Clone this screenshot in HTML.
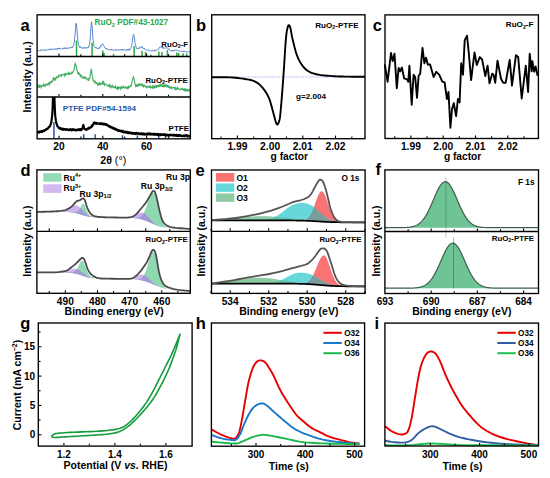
<!DOCTYPE html><html><head><meta charset="utf-8"><style>html,body{margin:0;padding:0;background:#fff;width:550px;height:478px;overflow:hidden}svg{display:block}text{font-family:"Liberation Sans", sans-serif}</style></head><body>
<svg width="550" height="478" viewBox="0 0 550 478">
<rect width="550" height="478" fill="#fff"/>
<clipPath id="ca1"><rect x="37.1" y="14.8" width="153.3" height="41.7"/></clipPath>
<clipPath id="ca2"><rect x="37.1" y="56.5" width="153.3" height="40.5"/></clipPath>
<clipPath id="ca3"><rect x="37.1" y="97.0" width="153.3" height="41.80000000000001"/></clipPath>
<line x1="76.52" y1="56.5" x2="76.52" y2="40.5" stroke="#2aa845" stroke-width="1.5" />
<line x1="92.07" y1="56.5" x2="92.07" y2="42.8" stroke="#2aa845" stroke-width="1.5" />
<line x1="102.8" y1="56.5" x2="102.8" y2="50.4" stroke="#2aa845" stroke-width="1.5" />
<line x1="104.11" y1="56.5" x2="104.11" y2="53" stroke="#2aa845" stroke-width="1.5" />
<line x1="113.53" y1="56.5" x2="113.53" y2="54" stroke="#2aa845" stroke-width="1.5" />
<line x1="134.12" y1="56.5" x2="134.12" y2="46" stroke="#2aa845" stroke-width="1.5" />
<line x1="142" y1="56.5" x2="142" y2="51.1" stroke="#2aa845" stroke-width="1.5" />
<line x1="145.51" y1="56.5" x2="145.51" y2="52" stroke="#2aa845" stroke-width="1.5" />
<line x1="150.98" y1="56.5" x2="150.98" y2="54.5" stroke="#2aa845" stroke-width="1.5" />
<line x1="158.86" y1="56.5" x2="158.86" y2="51.5" stroke="#2aa845" stroke-width="1.5" />
<line x1="161.93" y1="56.5" x2="161.93" y2="52" stroke="#2aa845" stroke-width="1.5" />
<line x1="167.41" y1="56.5" x2="167.41" y2="50" stroke="#2aa845" stroke-width="1.5" />
<line x1="176.82" y1="56.5" x2="176.82" y2="52.5" stroke="#2aa845" stroke-width="1.5" />
<line x1="178.57" y1="56.5" x2="178.57" y2="53" stroke="#2aa845" stroke-width="1.5" />
<line x1="183.17" y1="56.5" x2="183.17" y2="53.5" stroke="#2aa845" stroke-width="1.5" />
<line x1="186.68" y1="56.5" x2="186.68" y2="53.5" stroke="#2aa845" stroke-width="1.5" />
<path d="M37.1,50.58 L37.4,50.82 L37.7,50.54 L38,50.48 L38.3,50.24 L38.6,50.47 L38.9,50.91 L39.2,50.64 L39.5,50.83 L39.8,50.53 L40.1,50.55 L40.4,50.45 L40.7,49.78 L41,50.64 L41.3,50.49 L41.6,50.46 L41.9,49.67 L42.2,49.62 L42.5,49.9 L42.8,50.02 L43.1,50.26 L43.4,50.11 L43.7,50.29 L44,49.85 L44.3,50.16 L44.6,50.17 L44.9,49.77 L45.2,50.58 L45.5,50.14 L45.8,50.34 L46.1,49.68 L46.4,49.61 L46.7,49.73 L47,49.78 L47.3,50.02 L47.6,49.85 L47.9,49.59 L48.2,49.38 L48.5,49.51 L48.8,50.09 L49.1,49.35 L49.4,49.7 L49.7,49.73 L50,49.04 L50.3,49.55 L50.6,49.97 L50.9,48.78 L51.2,49.35 L51.5,49.4 L51.8,49.12 L52.1,49.56 L52.4,49.34 L52.7,48.82 L53,49.6 L53.3,49.52 L53.6,49.59 L53.9,49.74 L54.2,49.34 L54.5,49.23 L54.8,48.7 L55.1,49.35 L55.4,48.89 L55.7,48.92 L56,48.61 L56.3,48.69 L56.6,48.82 L56.9,49.43 L57.2,48.24 L57.5,48.42 L57.8,48.99 L58.1,49.38 L58.4,49.05 L58.7,48.16 L59,47.92 L59.3,48.9 L59.6,48.49 L59.9,48.33 L60.2,49.04 L60.5,49.06 L60.8,48.71 L61.1,48.71 L61.4,48.76 L61.7,49.14 L62,48.78 L62.3,48.72 L62.6,48.71 L62.9,47.94 L63.2,48.92 L63.5,48.78 L63.8,48.6 L64.1,47.7 L64.4,48.15 L64.7,48.64 L65,47.68 L65.3,48.22 L65.6,48.62 L65.9,47.77 L66.2,48.77 L66.5,48.37 L66.8,48.09 L67.1,48.22 L67.4,48.3 L67.7,48.08 L68,48.4 L68.3,47.75 L68.6,47.8 L68.9,48.28 L69.2,47.89 L69.5,47.54 L69.8,48.14 L70.1,48.27 L70.4,47.55 L70.7,47.16 L71,47.53 L71.3,47.45 L71.6,47.3 L71.9,47.78 L72.2,46.79 L72.5,47.41 L72.8,46.28 L73.1,46.09 L73.4,46.05 L73.7,45.39 L74,44.03 L74.3,42.02 L74.6,39.42 L74.9,36.17 L75.2,32.5 L75.5,28.25 L75.8,24.99 L76.1,23.22 L76.4,23.42 L76.7,26.2 L77,29.85 L77.3,34.37 L77.6,37.45 L77.9,40.22 L78.2,42.55 L78.5,44.31 L78.8,45.74 L79.1,46.01 L79.4,46.73 L79.7,47.55 L80,46.23 L80.3,46.9 L80.6,47.51 L80.9,47.67 L81.2,47.71 L81.5,47.55 L81.8,47.99 L82.1,47.92 L82.4,47.68 L82.7,48.76 L83,48.06 L83.3,47.77 L83.6,47.96 L83.9,47.93 L84.2,48 L84.5,47.08 L84.8,47.87 L85.1,48.39 L85.4,47.62 L85.7,47.99 L86,48.33 L86.3,48.26 L86.6,48.43 L86.9,47.26 L87.2,47.65 L87.5,47.56 L87.8,47.78 L88.1,47.77 L88.4,46.21 L88.7,47.17 L89,45.71 L89.3,45.53 L89.6,43.29 L89.9,41.65 L90.2,38.89 L90.5,34.42 L90.8,29.96 L91.1,25.75 L91.4,22.44 L91.7,21.87 L92,24.78 L92.3,28.76 L92.6,32.94 L92.9,38.27 L93.2,40.35 L93.5,43.6 L93.8,44.91 L94.1,46.15 L94.4,47.04 L94.7,47.31 L95,47.74 L95.3,47.18 L95.6,47.34 L95.9,48.2 L96.2,47.74 L96.5,47.79 L96.8,47.7 L97.1,48.7 L97.4,48.55 L97.7,48.82 L98,47.98 L98.3,48.29 L98.6,47.84 L98.9,48.43 L99.2,48.6 L99.5,47.55 L99.8,48.17 L100.1,47.66 L100.4,46.88 L100.7,45.81 L101,46.48 L101.3,45.42 L101.6,44.71 L101.9,44.59 L102.2,44.24 L102.5,44.47 L102.8,43.66 L103.1,44.7 L103.4,45.29 L103.7,45.84 L104,45.88 L104.3,46.28 L104.6,47.45 L104.9,47.62 L105.2,48.04 L105.5,48.84 L105.8,48.52 L106.1,48.02 L106.4,48.85 L106.7,48.46 L107,49.5 L107.3,49.4 L107.6,49.13 L107.9,49.4 L108.2,49.74 L108.5,49.52 L108.8,49.99 L109.1,49.54 L109.4,49.96 L109.7,50.15 L110,50.22 L110.3,49.45 L110.6,50.02 L110.9,49.09 L111.2,49.39 L111.5,49.11 L111.8,50.2 L112.1,49.42 L112.4,49.87 L112.7,49.83 L113,49.91 L113.3,49.74 L113.6,50.05 L113.9,50.62 L114.2,50.03 L114.5,50.22 L114.8,50.41 L115.1,50 L115.4,49.63 L115.7,49.88 L116,50.45 L116.3,49.5 L116.6,49.87 L116.9,50.43 L117.2,50.35 L117.5,50.08 L117.8,50.36 L118.1,50.13 L118.4,49.66 L118.7,49.53 L119,49.85 L119.3,50.39 L119.6,49.87 L119.9,49.75 L120.2,49.8 L120.5,49.53 L120.8,50.02 L121.1,49.65 L121.4,50.18 L121.7,49.23 L122,50.16 L122.3,49.82 L122.6,49.36 L122.9,50.29 L123.2,49.93 L123.5,49.24 L123.8,49.71 L124.1,50.11 L124.4,49.84 L124.7,50.26 L125,50.24 L125.3,50.19 L125.6,50.04 L125.9,50.37 L126.2,50.1 L126.5,50 L126.8,49.08 L127.1,50.09 L127.4,50.19 L127.7,49.59 L128,49.48 L128.3,50.26 L128.6,48.91 L128.9,49.62 L129.2,50.21 L129.5,48.94 L129.8,49.37 L130.1,49.61 L130.4,48.64 L130.7,48.5 L131,48.05 L131.3,46.6 L131.6,45.74 L131.9,44.35 L132.2,42.64 L132.5,40.14 L132.8,37.78 L133.1,35.42 L133.4,34.28 L133.7,34.49 L134,35.2 L134.3,36.71 L134.6,38.95 L134.9,42.4 L135.2,43.84 L135.5,45.26 L135.8,45.35 L136.1,47.35 L136.4,47.88 L136.7,48.67 L137,48.46 L137.3,48.41 L137.6,48.67 L137.9,47.8 L138.2,48.79 L138.5,48.45 L138.8,47.95 L139.1,48.49 L139.4,48.46 L139.7,47.12 L140,47.15 L140.3,47.27 L140.6,47.05 L140.9,46.71 L141.2,46.44 L141.5,47.54 L141.8,47.26 L142.1,46.66 L142.4,46.88 L142.7,48.24 L143,48.29 L143.3,48.87 L143.6,48.79 L143.9,48.45 L144.2,49.06 L144.5,48.4 L144.8,49.06 L145.1,49.44 L145.4,49.76 L145.7,49.42 L146,49.72 L146.3,50 L146.6,50.04 L146.9,50.19 L147.2,50.1 L147.5,49.98 L147.8,50.42 L148.1,50.22 L148.4,49.97 L148.7,50.09 L149,50.36 L149.3,50.38 L149.6,50.52 L149.9,50.52 L150.2,50.63 L150.5,50.58 L150.8,50.23 L151.1,50.87 L151.4,51.14 L151.7,50.97 L152,50.8 L152.3,51.07 L152.6,50.62 L152.9,50.34 L153.2,51.01 L153.5,50.62 L153.8,51.15 L154.1,50.46 L154.4,49.87 L154.7,50.37 L155,51.22 L155.3,50.45 L155.6,50.02 L155.9,50.13 L156.2,50.46 L156.5,50.32 L156.8,50.04 L157.1,50.31 L157.4,49.82 L157.7,49.33 L158,49.27 L158.3,49.36 L158.6,48.82 L158.9,48.52 L159.2,47.46 L159.5,47.48 L159.8,47.5 L160.1,46.89 L160.4,47.18 L160.7,46.89 L161,46.95 L161.3,46.58 L161.6,47.65 L161.9,47.34 L162.2,47.02 L162.5,47.33 L162.8,48.4 L163.1,47.57 L163.4,48.2 L163.7,48.39 L164,48.14 L164.3,47.77 L164.6,48.22 L164.9,48.21 L165.2,48.36 L165.5,48.11 L165.8,47.71 L166.1,47.9 L166.4,47.74 L166.7,47.65 L167,47.72 L167.3,47.81 L167.6,48.4 L167.9,48.1 L168.2,48.57 L168.5,49.1 L168.8,48.88 L169.1,49.51 L169.4,49.2 L169.7,49.86 L170,50.47 L170.3,50.6 L170.6,50.5 L170.9,50.52 L171.2,50.17 L171.5,51.35 L171.8,50.93 L172.1,51.16 L172.4,50.48 L172.7,50.73 L173,50.15 L173.3,51.04 L173.6,51.07 L173.9,50.03 L174.2,50.62 L174.5,50.79 L174.8,49.88 L175.1,49.77 L175.4,49.97 L175.7,50.06 L176,49.74 L176.3,50.23 L176.6,50.32 L176.9,50.5 L177.2,50.61 L177.5,50.99 L177.8,50.99 L178.1,50.25 L178.4,50.65 L178.7,50.57 L179,50.67 L179.3,51.12 L179.6,51.23 L179.9,51.47 L180.2,50.8 L180.5,50.97 L180.8,51.44 L181.1,51.42 L181.4,51.41 L181.7,51.53 L182,51.31 L182.3,51.85 L182.6,51.75 L182.9,51.62 L183.2,51.44 L183.5,51.63 L183.8,50.76 L184.1,51.39 L184.4,51.77 L184.7,51.25 L185,51.87 L185.3,51.87 L185.6,51.36 L185.9,51.78 L186.2,51.78 L186.5,52.07 L186.8,52.14 L187.1,51.93 L187.4,51.67 L187.7,51.94 L188,51.99 L188.3,52.29 L188.6,52.15 L188.9,51.82 L189.2,51.62 L189.5,51.98 L189.8,51.87 L190.1,51.76 L190.4,52.13" fill="none" stroke="#5585c8" stroke-width="1" clip-path="url(#ca1)"/>
<path d="M37.1,86.28 L37.4,86.58 L37.7,86.78 L38,86.17 L38.3,87.76 L38.6,86.12 L38.9,86.92 L39.2,86.28 L39.5,86.82 L39.8,84.67 L40.1,85.6 L40.4,86.14 L40.7,86.3 L41,87.29 L41.3,86.03 L41.6,86.55 L41.9,86.19 L42.2,86.25 L42.5,85.93 L42.8,85.48 L43.1,85.83 L43.4,84.82 L43.7,86.12 L44,84.75 L44.3,85.46 L44.6,86.53 L44.9,85.07 L45.2,85.11 L45.5,85.66 L45.8,84.85 L46.1,84.22 L46.4,84.72 L46.7,84.79 L47,84.73 L47.3,83.71 L47.6,85.09 L47.9,84.91 L48.2,83.78 L48.5,83.8 L48.8,83.25 L49.1,84.22 L49.4,82.82 L49.7,83.51 L50,82.69 L50.3,82.31 L50.6,82.91 L50.9,83.02 L51.2,81.96 L51.5,81.31 L51.8,81.94 L52.1,81.16 L52.4,81.08 L52.7,81.34 L53,79.87 L53.3,76.95 L53.6,78.89 L53.9,78.95 L54.2,79.84 L54.5,78.87 L54.8,79.04 L55.1,77.81 L55.4,79.72 L55.7,79.25 L56,77.48 L56.3,77.08 L56.6,76.79 L56.9,78.24 L57.2,77.08 L57.5,77.15 L57.8,76.84 L58.1,76.79 L58.4,76.04 L58.7,76.54 L59,75.5 L59.3,76.15 L59.6,76.22 L59.9,76.14 L60.2,75.56 L60.5,74.99 L60.8,75.46 L61.1,74.94 L61.4,76.09 L61.7,75.54 L62,74.93 L62.3,74.64 L62.6,74.42 L62.9,74.21 L63.2,74.48 L63.5,74.79 L63.8,74.84 L64.1,74.8 L64.4,75.64 L64.7,73.88 L65,74.23 L65.3,75.82 L65.6,72.98 L65.9,73.75 L66.2,74.13 L66.5,74.09 L66.8,74.21 L67.1,73.79 L67.4,74.12 L67.7,73.9 L68,74.29 L68.3,72.66 L68.6,73.22 L68.9,73.71 L69.2,73.05 L69.5,73 L69.8,73.96 L70.1,73.14 L70.4,73.86 L70.7,73.87 L71,73.55 L71.3,73.6 L71.6,73.15 L71.9,72.26 L72.2,72.95 L72.5,73.05 L72.8,72.18 L73.1,72.03 L73.4,71.94 L73.7,70.09 L74,69.82 L74.3,69.08 L74.6,65.97 L74.9,64.8 L75.2,63.52 L75.5,64.36 L75.8,64.45 L76.1,66.3 L76.4,67.1 L76.7,69.13 L77,70.49 L77.3,70.48 L77.6,73.17 L77.9,73.38 L78.2,72.16 L78.5,73.96 L78.8,73.77 L79.1,74.42 L79.4,74.64 L79.7,73.78 L80,74.79 L80.3,76.06 L80.6,75.05 L80.9,75.01 L81.2,75.03 L81.5,75.33 L81.8,76.49 L82.1,77.52 L82.4,76.97 L82.7,77.07 L83,78.44 L83.3,76.94 L83.6,76.99 L83.9,77.86 L84.2,78.02 L84.5,77.23 L84.8,77.28 L85.1,78.3 L85.4,78.41 L85.7,77.61 L86,78.41 L86.3,78.33 L86.6,79.06 L86.9,78.84 L87.2,78.97 L87.5,78.92 L87.8,79.86 L88.1,80.14 L88.4,79.12 L88.7,79.81 L89,78.72 L89.3,78.93 L89.6,78.74 L89.9,78.13 L90.2,75.32 L90.5,73.3 L90.8,71.16 L91.1,68.7 L91.4,70.03 L91.7,71.67 L92,74.85 L92.3,76.19 L92.6,77.33 L92.9,79.62 L93.2,80.42 L93.5,80.35 L93.8,81.52 L94.1,81.12 L94.4,81.19 L94.7,82.09 L95,81.09 L95.3,81.84 L95.6,82.45 L95.9,83.18 L96.2,82.77 L96.5,83.25 L96.8,82.87 L97.1,83.6 L97.4,84.52 L97.7,83.21 L98,85.14 L98.3,83.42 L98.6,83.89 L98.9,84.05 L99.2,84.61 L99.5,83.27 L99.8,82.75 L100.1,84.32 L100.4,84.28 L100.7,84 L101,85 L101.3,83.33 L101.6,83.16 L101.9,83.38 L102.2,82.91 L102.5,83.63 L102.8,81.92 L103.1,82.55 L103.4,80.88 L103.7,83.65 L104,83.17 L104.3,84.18 L104.6,85.14 L104.9,84.04 L105.2,84.06 L105.5,84.05 L105.8,83.95 L106.1,84.24 L106.4,85.14 L106.7,84.9 L107,85.03 L107.3,84.99 L107.6,85.75 L107.9,85.59 L108.2,85.3 L108.5,85.88 L108.8,85.48 L109.1,84.97 L109.4,86.62 L109.7,86.12 L110,85.35 L110.3,86.66 L110.6,86.31 L110.9,85.25 L111.2,87.24 L111.5,86.56 L111.8,86.98 L112.1,86.65 L112.4,86.53 L112.7,85.78 L113,87.38 L113.3,86.9 L113.6,86.79 L113.9,87.26 L114.2,87.18 L114.5,87.63 L114.8,87.08 L115.1,87.37 L115.4,86.19 L115.7,87.31 L116,88.05 L116.3,88.44 L116.6,87.42 L116.9,87.55 L117.2,88.57 L117.5,87.42 L117.8,88.05 L118.1,88.61 L118.4,87.61 L118.7,88.32 L119,87.15 L119.3,87.69 L119.6,87.51 L119.9,87.62 L120.2,88.22 L120.5,88.97 L120.8,87.13 L121.1,87.17 L121.4,87.81 L121.7,86.87 L122,87.79 L122.3,87.82 L122.6,87.3 L122.9,87.78 L123.2,86.52 L123.5,87.89 L123.8,86.5 L124.1,87 L124.4,87.07 L124.7,87.15 L125,87.89 L125.3,87.4 L125.6,87.09 L125.9,87.62 L126.2,88.21 L126.5,87.24 L126.8,87.42 L127.1,87.91 L127.4,87.29 L127.7,86.32 L128,88.54 L128.3,88.33 L128.6,85.76 L128.9,86.87 L129.2,87.07 L129.5,87.32 L129.8,87.04 L130.1,86.35 L130.4,85.7 L130.7,86.12 L131,86.28 L131.3,84.41 L131.6,83.59 L131.9,83.03 L132.2,80.45 L132.5,79.84 L132.8,78.19 L133.1,77.64 L133.4,76.74 L133.7,77.38 L134,79.05 L134.3,80.82 L134.6,81.9 L134.9,83.49 L135.2,84.82 L135.5,85.69 L135.8,86.38 L136.1,85.12 L136.4,85.45 L136.7,84.26 L137,86.88 L137.3,85.27 L137.6,85.61 L137.9,85.84 L138.2,84.58 L138.5,85.53 L138.8,85.07 L139.1,83.82 L139.4,84.93 L139.7,85.31 L140,83.35 L140.3,84.87 L140.6,84.47 L140.9,84.64 L141.2,84.68 L141.5,85.28 L141.8,84.48 L142.1,85.28 L142.4,84.72 L142.7,85.6 L143,84.86 L143.3,85.45 L143.6,86.7 L143.9,86.06 L144.2,85.81 L144.5,85.32 L144.8,85.62 L145.1,86.29 L145.4,86.8 L145.7,86.56 L146,86.69 L146.3,86.41 L146.6,87.3 L146.9,86.31 L147.2,86.28 L147.5,87.19 L147.8,86.76 L148.1,86.6 L148.4,86.48 L148.7,86.73 L149,87.31 L149.3,87.2 L149.6,86.32 L149.9,87.35 L150.2,87.21 L150.5,86.5 L150.8,87.56 L151.1,86.92 L151.4,86.88 L151.7,87.55 L152,87.86 L152.3,86.64 L152.6,87.31 L152.9,86.51 L153.2,88.41 L153.5,86.7 L153.8,87.7 L154.1,86.57 L154.4,87.42 L154.7,88.23 L155,85.34 L155.3,86.56 L155.6,87.07 L155.9,86.66 L156.2,86.24 L156.5,87.86 L156.8,86.54 L157.1,85.41 L157.4,86.82 L157.7,85.17 L158,86.78 L158.3,85.64 L158.6,85.96 L158.9,86.53 L159.2,85.75 L159.5,84.76 L159.8,84.51 L160.1,86.18 L160.4,85.88 L160.7,84.94 L161,85.96 L161.3,85.79 L161.6,85.95 L161.9,84.27 L162.2,85.52 L162.5,86.31 L162.8,86.26 L163.1,86.38 L163.4,84.4 L163.7,85.97 L164,86.13 L164.3,87.32 L164.6,85.16 L164.9,85.47 L165.2,85.64 L165.5,86.12 L165.8,85.32 L166.1,86.33 L166.4,85.26 L166.7,86.02 L167,85.71 L167.3,86.3 L167.6,85.98 L167.9,85.61 L168.2,87.4 L168.5,87.08 L168.8,86.7 L169.1,87.27 L169.4,87.84 L169.7,86.74 L170,87.33 L170.3,87.8 L170.6,87.87 L170.9,87.42 L171.2,86.42 L171.5,88.49 L171.8,88 L172.1,87.86 L172.4,87.74 L172.7,88.12 L173,87.76 L173.3,87.45 L173.6,87.67 L173.9,87.81 L174.2,87.85 L174.5,87.57 L174.8,88.7 L175.1,87.58 L175.4,88.82 L175.7,87.86 L176,88.73 L176.3,89.39 L176.6,88.74 L176.9,88.23 L177.2,88.75 L177.5,88.86 L177.8,87.78 L178.1,88.5 L178.4,89.01 L178.7,88.68 L179,89.06 L179.3,89.5 L179.6,89.57 L179.9,89.7 L180.2,89.56 L180.5,89.07 L180.8,89.27 L181.1,89.16 L181.4,89.18 L181.7,89.3 L182,88.41 L182.3,89.29 L182.6,89.52 L182.9,88.99 L183.2,89.6 L183.5,89.96 L183.8,89.59 L184.1,90.98 L184.4,88.21 L184.7,89.69 L185,88.76 L185.3,90.49 L185.6,91.53 L185.9,88.48 L186.2,90.1 L186.5,90.37 L186.8,89.92 L187.1,90.47 L187.4,88.84 L187.7,90.73 L188,90.49 L188.3,90.32 L188.6,89.99 L188.9,90.77 L189.2,90.13 L189.5,90.6 L189.8,90.2 L190.1,89.2 L190.4,90.57" fill="none" stroke="#45ad62" stroke-width="1.1" clip-path="url(#ca2)"/>
<line x1="53.96" y1="138.8" x2="53.96" y2="122" stroke="#1f5aa6" stroke-width="1.5" />
<line x1="83.75" y1="138.8" x2="83.75" y2="134.3" stroke="#1f5aa6" stroke-width="1.5" />
<line x1="95.14" y1="138.8" x2="95.14" y2="134.3" stroke="#1f5aa6" stroke-width="1.5" />
<line x1="122.51" y1="138.8" x2="122.51" y2="135.3" stroke="#1f5aa6" stroke-width="1.5" />
<line x1="137.4" y1="138.8" x2="137.4" y2="135.3" stroke="#1f5aa6" stroke-width="1.5" />
<line x1="158.86" y1="138.8" x2="158.86" y2="135.6" stroke="#1f5aa6" stroke-width="1.5" />
<line x1="165.43" y1="138.8" x2="165.43" y2="135.6" stroke="#1f5aa6" stroke-width="1.5" />
<path d="M37.1,132.55 L37.35,132.66 L37.6,132.11 L37.85,132.31 L38.1,132.45 L38.35,132.25 L38.6,132.53 L38.85,132.69 L39.1,131.76 L39.35,131.4 L39.6,132.18 L39.85,132.32 L40.1,132.08 L40.35,131.98 L40.6,131.49 L40.85,131.4 L41.1,131.81 L41.35,131.21 L41.6,130.87 L41.85,131.05 L42.1,132.03 L42.35,131.79 L42.6,130.93 L42.85,130.84 L43.1,131.06 L43.35,130.68 L43.6,131.22 L43.85,130.72 L44.1,130.33 L44.35,130.96 L44.6,130.3 L44.85,130.43 L45.1,130.24 L45.35,130.02 L45.6,130.08 L45.85,129.63 L46.1,129.14 L46.35,128.88 L46.6,129.01 L46.85,128.99 L47.1,129.03 L47.35,128.87 L47.6,128.81 L47.85,128.47 L48.1,127.96 L48.35,127.73 L48.6,127.03 L48.85,127.31 L49.1,127.21 L49.35,126.92 L49.6,126.38 L49.85,125.97 L50.1,125.84 L50.35,125.03 L50.6,124.62 L50.85,123.83 L51.1,122.82 L51.35,122.04 L51.6,120.09 L51.85,118.37 L52.1,115.88 L52.35,112.67 L52.6,108.83 L52.85,102.36 L53.1,92.68 L53.35,81.7 L53.6,73.41 L53.85,74.4 L54.1,84.12 L54.35,94.33 L54.6,103.12 L54.85,109.52 L55.1,114.03 L55.35,116.64 L55.6,118.57 L55.85,120.41 L56.1,121.63 L56.35,122.63 L56.6,124.2 L56.85,124.27 L57.1,125.07 L57.35,126.22 L57.6,126.37 L57.85,126.49 L58.1,126.54 L58.35,127.14 L58.6,127.76 L58.85,127.68 L59.1,128.08 L59.35,127.91 L59.6,128.19 L59.85,128.12 L60.1,128.44 L60.35,128.82 L60.6,128.11 L60.85,128.61 L61.1,128.79 L61.35,128.63 L61.6,128.78 L61.85,129.18 L62.1,129.61 L62.35,129.25 L62.6,129.21 L62.85,128.7 L63.1,129.79 L63.35,129.28 L63.6,129.28 L63.85,129 L64.1,129.35 L64.35,129.07 L64.6,129.45 L64.85,129.6 L65.1,129.49 L65.35,129.59 L65.6,129.27 L65.85,129.98 L66.1,129.38 L66.35,129.05 L66.6,129.55 L66.85,129.4 L67.1,129.34 L67.35,129.55 L67.6,129.76 L67.85,129.33 L68.1,129.66 L68.35,130.14 L68.6,129.93 L68.85,129.69 L69.1,129.79 L69.35,129.72 L69.6,129.75 L69.85,130 L70.1,129.76 L70.35,129.07 L70.6,129.79 L70.85,129.54 L71.1,130 L71.35,129.63 L71.6,129.86 L71.85,130.48 L72.1,129.51 L72.35,129.49 L72.6,129.41 L72.85,129.12 L73.1,129.28 L73.35,129.95 L73.6,129.65 L73.85,129.29 L74.1,129.4 L74.35,130.03 L74.6,129.62 L74.85,129.74 L75.1,129.95 L75.35,130.26 L75.6,130.44 L75.85,130.16 L76.1,129.9 L76.35,129.91 L76.6,130.39 L76.85,130.28 L77.1,129.75 L77.35,129.98 L77.6,129.93 L77.85,129.85 L78.1,129.68 L78.35,129.43 L78.6,129.66 L78.85,129.35 L79.1,130.17 L79.35,129.95 L79.6,129.42 L79.85,130.18 L80.1,130.01 L80.35,129.14 L80.6,130.23 L80.85,129.88 L81.1,130.2 L81.35,129.14 L81.6,129.55 L81.85,129.36 L82.1,129.05 L82.35,128.64 L82.6,128.26 L82.85,126.51 L83.1,125.4 L83.35,124.92 L83.6,126.02 L83.85,127.14 L84.1,128.24 L84.35,128.71 L84.6,128.94 L84.85,128.91 L85.1,129.1 L85.35,129.6 L85.6,129.6 L85.85,129.43 L86.1,129.32 L86.35,129.84 L86.6,129.09 L86.85,129.36 L87.1,129.41 L87.35,128.87 L87.6,129.09 L87.85,128.39 L88.1,128.92 L88.35,128.56 L88.6,127.9 L88.85,128.46 L89.1,127.87 L89.35,128.41 L89.6,127.7 L89.85,127.73 L90.1,127.74 L90.35,127.43 L90.6,127.49 L90.85,127.12 L91.1,127.36 L91.35,126.99 L91.6,126.72 L91.85,125.5 L92.1,126.33 L92.35,125.65 L92.6,124.75 L92.85,124.95 L93.1,124.67 L93.35,124.42 L93.6,123.31 L93.85,123.59 L94.1,122.57 L94.35,123.16 L94.6,122.53 L94.85,122.99 L95.1,122.86 L95.35,122.78 L95.6,123.55 L95.85,123.56 L96.1,123.81 L96.35,123.65 L96.6,123.25 L96.85,122.95 L97.1,123.28 L97.35,123.3 L97.6,123.28 L97.85,123.72 L98.1,123.66 L98.35,123.5 L98.6,123.65 L98.85,123.57 L99.1,123.7 L99.35,123.87 L99.6,123.95 L99.85,123.47 L100.1,123.24 L100.35,124.13 L100.6,123.76 L100.85,124.07 L101.1,123.26 L101.35,123.68 L101.6,123.81 L101.85,123.39 L102.1,123.69 L102.35,124.09 L102.6,124.22 L102.85,124.39 L103.1,123.68 L103.35,123.54 L103.6,124.14 L103.85,124.29 L104.1,124.09 L104.35,123.66 L104.6,124.37 L104.85,124.46 L105.1,124.48 L105.35,124.26 L105.6,124.59 L105.85,124.82 L106.1,124.51 L106.35,124.21 L106.6,124.96 L106.85,125.09 L107.1,125.04 L107.35,125.4 L107.6,125.04 L107.85,125.29 L108.1,125.33 L108.35,125.74 L108.6,126.2 L108.85,125.79 L109.1,126.63 L109.35,126.61 L109.6,126.54 L109.85,126.62 L110.1,127.13 L110.35,126.69 L110.6,126.85 L110.85,126.71 L111.1,127.32 L111.35,127.73 L111.6,127.63 L111.85,127.72 L112.1,127.65 L112.35,127.88 L112.6,127.52 L112.85,128.38 L113.1,128.06 L113.35,127.97 L113.6,128.2 L113.85,128.29 L114.1,128.91 L114.35,129.09 L114.6,128.49 L114.85,129.29 L115.1,129.4 L115.35,129.08 L115.6,128.92 L115.85,129.27 L116.1,129.42 L116.35,129.83 L116.6,129.74 L116.85,129.35 L117.1,130.15 L117.35,129.73 L117.6,130.53 L117.85,129.96 L118.1,130.18 L118.35,130.2 L118.6,130.36 L118.85,130.98 L119.1,130.92 L119.35,130.91 L119.6,130.89 L119.85,130.4 L120.1,130.78 L120.35,130.83 L120.6,130.77 L120.85,131.29 L121.1,130.98 L121.35,131.05 L121.6,131.02 L121.85,130.79 L122.1,131.65 L122.35,131.94 L122.6,131.66 L122.85,131.38 L123.1,130.93 L123.35,131.86 L123.6,132.24 L123.85,132.03 L124.1,132.27 L124.35,132.47 L124.6,132.4 L124.85,131.97 L125.1,132.45 L125.35,132.41 L125.6,131.75 L125.85,132.12 L126.1,131.85 L126.35,132.28 L126.6,132.52 L126.85,132.06 L127.1,131.8 L127.35,132.85 L127.6,132.6 L127.85,132.97 L128.1,132.16 L128.35,132.92 L128.6,133.25 L128.85,133.27 L129.1,132.64 L129.35,132.82 L129.6,132.73 L129.85,133.11 L130.1,133.16 L130.35,132.91 L130.6,132.51 L130.85,133.17 L131.1,132.85 L131.35,133.21 L131.6,133.14 L131.85,133.58 L132.1,133.45 L132.35,132.99 L132.6,133.25 L132.85,133.69 L133.1,133.01 L133.35,133.32 L133.6,133.57 L133.85,133.6 L134.1,133.4 L134.35,132.87 L134.6,132.9 L134.85,133.37 L135.1,133.43 L135.35,134.09 L135.6,133.09 L135.85,133.71 L136.1,133.61 L136.35,132.9 L136.6,133.17 L136.85,133.48 L137.1,133.3 L137.35,133.42 L137.6,133.63 L137.85,133.26 L138.1,133.66 L138.35,133.35 L138.6,133.39 L138.85,133.73 L139.1,133.42 L139.35,133.69 L139.6,134.1 L139.85,133.65 L140.1,133.61 L140.35,133.9 L140.6,133.58 L140.85,134.03 L141.1,133.34 L141.35,133.93 L141.6,133.61 L141.85,133.54 L142.1,134.32 L142.35,133.55 L142.6,134.34 L142.85,134.02 L143.1,134.27 L143.35,133.55 L143.6,134.22 L143.85,134.31 L144.1,133.84 L144.35,133.85 L144.6,134.64 L144.85,133.97 L145.1,133.8 L145.35,133.74 L145.6,134.08 L145.85,134.05 L146.1,134.02 L146.35,134.49 L146.6,133.89 L146.85,134.14 L147.1,134.45 L147.35,133.72 L147.6,134.34 L147.85,134.59 L148.1,133.65 L148.35,133.73 L148.6,133.76 L148.85,133.53 L149.1,134.23 L149.35,133.55 L149.6,134.27 L149.85,134.56 L150.1,133.66 L150.35,134.06 L150.6,133.59 L150.85,134.41 L151.1,133.96 L151.35,134.11 L151.6,134.22 L151.85,134.38 L152.1,134.12 L152.35,134.24 L152.6,134.08 L152.85,134.29 L153.1,133.92 L153.35,134.3 L153.6,133.71 L153.85,134.16 L154.1,134.89 L154.35,134.36 L154.6,133.97 L154.85,134.44 L155.1,134.08 L155.35,133.89 L155.6,134.18 L155.85,134.64 L156.1,134.54 L156.35,134.41 L156.6,134.18 L156.85,134.15 L157.1,134.89 L157.35,134.57 L157.6,134.23 L157.85,133.89 L158.1,134.13 L158.35,135.3 L158.6,134.22 L158.85,134.56 L159.1,134.66 L159.35,134.56 L159.6,134.54 L159.85,134.22 L160.1,134.33 L160.35,135.17 L160.6,134.45 L160.85,134.94 L161.1,134.2 L161.35,134.64 L161.6,134.81 L161.85,135.06 L162.1,134.42 L162.35,134.95 L162.6,134.9 L162.85,134.58 L163.1,134.96 L163.35,134.56 L163.6,134.6 L163.85,134.85 L164.1,134.05 L164.35,134.85 L164.6,134.6 L164.85,134.47 L165.1,134.8 L165.35,135.17 L165.6,134.83 L165.85,135.35 L166.1,134.63 L166.35,134.6 L166.6,135.47 L166.85,135.14 L167.1,135.32 L167.35,134.8 L167.6,135.3 L167.85,135.15 L168.1,135.28 L168.35,135.11 L168.6,135.48 L168.85,134.94 L169.1,134.85 L169.35,134.71 L169.6,135.52 L169.85,134.96 L170.1,134.88 L170.35,134.93 L170.6,135.08 L170.85,134.85 L171.1,135.15 L171.35,135.06 L171.6,135.09 L171.85,134.98 L172.1,135.29 L172.35,135.15 L172.6,135.33 L172.85,135.38 L173.1,135.42 L173.35,134.67 L173.6,135.17 L173.85,135.11 L174.1,135.59 L174.35,134.89 L174.6,135.16 L174.85,135.3 L175.1,135.29 L175.35,135.7 L175.6,135.28 L175.85,135.71 L176.1,134.99 L176.35,134.9 L176.6,135.82 L176.85,135.59 L177.1,135.62 L177.35,135.52 L177.6,135.64 L177.85,135.14 L178.1,135.8 L178.35,135.36 L178.6,135.83 L178.85,135.57 L179.1,134.96 L179.35,135.17 L179.6,135.91 L179.85,135.54 L180.1,135.47 L180.35,135.67 L180.6,135.48 L180.85,135.46 L181.1,135.66 L181.35,135.68 L181.6,136.1 L181.85,135.67 L182.1,136.23 L182.35,136.22 L182.6,136.2 L182.85,136.02 L183.1,135.75 L183.35,135.76 L183.6,135.69 L183.85,135.52 L184.1,135.73 L184.35,135.57 L184.6,136.26 L184.85,135.94 L185.1,135.65 L185.35,135.22 L185.6,135.79 L185.85,135.69 L186.1,135.5 L186.35,135.5 L186.6,135.17 L186.85,136.03 L187.1,135.85 L187.35,136.65 L187.6,135.88 L187.85,135.85 L188.1,136.34 L188.35,135.96 L188.6,135.97 L188.85,135.82 L189.1,135.76 L189.35,136.4 L189.6,136.26 L189.85,136.49 L190.1,135.88 L190.35,136" fill="none" stroke="#000" stroke-width="2.2" stroke-linejoin="round" clip-path="url(#ca3)"/>
<rect x="37.1" y="14.8" width="153.3" height="124" fill="none" stroke="#000" stroke-width="1.35"/>
<line x1="37.1" y1="56.5" x2="190.4" y2="56.5" stroke="#000" stroke-width="1.35" />
<line x1="37.1" y1="97" x2="190.4" y2="97" stroke="#000" stroke-width="1.35" />
<line x1="59" y1="56" x2="59" y2="53.4" stroke="#000" stroke-width="1.1" />
<line x1="102.8" y1="56" x2="102.8" y2="53.4" stroke="#000" stroke-width="1.1" />
<line x1="146.6" y1="56" x2="146.6" y2="53.4" stroke="#000" stroke-width="1.1" />
<line x1="80.9" y1="56" x2="80.9" y2="54.2" stroke="#000" stroke-width="1.1" />
<line x1="124.7" y1="56" x2="124.7" y2="54.2" stroke="#000" stroke-width="1.1" />
<line x1="168.5" y1="56" x2="168.5" y2="54.2" stroke="#000" stroke-width="1.1" />
<line x1="59" y1="96.5" x2="59" y2="93.9" stroke="#000" stroke-width="1.1" />
<line x1="102.8" y1="96.5" x2="102.8" y2="93.9" stroke="#000" stroke-width="1.1" />
<line x1="146.6" y1="96.5" x2="146.6" y2="93.9" stroke="#000" stroke-width="1.1" />
<line x1="80.9" y1="96.5" x2="80.9" y2="94.7" stroke="#000" stroke-width="1.1" />
<line x1="124.7" y1="96.5" x2="124.7" y2="94.7" stroke="#000" stroke-width="1.1" />
<line x1="168.5" y1="96.5" x2="168.5" y2="94.7" stroke="#000" stroke-width="1.1" />
<line x1="59" y1="138.3" x2="59" y2="135.7" stroke="#000" stroke-width="1.1" />
<line x1="102.8" y1="138.3" x2="102.8" y2="135.7" stroke="#000" stroke-width="1.1" />
<line x1="146.6" y1="138.3" x2="146.6" y2="135.7" stroke="#000" stroke-width="1.1" />
<line x1="80.9" y1="138.3" x2="80.9" y2="136.5" stroke="#000" stroke-width="1.1" />
<line x1="124.7" y1="138.3" x2="124.7" y2="136.5" stroke="#000" stroke-width="1.1" />
<line x1="168.5" y1="138.3" x2="168.5" y2="136.5" stroke="#000" stroke-width="1.1" />
<text x="20.5" y="30.5" font-size="16.5" font-weight="bold" fill="#000" text-anchor="start" >a</text>
<text x="94.5" y="24.9" font-size="8.2" font-weight="bold" fill="#2aa845" text-anchor="start" >RuO<tspan font-size="5.6" dy="1.6">2</tspan><tspan dy="-1.6"> PDF#43-1027</tspan></text>
<text x="161.3" y="46.6" font-size="7.8" font-weight="bold" fill="#000" text-anchor="start" >RuO<tspan font-size="5.4" dy="1.6">2</tspan><tspan dy="-1.6">-F</tspan></text>
<text x="145.4" y="82.6" font-size="7.9" font-weight="bold" fill="#000" text-anchor="start" >RuO<tspan font-size="5.4" dy="1.6">2</tspan><tspan dy="-1.6">-PTFE</tspan></text>
<text x="62.8" y="111.2" font-size="8.1" font-weight="bold" fill="#1f5aa6" text-anchor="start" >PTFE PDF#54-1594</text>
<text x="168.6" y="131.4" font-size="8" font-weight="bold" fill="#000" text-anchor="start" >PTFE</text>
<text x="59" y="149.8" font-size="10.2" font-weight="bold" fill="#000" text-anchor="middle" >20</text>
<text x="102.8" y="149.8" font-size="10.2" font-weight="bold" fill="#000" text-anchor="middle" >40</text>
<text x="146.6" y="149.8" font-size="10.2" font-weight="bold" fill="#000" text-anchor="middle" >60</text>
<text x="100.3" y="163.8" font-size="10.6" font-weight="bold" fill="#000" text-anchor="start" >2θ<tspan font-weight="normal"> (°)</tspan></text>
<text x="0" y="0" font-size="10.5" font-weight="bold" text-anchor="middle" transform="translate(30.8,76.8) rotate(-90)">Intensity (a.u.)</text>
<line x1="211.7" y1="77" x2="365.0" y2="77" stroke="#8c8cf0" stroke-width="0.8" stroke-dasharray="1.2,1.2"/>
<path d="M211.7,77.3 L213.73,77.29 L216.56,77.27 L219.91,77.25 L223.46,77.25 L226.92,77.3 L230,77.4 L232.76,77.57 L235.46,77.79 L238.07,78.04 L240.56,78.34 L242.92,78.66 L245.1,79 L247.09,79.33 L248.9,79.66 L250.57,80.01 L252.13,80.42 L253.63,80.94 L255.1,81.6 L256.52,82.39 L257.86,83.29 L259.14,84.29 L260.36,85.39 L261.54,86.59 L262.7,87.9 L263.84,89.32 L264.96,90.86 L266.04,92.51 L267.06,94.24 L268.02,96.04 L268.9,97.9 L269.68,99.87 L270.38,101.99 L271.01,104.17 L271.6,106.36 L272.15,108.49 L272.7,110.5 L273.24,112.45 L273.75,114.41 L274.23,116.32 L274.69,118.1 L275.11,119.68 L275.5,121 L275.85,122.06 L276.14,122.93 L276.41,123.59 L276.67,124.07 L276.92,124.37 L277.2,124.5 L277.5,124.45 L277.8,124.2 L278.11,123.78 L278.42,123.19 L278.72,122.42 L279,121.5 L279.25,120.64 L279.47,119.9 L279.69,118.98 L279.91,117.63 L280.18,115.56 L280.5,112.5 L280.89,108.24 L281.35,102.95 L281.84,96.94 L282.34,90.54 L282.84,84.05 L283.3,77.8 L283.74,71.39 L284.19,64.51 L284.62,57.54 L285.04,50.88 L285.43,44.94 L285.8,40.1 L286.13,36.49 L286.43,33.83 L286.71,31.87 L286.98,30.4 L287.24,29.18 L287.5,28 L287.76,26.92 L288.01,26.15 L288.26,25.64 L288.51,25.34 L288.75,25.21 L289,25.2 L289.24,25.3 L289.47,25.54 L289.7,25.95 L289.94,26.56 L290.2,27.4 L290.5,28.5 L290.81,29.89 L291.11,31.54 L291.43,33.42 L291.8,35.5 L292.25,37.73 L292.8,40.1 L293.45,42.73 L294.17,45.69 L294.97,48.81 L295.84,51.92 L296.78,54.87 L297.8,57.5 L298.89,59.83 L300.05,62.01 L301.29,64.03 L302.59,65.87 L303.96,67.53 L305.4,69 L306.87,70.25 L308.39,71.26 L309.96,72.1 L311.64,72.8 L313.44,73.42 L315.4,74 L317.56,74.51 L319.91,74.91 L322.39,75.22 L324.93,75.47 L327.49,75.69 L330,75.9 L332.42,76.09 L334.79,76.24 L337.16,76.36 L339.61,76.45 L342.21,76.53 L345,76.6 L348.28,76.66 L352.04,76.71 L355.94,76.74 L359.63,76.77 L362.77,76.78 L365,76.8" fill="none" stroke="#000" stroke-width="1.9" stroke-linejoin="round"/>
<rect x="211.7" y="14.8" width="153.3" height="123.9" fill="none" stroke="#000" stroke-width="1.35"/>
<line x1="237.4" y1="138.2" x2="237.4" y2="135.6" stroke="#000" stroke-width="1.1" />
<line x1="270.1" y1="138.2" x2="270.1" y2="135.6" stroke="#000" stroke-width="1.1" />
<line x1="302.8" y1="138.2" x2="302.8" y2="135.6" stroke="#000" stroke-width="1.1" />
<line x1="335.5" y1="138.2" x2="335.5" y2="135.6" stroke="#000" stroke-width="1.1" />
<line x1="221.05" y1="138.2" x2="221.05" y2="136.4" stroke="#000" stroke-width="1.1" />
<line x1="253.75" y1="138.2" x2="253.75" y2="136.4" stroke="#000" stroke-width="1.1" />
<line x1="286.45" y1="138.2" x2="286.45" y2="136.4" stroke="#000" stroke-width="1.1" />
<line x1="319.15" y1="138.2" x2="319.15" y2="136.4" stroke="#000" stroke-width="1.1" />
<line x1="351.85" y1="138.2" x2="351.85" y2="136.4" stroke="#000" stroke-width="1.1" />
<text x="237.4" y="149.8" font-size="10.3" font-weight="bold" fill="#000" text-anchor="middle" >1.99</text>
<text x="270.1" y="149.8" font-size="10.3" font-weight="bold" fill="#000" text-anchor="middle" >2.00</text>
<text x="302.8" y="149.8" font-size="10.3" font-weight="bold" fill="#000" text-anchor="middle" >2.01</text>
<text x="335.5" y="149.8" font-size="10.3" font-weight="bold" fill="#000" text-anchor="middle" >2.02</text>
<text x="289.3" y="159.6" font-size="10.2" font-weight="bold" fill="#000" text-anchor="middle" >g factor</text>
<text x="196" y="30.5" font-size="16.5" font-weight="bold" fill="#000" text-anchor="start" >b</text>
<text x="315.2" y="27.5" font-size="8.1" font-weight="bold" fill="#000" text-anchor="start" >RuO<tspan font-size="5.3" dy="1.6">2</tspan><tspan dy="-1.6">-PTFE</tspan></text>
<text x="296" y="99.4" font-size="8.1" font-weight="bold" fill="#000" text-anchor="start" >g=2.004</text>
<path d="M384.8,64.5 L387.6,81.7 L391,53 L392.7,61 L394.5,53.7 L396.8,88.2 L398.6,68 L400.2,71.4 L401.9,67.5 L404.1,78.3 L407.1,79.4 L408.3,81.7 L409.4,65.6 L411.7,104.7 L413.6,74.8 L415.2,77.1 L417,97.8 L418.6,76 L420.2,73.7 L422.5,47.9 L424.4,63.3 L426,57.6 L427.8,64.5 L430.1,64.5 L433.6,77.1 L436.3,71.8 L439.3,74.8 L442.3,81.7 L444.6,82.4 L446.9,99 L448.5,92 L450.4,127.7 L452,109.3 L453.8,103.1 L456.1,116.2 L457.9,99 L459.6,102.4 L461.2,63.3 L463,74.8 L464.7,40.3 L467,35.7 L468.8,53 L471.1,80.1 L474.5,52.5 L476.8,65 L479.8,57.1 L482.1,59.4 L485.3,76 L487.6,65.6 L489.5,83.3 L492.2,73.7 L493.6,74.8 L495.2,82.9 L497.5,60.6 L501,78.7 L503.3,82.9 L505.6,82.9 L509.7,59.9 L512,85.6 L515.9,55.3 L518.2,57.1 L521.7,98.5 L525.8,65.6 L528.1,92 L529.7,53.7 L531.6,71.4 L532.4,61.3 L534.1,71.7 L535.6,66.5 L537.6,75.9" fill="none" stroke="#000" stroke-width="1.9" stroke-linejoin="round"/>
<rect x="385" y="14.9" width="153.4" height="123.6" fill="none" stroke="#000" stroke-width="1.35"/>
<line x1="410.9" y1="138" x2="410.9" y2="135.4" stroke="#000" stroke-width="1.1" />
<line x1="443.2" y1="138" x2="443.2" y2="135.4" stroke="#000" stroke-width="1.1" />
<line x1="475.5" y1="138" x2="475.5" y2="135.4" stroke="#000" stroke-width="1.1" />
<line x1="507.8" y1="138" x2="507.8" y2="135.4" stroke="#000" stroke-width="1.1" />
<line x1="394.75" y1="138" x2="394.75" y2="136.2" stroke="#000" stroke-width="1.1" />
<line x1="427.05" y1="138" x2="427.05" y2="136.2" stroke="#000" stroke-width="1.1" />
<line x1="459.35" y1="138" x2="459.35" y2="136.2" stroke="#000" stroke-width="1.1" />
<line x1="491.65" y1="138" x2="491.65" y2="136.2" stroke="#000" stroke-width="1.1" />
<line x1="523.95" y1="138" x2="523.95" y2="136.2" stroke="#000" stroke-width="1.1" />
<text x="410.9" y="149.6" font-size="10.3" font-weight="bold" fill="#000" text-anchor="middle" >1.99</text>
<text x="443.2" y="149.6" font-size="10.3" font-weight="bold" fill="#000" text-anchor="middle" >2.00</text>
<text x="475.5" y="149.6" font-size="10.3" font-weight="bold" fill="#000" text-anchor="middle" >2.01</text>
<text x="507.8" y="149.6" font-size="10.3" font-weight="bold" fill="#000" text-anchor="middle" >2.02</text>
<text x="462.6" y="159.6" font-size="10.2" font-weight="bold" fill="#000" text-anchor="middle" >g factor</text>
<text x="372.8" y="30.6" font-size="16.5" font-weight="bold" fill="#000" text-anchor="start" >c</text>
<text x="505.8" y="27.3" font-size="8.1" font-weight="bold" fill="#000" text-anchor="start" >RuO<tspan font-size="5.3" dy="1.6">2</tspan><tspan dy="-1.6">-F</tspan></text>
<clipPath id="cd1"><rect x="36.9" y="169.9" width="153.4" height="61.5"/></clipPath>
<clipPath id="cd2"><rect x="36.9" y="231.4" width="153.4" height="61.900000000000006"/></clipPath>
<g clip-path="url(#cd1)">
<path d="M43.4,211.67 L43.9,211.67 L44.4,211.67 L44.9,211.67 L45.4,211.67 L45.9,211.67 L46.4,211.67 L46.9,211.67 L47.4,211.67 L47.9,211.67 L48.4,211.67 L48.9,211.67 L49.4,211.66 L49.9,211.66 L50.4,211.66 L50.9,211.66 L51.4,211.66 L51.9,211.66 L52.4,211.66 L52.9,211.66 L53.4,211.66 L53.9,211.66 L54.4,211.66 L54.9,211.66 L55.4,211.66 L55.9,211.66 L56.4,211.66 L56.9,211.66 L57.4,211.66 L57.9,211.66 L58.4,211.66 L58.9,211.67 L59.4,211.67 L59.9,211.67 L60.4,211.67 L60.9,211.67 L61.4,211.68 L61.9,211.68 L62.4,211.69 L62.9,211.69 L63.4,211.7 L63.9,211.71 L64.4,211.71 L64.9,211.72 L65.4,211.73 L65.9,211.75 L66.4,211.76 L66.9,211.77 L67.4,211.79 L67.9,211.81 L68.4,211.83 L68.9,211.85 L69.4,211.88 L69.9,211.91 L70.4,211.94 L70.9,211.97 L71.4,212.01 L71.9,212.04 L72.4,212.08 L72.9,212.12 L73.4,212.15 L73.9,212.19 L74.4,212.2 L74.9,212.21 L75.4,212.18 L75.9,212.12 L76.4,212.01 L76.9,211.82 L77.4,211.55 L77.9,211.17 L78.4,210.68 L78.9,210.06 L79.4,209.31 L79.9,208.45 L80.4,207.5 L80.9,206.52 L81.4,205.56 L81.9,204.71 L82.4,204.07 L82.9,203.73 L83.4,203.76 L83.9,204.19 L84.4,204.96 L84.9,205.99 L85.4,207.19 L85.9,208.45 L86.4,209.7 L86.9,210.89 L87.4,211.97 L87.9,212.92 L88.4,213.73 L88.9,214.4 L89.4,214.95 L89.9,215.39 L90.4,215.74 L90.9,216.01 L91.4,216.22 L91.9,216.39 L92.4,216.52 L92.9,216.63 L93.4,216.72 L93.9,216.8 L94.4,216.87 L94.9,216.92 L95.4,216.98 L95.9,217.02 L96.4,217.06 L96.9,217.1 L97.4,217.13 L97.9,217.16 L98.4,217.19 L98.9,217.21 L99.4,217.23 L99.9,217.25 L100.4,217.27 L100.9,217.29 L101.4,217.3 L101.9,217.32 L102.4,217.33 L102.9,217.34 L103.4,217.35 L103.9,217.36 L104.4,217.37 L104.9,217.38 L105.4,217.39 L105.9,217.39 L106.4,217.4 L106.9,217.41 L107.4,217.41 L107.9,217.42 L108.4,217.42 L108.9,217.43 L109.4,217.43 L109.9,217.44 L110.4,217.44 L110.9,217.45 L111.4,217.45 L111.9,217.45 L112.4,217.46 L112.9,217.46 L113.4,217.46 L113.9,217.47 L114.4,217.47 L114.9,217.48 L115.4,217.48 L115.9,217.48 L116.4,217.49 L116.9,217.49 L117.4,217.5 L117.9,217.5 L118.4,217.51 L118.9,217.51 L119.4,217.52 L119.9,217.52 L120.4,217.53 L120.9,217.54 L121.4,217.54 L121.9,217.55 L122.4,217.56 L122.9,217.57 L123.4,217.58 L123.9,217.59 L124.4,217.6 L124.9,217.61 L125.4,217.62 L125.9,217.64 L126.4,217.65 L126.9,217.66 L127.4,217.68 L127.9,217.7 L128.4,217.72 L128.9,217.74 L129.4,217.76 L129.9,217.78 L130.4,217.81 L130.9,217.83 L131.4,217.86 L131.9,217.88 L132.4,217.91 L132.9,217.93 L133.4,217.96 L133.9,217.98 L134.4,217.99 L134.9,218.01 L135.4,218.01 L135.9,218 L136.4,217.98 L136.9,217.94 L137.4,217.89 L137.9,217.8 L138.4,217.68 L138.9,217.53 L139.4,217.33 L139.9,217.08 L140.4,216.77 L140.9,216.4 L141.4,215.95 L141.9,215.42 L142.4,214.81 L142.9,214.1 L143.4,213.31 L143.9,212.41 L144.4,211.42 L144.9,210.33 L145.4,209.16 L145.9,207.91 L146.4,206.59 L146.9,205.21 L147.4,203.8 L147.9,202.38 L148.4,200.96 L148.9,199.58 L149.4,198.26 L149.9,197.03 L150.4,195.91 L150.9,194.93 L151.4,194.12 L151.9,193.49 L152.4,193.06 L152.9,192.85 L153.4,192.87 L153.9,193.14 L154.4,193.76 L154.9,194.73 L155.4,196.02 L155.9,197.6 L156.4,199.41 L156.9,201.41 L157.4,203.54 L157.9,205.75 L158.4,207.98 L158.9,210.18 L159.4,212.31 L159.9,214.34 L160.4,216.23 L160.9,217.96 L161.4,219.53 L161.9,220.93 L162.4,222.15 L162.9,223.22 L163.4,224.13 L163.9,224.89 L164.4,225.54 L164.9,226.07 L165.4,226.5 L165.9,226.86 L166.4,227.14 L166.9,227.37 L167.4,227.56 L167.9,227.71 L168.4,227.83 L168.9,227.92 L169.4,228 L169.9,228.07 L170.4,228.12 L170.9,228.17 L171.4,228.21 L171.4,228.23 L170.9,228.2 L170.4,228.17 L169.9,228.13 L169.4,228.09 L168.9,228.05 L168.4,228 L167.9,227.95 L167.4,227.9 L166.9,227.84 L166.4,227.78 L165.9,227.72 L165.4,227.65 L164.9,227.57 L164.4,227.49 L163.9,227.41 L163.4,227.32 L162.9,227.22 L162.4,227.11 L161.9,227 L161.4,226.89 L160.9,226.76 L160.4,226.63 L159.9,226.49 L159.4,226.34 L158.9,226.19 L158.4,226.03 L157.9,225.86 L157.4,225.69 L156.9,225.5 L156.4,225.31 L155.9,225.12 L155.4,224.92 L154.9,224.71 L154.4,224.5 L153.9,224.28 L153.4,224.06 L152.9,223.83 L152.4,223.6 L151.9,223.37 L151.4,223.14 L150.9,222.91 L150.4,222.68 L149.9,222.45 L149.4,222.22 L148.9,222 L148.4,221.78 L147.9,221.56 L147.4,221.35 L146.9,221.14 L146.4,220.94 L145.9,220.75 L145.4,220.56 L144.9,220.38 L144.4,220.2 L143.9,220.04 L143.4,219.88 L142.9,219.73 L142.4,219.58 L141.9,219.44 L141.4,219.31 L140.9,219.19 L140.4,219.07 L139.9,218.97 L139.4,218.86 L138.9,218.77 L138.4,218.68 L137.9,218.59 L137.4,218.51 L136.9,218.44 L136.4,218.37 L135.9,218.3 L135.4,218.24 L134.9,218.19 L134.4,218.14 L133.9,218.09 L133.4,218.04 L132.9,218 L132.4,217.96 L131.9,217.93 L131.4,217.89 L130.9,217.86 L130.4,217.84 L129.9,217.81 L129.4,217.79 L128.9,217.76 L128.4,217.74 L127.9,217.72 L127.4,217.71 L126.9,217.69 L126.4,217.67 L125.9,217.66 L125.4,217.65 L124.9,217.64 L124.4,217.63 L123.9,217.62 L123.4,217.61 L122.9,217.6 L122.4,217.59 L121.9,217.58 L121.4,217.58 L120.9,217.57 L120.4,217.56 L119.9,217.56 L119.4,217.55 L118.9,217.55 L118.4,217.55 L117.9,217.54 L117.4,217.54 L116.9,217.53 L116.4,217.53 L115.9,217.53 L115.4,217.53 L114.9,217.52 L114.4,217.52 L113.9,217.52 L113.4,217.52 L112.9,217.51 L112.4,217.51 L111.9,217.51 L111.4,217.51 L110.9,217.51 L110.4,217.5 L109.9,217.5 L109.4,217.5 L108.9,217.5 L108.4,217.5 L107.9,217.49 L107.4,217.49 L106.9,217.49 L106.4,217.49 L105.9,217.48 L105.4,217.48 L104.9,217.48 L104.4,217.47 L103.9,217.47 L103.4,217.46 L102.9,217.46 L102.4,217.45 L101.9,217.45 L101.4,217.44 L100.9,217.43 L100.4,217.43 L99.9,217.42 L99.4,217.41 L98.9,217.4 L98.4,217.38 L97.9,217.37 L97.4,217.35 L96.9,217.34 L96.4,217.32 L95.9,217.3 L95.4,217.27 L94.9,217.25 L94.4,217.22 L93.9,217.19 L93.4,217.15 L92.9,217.12 L92.4,217.07 L91.9,217.03 L91.4,216.98 L90.9,216.92 L90.4,216.86 L89.9,216.8 L89.4,216.72 L88.9,216.65 L88.4,216.56 L87.9,216.47 L87.4,216.37 L86.9,216.27 L86.4,216.16 L85.9,216.04 L85.4,215.91 L84.9,215.78 L84.4,215.65 L83.9,215.5 L83.4,215.36 L82.9,215.2 L82.4,215.05 L81.9,214.89 L81.4,214.73 L80.9,214.57 L80.4,214.41 L79.9,214.25 L79.4,214.09 L78.9,213.94 L78.4,213.78 L77.9,213.64 L77.4,213.5 L76.9,213.36 L76.4,213.23 L75.9,213.11 L75.4,213 L74.9,212.89 L74.4,212.79 L73.9,212.69 L73.4,212.6 L72.9,212.52 L72.4,212.45 L71.9,212.38 L71.4,212.31 L70.9,212.26 L70.4,212.2 L69.9,212.15 L69.4,212.11 L68.9,212.07 L68.4,212.03 L67.9,212 L67.4,211.97 L66.9,211.94 L66.4,211.92 L65.9,211.9 L65.4,211.88 L64.9,211.86 L64.4,211.84 L63.9,211.83 L63.4,211.81 L62.9,211.8 L62.4,211.79 L61.9,211.78 L61.4,211.77 L60.9,211.77 L60.4,211.76 L59.9,211.75 L59.4,211.75 L58.9,211.74 L58.4,211.74 L57.9,211.73 L57.4,211.73 L56.9,211.73 L56.4,211.72 L55.9,211.72 L55.4,211.72 L54.9,211.72 L54.4,211.72 L53.9,211.71 L53.4,211.71 L52.9,211.71 L52.4,211.71 L51.9,211.71 L51.4,211.71 L50.9,211.71 L50.4,211.71 L49.9,211.71 L49.4,211.71 L48.9,211.7 L48.4,211.7 L47.9,211.7 L47.4,211.7 L46.9,211.7 L46.4,211.7 L45.9,211.7 L45.4,211.7 L44.9,211.7 L44.4,211.7 L43.9,211.7 L43.4,211.7 Z" fill="#8fd9b0"/>
<path d="M56.4,211.7 L56.9,211.69 L57.4,211.69 L57.9,211.68 L58.4,211.66 L58.9,211.65 L59.4,211.62 L59.9,211.6 L60.4,211.56 L60.9,211.52 L61.4,211.47 L61.9,211.4 L62.4,211.33 L62.9,211.24 L63.4,211.14 L63.9,211.02 L64.4,210.88 L64.9,210.72 L65.4,210.53 L65.9,210.33 L66.4,210.11 L66.9,209.86 L67.4,209.59 L67.9,209.3 L68.4,209 L68.9,208.68 L69.4,208.34 L69.9,208 L70.4,207.65 L70.9,207.3 L71.4,206.97 L71.9,206.64 L72.4,206.34 L72.9,206.06 L73.4,205.81 L73.9,205.61 L74.4,205.45 L74.9,205.34 L75.4,205.28 L75.9,205.28 L76.4,205.34 L76.9,205.47 L77.4,205.65 L77.9,205.9 L78.4,206.2 L78.9,206.55 L79.4,206.95 L79.9,207.39 L80.4,207.87 L80.9,208.38 L81.4,208.92 L81.9,209.46 L82.4,210.02 L82.9,210.57 L83.4,211.12 L83.9,211.66 L84.4,212.18 L84.9,212.68 L85.4,213.15 L85.9,213.6 L86.4,214.02 L86.9,214.41 L87.4,214.76 L87.9,215.09 L88.4,215.38 L88.9,215.65 L89.4,215.88 L89.9,216.09 L90.4,216.28 L90.9,216.44 L91.4,216.58 L91.9,216.71 L92.4,216.82 L92.9,216.91 L93.4,216.99 L93.9,217.06 L94.4,217.12 L94.9,217.17 L95.4,217.21 L95.9,217.25 L96.4,217.28 L96.9,217.31 L97.4,217.33 L97.9,217.35 L98.4,217.37 L98.9,217.39 L99.4,217.4 L99.9,217.41 L100.4,217.42 L100.9,217.43 L101.4,217.44 L101.9,217.45 L102.4,217.45 L102.9,217.46 L103.4,217.46 L103.9,217.47 L104.4,217.47 L104.9,217.48 L105.4,217.48 L105.9,217.48 L106.4,217.49 L106.9,217.49 L107.4,217.49 L107.9,217.49 L108.4,217.5 L108.9,217.5 L109.4,217.5 L109.9,217.5 L110.4,217.5 L110.9,217.51 L111.4,217.51 L111.9,217.51 L112.4,217.51 L112.9,217.51 L113.4,217.52 L113.9,217.52 L114.4,217.52 L114.9,217.52 L115.4,217.53 L115.9,217.53 L116.4,217.53 L116.9,217.53 L117.4,217.54 L117.9,217.54 L118.4,217.54 L118.9,217.55 L119.4,217.55 L119.9,217.55 L120.4,217.56 L120.9,217.56 L121.4,217.57 L121.9,217.57 L122.4,217.57 L122.9,217.57 L123.4,217.57 L123.9,217.57 L124.4,217.57 L124.9,217.56 L125.4,217.55 L125.9,217.54 L126.4,217.52 L126.9,217.5 L127.4,217.47 L127.9,217.43 L128.4,217.38 L128.9,217.32 L129.4,217.25 L129.9,217.16 L130.4,217.06 L130.9,216.95 L131.4,216.81 L131.9,216.66 L132.4,216.49 L132.9,216.3 L133.4,216.1 L133.9,215.87 L134.4,215.63 L134.9,215.37 L135.4,215.11 L135.9,214.83 L136.4,214.55 L136.9,214.26 L137.4,213.98 L137.9,213.71 L138.4,213.46 L138.9,213.22 L139.4,213.02 L139.9,212.84 L140.4,212.7 L140.9,212.61 L141.4,212.56 L141.9,212.56 L142.4,212.62 L142.9,212.73 L143.4,212.89 L143.9,213.11 L144.4,213.39 L144.9,213.72 L145.4,214.1 L145.9,214.52 L146.4,214.98 L146.9,215.48 L147.4,216 L147.9,216.55 L148.4,217.11 L148.9,217.68 L149.4,218.26 L149.9,218.84 L150.4,219.41 L150.9,219.97 L151.4,220.52 L151.9,221.04 L152.4,221.55 L152.9,222.04 L153.4,222.5 L153.9,222.93 L154.4,223.34 L154.9,223.73 L155.4,224.09 L155.9,224.43 L156.4,224.74 L156.9,225.03 L157.4,225.29 L157.9,225.54 L158.4,225.77 L158.9,225.98 L159.4,226.18 L159.9,226.36 L160.4,226.53 L160.9,226.68 L161.4,226.82 L161.9,226.95 L162.4,227.08 L162.9,227.19 L162.9,227.22 L162.4,227.11 L161.9,227 L161.4,226.89 L160.9,226.76 L160.4,226.63 L159.9,226.49 L159.4,226.34 L158.9,226.19 L158.4,226.03 L157.9,225.86 L157.4,225.69 L156.9,225.5 L156.4,225.31 L155.9,225.12 L155.4,224.92 L154.9,224.71 L154.4,224.5 L153.9,224.28 L153.4,224.06 L152.9,223.83 L152.4,223.6 L151.9,223.37 L151.4,223.14 L150.9,222.91 L150.4,222.68 L149.9,222.45 L149.4,222.22 L148.9,222 L148.4,221.78 L147.9,221.56 L147.4,221.35 L146.9,221.14 L146.4,220.94 L145.9,220.75 L145.4,220.56 L144.9,220.38 L144.4,220.2 L143.9,220.04 L143.4,219.88 L142.9,219.73 L142.4,219.58 L141.9,219.44 L141.4,219.31 L140.9,219.19 L140.4,219.07 L139.9,218.97 L139.4,218.86 L138.9,218.77 L138.4,218.68 L137.9,218.59 L137.4,218.51 L136.9,218.44 L136.4,218.37 L135.9,218.3 L135.4,218.24 L134.9,218.19 L134.4,218.14 L133.9,218.09 L133.4,218.04 L132.9,218 L132.4,217.96 L131.9,217.93 L131.4,217.89 L130.9,217.86 L130.4,217.84 L129.9,217.81 L129.4,217.79 L128.9,217.76 L128.4,217.74 L127.9,217.72 L127.4,217.71 L126.9,217.69 L126.4,217.67 L125.9,217.66 L125.4,217.65 L124.9,217.64 L124.4,217.63 L123.9,217.62 L123.4,217.61 L122.9,217.6 L122.4,217.59 L121.9,217.58 L121.4,217.58 L120.9,217.57 L120.4,217.56 L119.9,217.56 L119.4,217.55 L118.9,217.55 L118.4,217.55 L117.9,217.54 L117.4,217.54 L116.9,217.53 L116.4,217.53 L115.9,217.53 L115.4,217.53 L114.9,217.52 L114.4,217.52 L113.9,217.52 L113.4,217.52 L112.9,217.51 L112.4,217.51 L111.9,217.51 L111.4,217.51 L110.9,217.51 L110.4,217.5 L109.9,217.5 L109.4,217.5 L108.9,217.5 L108.4,217.5 L107.9,217.49 L107.4,217.49 L106.9,217.49 L106.4,217.49 L105.9,217.48 L105.4,217.48 L104.9,217.48 L104.4,217.47 L103.9,217.47 L103.4,217.46 L102.9,217.46 L102.4,217.45 L101.9,217.45 L101.4,217.44 L100.9,217.43 L100.4,217.43 L99.9,217.42 L99.4,217.41 L98.9,217.4 L98.4,217.38 L97.9,217.37 L97.4,217.35 L96.9,217.34 L96.4,217.32 L95.9,217.3 L95.4,217.27 L94.9,217.25 L94.4,217.22 L93.9,217.19 L93.4,217.15 L92.9,217.12 L92.4,217.07 L91.9,217.03 L91.4,216.98 L90.9,216.92 L90.4,216.86 L89.9,216.8 L89.4,216.72 L88.9,216.65 L88.4,216.56 L87.9,216.47 L87.4,216.37 L86.9,216.27 L86.4,216.16 L85.9,216.04 L85.4,215.91 L84.9,215.78 L84.4,215.65 L83.9,215.5 L83.4,215.36 L82.9,215.2 L82.4,215.05 L81.9,214.89 L81.4,214.73 L80.9,214.57 L80.4,214.41 L79.9,214.25 L79.4,214.09 L78.9,213.94 L78.4,213.78 L77.9,213.64 L77.4,213.5 L76.9,213.36 L76.4,213.23 L75.9,213.11 L75.4,213 L74.9,212.89 L74.4,212.79 L73.9,212.69 L73.4,212.6 L72.9,212.52 L72.4,212.45 L71.9,212.38 L71.4,212.31 L70.9,212.26 L70.4,212.2 L69.9,212.15 L69.4,212.11 L68.9,212.07 L68.4,212.03 L67.9,212 L67.4,211.97 L66.9,211.94 L66.4,211.92 L65.9,211.9 L65.4,211.88 L64.9,211.86 L64.4,211.84 L63.9,211.83 L63.4,211.81 L62.9,211.8 L62.4,211.79 L61.9,211.78 L61.4,211.77 L60.9,211.77 L60.4,211.76 L59.9,211.75 L59.4,211.75 L58.9,211.74 L58.4,211.74 L57.9,211.73 L57.4,211.73 L56.9,211.73 L56.4,211.72 Z" fill="#d0b4ee"/>
<path d="M56.4,211.7 L56.9,211.69 L57.4,211.69 L57.9,211.68 L58.4,211.66 L58.9,211.67 L59.4,211.67 L59.9,211.67 L60.4,211.67 L60.9,211.67 L61.4,211.68 L61.9,211.68 L62.4,211.69 L62.9,211.69 L63.4,211.7 L63.9,211.71 L64.4,211.71 L64.9,211.72 L65.4,211.73 L65.9,211.75 L66.4,211.76 L66.9,211.77 L67.4,211.79 L67.9,211.81 L68.4,211.83 L68.9,211.85 L69.4,211.88 L69.9,211.91 L70.4,211.94 L70.9,211.97 L71.4,212.01 L71.9,212.04 L72.4,212.08 L72.9,212.12 L73.4,212.15 L73.9,212.19 L74.4,212.2 L74.9,212.21 L75.4,212.18 L75.9,212.12 L76.4,212.01 L76.9,211.82 L77.4,211.55 L77.9,211.17 L78.4,210.68 L78.9,210.06 L79.4,209.31 L79.9,208.45 L80.4,207.87 L80.9,208.38 L81.4,208.92 L81.9,209.46 L82.4,210.02 L82.9,210.57 L83.4,211.12 L83.9,211.66 L84.4,212.18 L84.9,212.68 L85.4,213.15 L85.9,213.6 L86.4,214.02 L86.9,214.41 L87.4,214.76 L87.9,215.09 L88.4,215.38 L88.9,215.65 L89.4,215.88 L89.9,216.09 L90.4,216.28 L90.9,216.44 L91.4,216.58 L91.9,216.71 L92.4,216.82 L92.9,216.91 L93.4,216.99 L93.9,217.06 L94.4,217.12 L94.9,217.17 L95.4,217.21 L95.9,217.25 L96.4,217.28 L96.9,217.31 L97.4,217.33 L97.9,217.35 L98.4,217.37 L98.9,217.39 L99.4,217.4 L99.9,217.41 L100.4,217.42 L100.9,217.43 L101.4,217.44 L101.9,217.45 L102.4,217.45 L102.9,217.46 L103.4,217.46 L103.9,217.47 L104.4,217.47 L104.9,217.48 L105.4,217.48 L105.9,217.48 L106.4,217.49 L106.9,217.49 L107.4,217.49 L107.9,217.49 L108.4,217.5 L108.9,217.5 L109.4,217.5 L109.9,217.5 L110.4,217.5 L110.9,217.51 L111.4,217.51 L111.9,217.51 L112.4,217.51 L112.9,217.51 L113.4,217.52 L113.9,217.52 L114.4,217.52 L114.9,217.52 L115.4,217.53 L115.9,217.53 L116.4,217.53 L116.9,217.53 L117.4,217.54 L117.9,217.54 L118.4,217.54 L118.9,217.55 L119.4,217.55 L119.9,217.55 L120.4,217.56 L120.9,217.56 L121.4,217.57 L121.9,217.57 L122.4,217.57 L122.9,217.57 L123.4,217.58 L123.9,217.59 L124.4,217.6 L124.9,217.61 L125.4,217.62 L125.9,217.64 L126.4,217.65 L126.9,217.66 L127.4,217.68 L127.9,217.7 L128.4,217.72 L128.9,217.74 L129.4,217.76 L129.9,217.78 L130.4,217.81 L130.9,217.83 L131.4,217.86 L131.9,217.88 L132.4,217.91 L132.9,217.93 L133.4,217.96 L133.9,217.98 L134.4,217.99 L134.9,218.01 L135.4,218.01 L135.9,218 L136.4,217.98 L136.9,217.94 L137.4,217.89 L137.9,217.8 L138.4,217.68 L138.9,217.53 L139.4,217.33 L139.9,217.08 L140.4,216.77 L140.9,216.4 L141.4,215.95 L141.9,215.42 L142.4,214.81 L142.9,214.1 L143.4,213.31 L143.9,213.11 L144.4,213.39 L144.9,213.72 L145.4,214.1 L145.9,214.52 L146.4,214.98 L146.9,215.48 L147.4,216 L147.9,216.55 L148.4,217.11 L148.9,217.68 L149.4,218.26 L149.9,218.84 L150.4,219.41 L150.9,219.97 L151.4,220.52 L151.9,221.04 L152.4,221.55 L152.9,222.04 L153.4,222.5 L153.9,222.93 L154.4,223.34 L154.9,223.73 L155.4,224.09 L155.9,224.43 L156.4,224.74 L156.9,225.03 L157.4,225.29 L157.9,225.54 L158.4,225.77 L158.9,225.98 L159.4,226.18 L159.9,226.36 L160.4,226.53 L160.9,226.68 L161.4,226.82 L161.9,226.95 L162.4,227.08 L162.9,227.19 L162.9,227.22 L162.4,227.11 L161.9,227 L161.4,226.89 L160.9,226.76 L160.4,226.63 L159.9,226.49 L159.4,226.34 L158.9,226.19 L158.4,226.03 L157.9,225.86 L157.4,225.69 L156.9,225.5 L156.4,225.31 L155.9,225.12 L155.4,224.92 L154.9,224.71 L154.4,224.5 L153.9,224.28 L153.4,224.06 L152.9,223.83 L152.4,223.6 L151.9,223.37 L151.4,223.14 L150.9,222.91 L150.4,222.68 L149.9,222.45 L149.4,222.22 L148.9,222 L148.4,221.78 L147.9,221.56 L147.4,221.35 L146.9,221.14 L146.4,220.94 L145.9,220.75 L145.4,220.56 L144.9,220.38 L144.4,220.2 L143.9,220.04 L143.4,219.88 L142.9,219.73 L142.4,219.58 L141.9,219.44 L141.4,219.31 L140.9,219.19 L140.4,219.07 L139.9,218.97 L139.4,218.86 L138.9,218.77 L138.4,218.68 L137.9,218.59 L137.4,218.51 L136.9,218.44 L136.4,218.37 L135.9,218.3 L135.4,218.24 L134.9,218.19 L134.4,218.14 L133.9,218.09 L133.4,218.04 L132.9,218 L132.4,217.96 L131.9,217.93 L131.4,217.89 L130.9,217.86 L130.4,217.84 L129.9,217.81 L129.4,217.79 L128.9,217.76 L128.4,217.74 L127.9,217.72 L127.4,217.71 L126.9,217.69 L126.4,217.67 L125.9,217.66 L125.4,217.65 L124.9,217.64 L124.4,217.63 L123.9,217.62 L123.4,217.61 L122.9,217.6 L122.4,217.59 L121.9,217.58 L121.4,217.58 L120.9,217.57 L120.4,217.56 L119.9,217.56 L119.4,217.55 L118.9,217.55 L118.4,217.55 L117.9,217.54 L117.4,217.54 L116.9,217.53 L116.4,217.53 L115.9,217.53 L115.4,217.53 L114.9,217.52 L114.4,217.52 L113.9,217.52 L113.4,217.52 L112.9,217.51 L112.4,217.51 L111.9,217.51 L111.4,217.51 L110.9,217.51 L110.4,217.5 L109.9,217.5 L109.4,217.5 L108.9,217.5 L108.4,217.5 L107.9,217.49 L107.4,217.49 L106.9,217.49 L106.4,217.49 L105.9,217.48 L105.4,217.48 L104.9,217.48 L104.4,217.47 L103.9,217.47 L103.4,217.46 L102.9,217.46 L102.4,217.45 L101.9,217.45 L101.4,217.44 L100.9,217.43 L100.4,217.43 L99.9,217.42 L99.4,217.41 L98.9,217.4 L98.4,217.38 L97.9,217.37 L97.4,217.35 L96.9,217.34 L96.4,217.32 L95.9,217.3 L95.4,217.27 L94.9,217.25 L94.4,217.22 L93.9,217.19 L93.4,217.15 L92.9,217.12 L92.4,217.07 L91.9,217.03 L91.4,216.98 L90.9,216.92 L90.4,216.86 L89.9,216.8 L89.4,216.72 L88.9,216.65 L88.4,216.56 L87.9,216.47 L87.4,216.37 L86.9,216.27 L86.4,216.16 L85.9,216.04 L85.4,215.91 L84.9,215.78 L84.4,215.65 L83.9,215.5 L83.4,215.36 L82.9,215.2 L82.4,215.05 L81.9,214.89 L81.4,214.73 L80.9,214.57 L80.4,214.41 L79.9,214.25 L79.4,214.09 L78.9,213.94 L78.4,213.78 L77.9,213.64 L77.4,213.5 L76.9,213.36 L76.4,213.23 L75.9,213.11 L75.4,213 L74.9,212.89 L74.4,212.79 L73.9,212.69 L73.4,212.6 L72.9,212.52 L72.4,212.45 L71.9,212.38 L71.4,212.31 L70.9,212.26 L70.4,212.2 L69.9,212.15 L69.4,212.11 L68.9,212.07 L68.4,212.03 L67.9,212 L67.4,211.97 L66.9,211.94 L66.4,211.92 L65.9,211.9 L65.4,211.88 L64.9,211.86 L64.4,211.84 L63.9,211.83 L63.4,211.81 L62.9,211.8 L62.4,211.79 L61.9,211.78 L61.4,211.77 L60.9,211.77 L60.4,211.76 L59.9,211.75 L59.4,211.75 L58.9,211.74 L58.4,211.74 L57.9,211.73 L57.4,211.73 L56.9,211.73 L56.4,211.72 Z" fill="#a09bd6"/>
<path d="M36.9,211.9 L38.72,211.87 L41.3,211.82 L44.29,211.76 L47.31,211.69 L50,211.6 L52.41,211.5 L54.78,211.38 L57.03,211.24 L59.1,211.08 L60.9,210.9 L62.35,210.71 L63.49,210.51 L64.47,210.29 L65.39,209.99 L66.4,209.6 L67.5,209.11 L68.62,208.53 L69.72,207.89 L70.79,207.17 L71.8,206.4 L72.76,205.49 L73.68,204.43 L74.57,203.34 L75.41,202.36 L76.2,201.6 L76.94,201.12 L77.63,200.84 L78.28,200.67 L78.9,200.52 L79.5,200.3 L80.1,199.98 L80.7,199.61 L81.26,199.25 L81.77,198.94 L82.2,198.7 L82.53,198.54 L82.77,198.42 L82.97,198.37 L83.16,198.39 L83.4,198.5 L83.67,198.65 L83.94,198.83 L84.24,199.11 L84.55,199.58 L84.9,200.3 L85.28,201.38 L85.68,202.77 L86.11,204.32 L86.58,205.87 L87.1,207.3 L87.67,208.63 L88.29,209.96 L88.96,211.24 L89.66,212.41 L90.4,213.4 L91.16,214.2 L91.94,214.85 L92.77,215.38 L93.68,215.81 L94.7,216.2 L95.84,216.51 L97.07,216.73 L98.4,216.87 L99.81,216.99 L101.3,217.1 L102.8,217.2 L104.33,217.27 L105.97,217.32 L107.82,217.36 L110,217.4 L112.75,217.46 L116,217.52 L119.38,217.57 L122.51,217.6 L125,217.6 L126.74,217.57 L127.99,217.52 L128.92,217.44 L129.7,217.33 L130.5,217.2 L131.29,217.05 L131.94,216.89 L132.52,216.69 L133.09,216.43 L133.7,216.1 L134.35,215.68 L135.01,215.19 L135.68,214.64 L136.34,214.04 L137,213.4 L137.66,212.7 L138.32,211.92 L138.99,211.11 L139.65,210.29 L140.3,209.5 L140.94,208.74 L141.58,208 L142.22,207.26 L142.86,206.5 L143.5,205.7 L144.15,204.88 L144.81,204.05 L145.48,203.18 L146.14,202.27 L146.8,201.3 L147.48,200.21 L148.17,199.02 L148.86,197.81 L149.51,196.64 L150.1,195.6 L150.62,194.67 L151.1,193.79 L151.54,193.01 L151.94,192.33 L152.3,191.8 L152.61,191.42 L152.87,191.18 L153.09,191.05 L153.33,191.03 L153.6,191.1 L153.9,191.18 L154.22,191.28 L154.55,191.51 L154.91,192.01 L155.3,192.9 L155.74,194.28 L156.22,196.08 L156.72,198.13 L157.22,200.26 L157.7,202.3 L158.14,204.29 L158.57,206.33 L158.99,208.38 L159.43,210.39 L159.9,212.3 L160.39,214.16 L160.89,216 L161.41,217.76 L161.98,219.38 L162.6,220.8 L163.26,221.99 L163.95,223 L164.7,223.86 L165.53,224.61 L166.5,225.3 L167.55,225.9 L168.65,226.4 L169.88,226.81 L171.31,227.17 L173,227.5 L175.16,227.8 L177.73,228.06 L180.42,228.27 L182.94,228.45 L185,228.6 L186.57,228.72 L187.86,228.79 L188.88,228.84 L189.69,228.87 L190.3,228.9" fill="none" stroke="#4a4a4a" stroke-width="1.8" stroke-linejoin="round"/>
</g>
<g clip-path="url(#cd2)">
<path d="M36.9,272.36 L37.4,272.36 L37.9,272.36 L38.4,272.36 L38.9,272.36 L39.4,272.36 L39.9,272.36 L40.4,272.36 L40.9,272.36 L41.4,272.35 L41.9,272.35 L42.4,272.35 L42.9,272.35 L43.4,272.35 L43.9,272.35 L44.4,272.35 L44.9,272.35 L45.4,272.35 L45.9,272.34 L46.4,272.34 L46.9,272.34 L47.4,272.34 L47.9,272.34 L48.4,272.34 L48.9,272.34 L49.4,272.33 L49.9,272.33 L50.4,272.33 L50.9,272.33 L51.4,272.33 L51.9,272.33 L52.4,272.32 L52.9,272.32 L53.4,272.32 L53.9,272.32 L54.4,272.32 L54.9,272.31 L55.4,272.31 L55.9,272.31 L56.4,272.31 L56.9,272.31 L57.4,272.3 L57.9,272.3 L58.4,272.3 L58.9,272.3 L59.4,272.3 L59.9,272.3 L60.4,272.29 L60.9,272.29 L61.4,272.29 L61.9,272.29 L62.4,272.29 L62.9,272.29 L63.4,272.29 L63.9,272.29 L64.4,272.29 L64.9,272.29 L65.4,272.29 L65.9,272.3 L66.4,272.3 L66.9,272.3 L67.4,272.31 L67.9,272.31 L68.4,272.31 L68.9,272.32 L69.4,272.32 L69.9,272.32 L70.4,272.31 L70.9,272.3 L71.4,272.27 L71.9,272.23 L72.4,272.17 L72.9,272.07 L73.4,271.94 L73.9,271.75 L74.4,271.51 L74.9,271.19 L75.4,270.79 L75.9,270.29 L76.4,269.68 L76.9,268.98 L77.4,268.17 L77.9,267.27 L78.4,266.29 L78.9,265.28 L79.4,264.25 L79.9,263.26 L80.4,262.36 L80.9,261.63 L81.4,261.11 L81.9,260.87 L82.4,260.94 L82.9,261.34 L83.4,262.04 L83.9,262.99 L84.4,264.13 L84.9,265.39 L85.4,266.71 L85.9,268.04 L86.4,269.33 L86.9,270.55 L87.4,271.68 L87.9,272.7 L88.4,273.59 L88.9,274.37 L89.4,275.03 L89.9,275.59 L90.4,276.06 L90.9,276.44 L91.4,276.75 L91.9,277 L92.4,277.21 L92.9,277.37 L93.4,277.51 L93.9,277.63 L94.4,277.72 L94.9,277.81 L95.4,277.88 L95.9,277.94 L96.4,278 L96.9,278.05 L97.4,278.09 L97.9,278.13 L98.4,278.16 L98.9,278.2 L99.4,278.23 L99.9,278.25 L100.4,278.28 L100.9,278.3 L101.4,278.32 L101.9,278.34 L102.4,278.36 L102.9,278.37 L103.4,278.39 L103.9,278.4 L104.4,278.41 L104.9,278.43 L105.4,278.44 L105.9,278.45 L106.4,278.46 L106.9,278.47 L107.4,278.47 L107.9,278.48 L108.4,278.49 L108.9,278.5 L109.4,278.5 L109.9,278.51 L110.4,278.52 L110.9,278.52 L111.4,278.53 L111.9,278.53 L112.4,278.54 L112.9,278.55 L113.4,278.55 L113.9,278.56 L114.4,278.56 L114.9,278.57 L115.4,278.57 L115.9,278.58 L116.4,278.59 L116.9,278.59 L117.4,278.6 L117.9,278.61 L118.4,278.61 L118.9,278.62 L119.4,278.63 L119.9,278.64 L120.4,278.64 L120.9,278.65 L121.4,278.66 L121.9,278.67 L122.4,278.68 L122.9,278.69 L123.4,278.7 L123.9,278.72 L124.4,278.73 L124.9,278.74 L125.4,278.76 L125.9,278.77 L126.4,278.79 L126.9,278.81 L127.4,278.82 L127.9,278.84 L128.4,278.87 L128.9,278.89 L129.4,278.91 L129.9,278.94 L130.4,278.96 L130.9,278.99 L131.4,279.02 L131.9,279.05 L132.4,279.09 L132.9,279.12 L133.4,279.16 L133.9,279.19 L134.4,279.23 L134.9,279.27 L135.4,279.3 L135.9,279.33 L136.4,279.36 L136.9,279.37 L137.4,279.38 L137.9,279.37 L138.4,279.34 L138.9,279.28 L139.4,279.2 L139.9,279.07 L140.4,278.89 L140.9,278.65 L141.4,278.34 L141.9,277.95 L142.4,277.47 L142.9,276.88 L143.4,276.18 L143.9,275.36 L144.4,274.41 L144.9,273.33 L145.4,272.11 L145.9,270.76 L146.4,269.3 L146.9,267.73 L147.4,266.07 L147.9,264.35 L148.4,262.61 L148.9,260.86 L149.4,259.17 L149.9,257.55 L150.4,256.06 L150.9,254.74 L151.4,253.63 L151.9,252.75 L152.4,252.15 L152.9,251.84 L153.4,251.83 L153.9,252.18 L154.4,252.92 L154.9,254.06 L155.4,255.56 L155.9,257.36 L156.4,259.41 L156.9,261.65 L157.4,264.01 L157.9,266.43 L158.4,268.85 L158.9,271.21 L159.4,273.48 L159.9,275.6 L160.4,277.56 L160.9,279.34 L161.4,280.93 L161.9,282.33 L162.4,283.54 L162.9,284.59 L163.4,285.47 L163.9,286.21 L164.4,286.83 L164.9,287.34 L165.4,287.76 L165.9,288.1 L166.4,288.39 L166.9,288.62 L167.4,288.82 L167.9,288.98 L168.4,289.12 L168.9,289.24 L169.4,289.34 L169.9,289.43 L170.4,289.52 L170.9,289.59 L170.9,289.61 L170.4,289.55 L169.9,289.48 L169.4,289.4 L168.9,289.32 L168.4,289.24 L167.9,289.15 L167.4,289.06 L166.9,288.96 L166.4,288.86 L165.9,288.75 L165.4,288.63 L164.9,288.51 L164.4,288.39 L163.9,288.25 L163.4,288.12 L162.9,287.97 L162.4,287.82 L161.9,287.67 L161.4,287.51 L160.9,287.34 L160.4,287.17 L159.9,286.99 L159.4,286.81 L158.9,286.62 L158.4,286.43 L157.9,286.23 L157.4,286.03 L156.9,285.83 L156.4,285.62 L155.9,285.41 L155.4,285.2 L154.9,284.99 L154.4,284.77 L153.9,284.56 L153.4,284.34 L152.9,284.13 L152.4,283.92 L151.9,283.71 L151.4,283.5 L150.9,283.29 L150.4,283.09 L149.9,282.89 L149.4,282.7 L148.9,282.51 L148.4,282.32 L147.9,282.14 L147.4,281.96 L146.9,281.79 L146.4,281.63 L145.9,281.47 L145.4,281.32 L144.9,281.17 L144.4,281.03 L143.9,280.89 L143.4,280.76 L142.9,280.64 L142.4,280.52 L141.9,280.41 L141.4,280.3 L140.9,280.2 L140.4,280.1 L139.9,280.01 L139.4,279.93 L138.9,279.84 L138.4,279.77 L137.9,279.69 L137.4,279.62 L136.9,279.56 L136.4,279.5 L135.9,279.44 L135.4,279.39 L134.9,279.34 L134.4,279.29 L133.9,279.24 L133.4,279.2 L132.9,279.16 L132.4,279.12 L131.9,279.09 L131.4,279.06 L130.9,279.03 L130.4,279 L129.9,278.97 L129.4,278.95 L128.9,278.92 L128.4,278.9 L127.9,278.88 L127.4,278.86 L126.9,278.84 L126.4,278.83 L125.9,278.81 L125.4,278.8 L124.9,278.78 L124.4,278.77 L123.9,278.76 L123.4,278.75 L122.9,278.74 L122.4,278.73 L121.9,278.72 L121.4,278.71 L120.9,278.7 L120.4,278.7 L119.9,278.69 L119.4,278.68 L118.9,278.68 L118.4,278.67 L117.9,278.67 L117.4,278.66 L116.9,278.66 L116.4,278.65 L115.9,278.65 L115.4,278.64 L114.9,278.64 L114.4,278.64 L113.9,278.63 L113.4,278.63 L112.9,278.63 L112.4,278.62 L111.9,278.62 L111.4,278.62 L110.9,278.62 L110.4,278.61 L109.9,278.61 L109.4,278.61 L108.9,278.6 L108.4,278.6 L107.9,278.6 L107.4,278.59 L106.9,278.59 L106.4,278.59 L105.9,278.58 L105.4,278.58 L104.9,278.57 L104.4,278.57 L103.9,278.56 L103.4,278.56 L102.9,278.55 L102.4,278.54 L101.9,278.53 L101.4,278.52 L100.9,278.51 L100.4,278.5 L99.9,278.49 L99.4,278.48 L98.9,278.46 L98.4,278.45 L97.9,278.43 L97.4,278.41 L96.9,278.39 L96.4,278.36 L95.9,278.33 L95.4,278.3 L94.9,278.27 L94.4,278.23 L93.9,278.19 L93.4,278.15 L92.9,278.1 L92.4,278.04 L91.9,277.98 L91.4,277.92 L90.9,277.85 L90.4,277.77 L89.9,277.69 L89.4,277.6 L88.9,277.5 L88.4,277.4 L87.9,277.28 L87.4,277.17 L86.9,277.04 L86.4,276.91 L85.9,276.77 L85.4,276.62 L84.9,276.47 L84.4,276.31 L83.9,276.15 L83.4,275.98 L82.9,275.81 L82.4,275.64 L81.9,275.47 L81.4,275.29 L80.9,275.12 L80.4,274.95 L79.9,274.79 L79.4,274.63 L78.9,274.47 L78.4,274.32 L77.9,274.18 L77.4,274.04 L76.9,273.91 L76.4,273.79 L75.9,273.67 L75.4,273.56 L74.9,273.46 L74.4,273.37 L73.9,273.28 L73.4,273.2 L72.9,273.12 L72.4,273.06 L71.9,272.99 L71.4,272.94 L70.9,272.89 L70.4,272.84 L69.9,272.79 L69.4,272.76 L68.9,272.72 L68.4,272.69 L67.9,272.66 L67.4,272.63 L66.9,272.61 L66.4,272.59 L65.9,272.57 L65.4,272.55 L64.9,272.54 L64.4,272.52 L63.9,272.51 L63.4,272.5 L62.9,272.49 L62.4,272.48 L61.9,272.47 L61.4,272.46 L60.9,272.46 L60.4,272.45 L59.9,272.45 L59.4,272.44 L58.9,272.44 L58.4,272.43 L57.9,272.43 L57.4,272.43 L56.9,272.42 L56.4,272.42 L55.9,272.42 L55.4,272.42 L54.9,272.42 L54.4,272.41 L53.9,272.41 L53.4,272.41 L52.9,272.41 L52.4,272.41 L51.9,272.41 L51.4,272.41 L50.9,272.41 L50.4,272.41 L49.9,272.4 L49.4,272.4 L48.9,272.4 L48.4,272.4 L47.9,272.4 L47.4,272.4 L46.9,272.4 L46.4,272.4 L45.9,272.4 L45.4,272.4 L44.9,272.4 L44.4,272.4 L43.9,272.4 L43.4,272.4 L42.9,272.4 L42.4,272.4 L41.9,272.4 L41.4,272.4 L40.9,272.4 L40.4,272.4 L39.9,272.4 L39.4,272.4 L38.9,272.4 L38.4,272.4 L37.9,272.4 L37.4,272.4 L36.9,272.4 Z" fill="#8fd9b0"/>
<path d="M55.4,272.39 L55.9,272.38 L56.4,272.38 L56.9,272.37 L57.4,272.36 L57.9,272.34 L58.4,272.33 L58.9,272.31 L59.4,272.28 L59.9,272.25 L60.4,272.21 L60.9,272.17 L61.4,272.12 L61.9,272.06 L62.4,272 L62.9,271.92 L63.4,271.83 L63.9,271.74 L64.4,271.63 L64.9,271.51 L65.4,271.38 L65.9,271.24 L66.4,271.09 L66.9,270.93 L67.4,270.75 L67.9,270.58 L68.4,270.39 L68.9,270.2 L69.4,270.01 L69.9,269.82 L70.4,269.64 L70.9,269.46 L71.4,269.29 L71.9,269.14 L72.4,269 L72.9,268.89 L73.4,268.79 L73.9,268.73 L74.4,268.69 L74.9,268.69 L75.4,268.72 L75.9,268.79 L76.4,268.89 L76.9,269.02 L77.4,269.2 L77.9,269.41 L78.4,269.65 L78.9,269.92 L79.4,270.22 L79.9,270.55 L80.4,270.9 L80.9,271.27 L81.4,271.65 L81.9,272.04 L82.4,272.44 L82.9,272.84 L83.4,273.24 L83.9,273.63 L84.4,274.01 L84.9,274.38 L85.4,274.74 L85.9,275.08 L86.4,275.41 L86.9,275.71 L87.4,276 L87.9,276.26 L88.4,276.5 L88.9,276.73 L89.4,276.93 L89.9,277.12 L90.4,277.29 L90.9,277.44 L91.4,277.58 L91.9,277.7 L92.4,277.81 L92.9,277.9 L93.4,277.99 L93.9,278.06 L94.4,278.13 L94.9,278.18 L95.4,278.23 L95.9,278.28 L96.4,278.32 L96.9,278.35 L97.4,278.38 L97.9,278.41 L98.4,278.43 L98.9,278.45 L99.4,278.47 L99.9,278.48 L100.4,278.5 L100.9,278.51 L101.4,278.52 L101.9,278.53 L102.4,278.54 L102.9,278.55 L103.4,278.55 L103.9,278.56 L104.4,278.57 L104.9,278.57 L105.4,278.58 L105.9,278.58 L106.4,278.59 L106.9,278.59 L107.4,278.59 L107.9,278.6 L108.4,278.6 L108.9,278.6 L109.4,278.61 L109.9,278.61 L110.4,278.61 L110.9,278.62 L111.4,278.62 L111.9,278.62 L112.4,278.62 L112.9,278.63 L113.4,278.63 L113.9,278.63 L114.4,278.64 L114.9,278.64 L115.4,278.64 L115.9,278.65 L116.4,278.65 L116.9,278.66 L117.4,278.66 L117.9,278.67 L118.4,278.67 L118.9,278.68 L119.4,278.68 L119.9,278.69 L120.4,278.69 L120.9,278.7 L121.4,278.7 L121.9,278.71 L122.4,278.71 L122.9,278.72 L123.4,278.72 L123.9,278.72 L124.4,278.73 L124.9,278.72 L125.4,278.72 L125.9,278.71 L126.4,278.7 L126.9,278.69 L127.4,278.67 L127.9,278.64 L128.4,278.6 L128.9,278.56 L129.4,278.5 L129.9,278.44 L130.4,278.36 L130.9,278.27 L131.4,278.16 L131.9,278.04 L132.4,277.9 L132.9,277.75 L133.4,277.58 L133.9,277.39 L134.4,277.19 L134.9,276.98 L135.4,276.75 L135.9,276.52 L136.4,276.28 L136.9,276.04 L137.4,275.8 L137.9,275.57 L138.4,275.35 L138.9,275.15 L139.4,274.96 L139.9,274.81 L140.4,274.68 L140.9,274.59 L141.4,274.54 L141.9,274.53 L142.4,274.56 L142.9,274.64 L143.4,274.77 L143.9,274.95 L144.4,275.17 L144.9,275.43 L145.4,275.74 L145.9,276.09 L146.4,276.47 L146.9,276.88 L147.4,277.32 L147.9,277.78 L148.4,278.26 L148.9,278.75 L149.4,279.24 L149.9,279.73 L150.4,280.23 L150.9,280.72 L151.4,281.19 L151.9,281.66 L152.4,282.11 L152.9,282.55 L153.4,282.97 L153.9,283.37 L154.4,283.75 L154.9,284.12 L155.4,284.46 L155.9,284.79 L156.4,285.1 L156.9,285.4 L157.4,285.68 L157.9,285.94 L158.4,286.19 L158.9,286.43 L159.4,286.66 L159.9,286.87 L160.4,287.07 L160.9,287.27 L161.4,287.45 L161.9,287.62 L162.4,287.79 L162.9,287.95 L162.9,287.97 L162.4,287.82 L161.9,287.67 L161.4,287.51 L160.9,287.34 L160.4,287.17 L159.9,286.99 L159.4,286.81 L158.9,286.62 L158.4,286.43 L157.9,286.23 L157.4,286.03 L156.9,285.83 L156.4,285.62 L155.9,285.41 L155.4,285.2 L154.9,284.99 L154.4,284.77 L153.9,284.56 L153.4,284.34 L152.9,284.13 L152.4,283.92 L151.9,283.71 L151.4,283.5 L150.9,283.29 L150.4,283.09 L149.9,282.89 L149.4,282.7 L148.9,282.51 L148.4,282.32 L147.9,282.14 L147.4,281.96 L146.9,281.79 L146.4,281.63 L145.9,281.47 L145.4,281.32 L144.9,281.17 L144.4,281.03 L143.9,280.89 L143.4,280.76 L142.9,280.64 L142.4,280.52 L141.9,280.41 L141.4,280.3 L140.9,280.2 L140.4,280.1 L139.9,280.01 L139.4,279.93 L138.9,279.84 L138.4,279.77 L137.9,279.69 L137.4,279.62 L136.9,279.56 L136.4,279.5 L135.9,279.44 L135.4,279.39 L134.9,279.34 L134.4,279.29 L133.9,279.24 L133.4,279.2 L132.9,279.16 L132.4,279.12 L131.9,279.09 L131.4,279.06 L130.9,279.03 L130.4,279 L129.9,278.97 L129.4,278.95 L128.9,278.92 L128.4,278.9 L127.9,278.88 L127.4,278.86 L126.9,278.84 L126.4,278.83 L125.9,278.81 L125.4,278.8 L124.9,278.78 L124.4,278.77 L123.9,278.76 L123.4,278.75 L122.9,278.74 L122.4,278.73 L121.9,278.72 L121.4,278.71 L120.9,278.7 L120.4,278.7 L119.9,278.69 L119.4,278.68 L118.9,278.68 L118.4,278.67 L117.9,278.67 L117.4,278.66 L116.9,278.66 L116.4,278.65 L115.9,278.65 L115.4,278.64 L114.9,278.64 L114.4,278.64 L113.9,278.63 L113.4,278.63 L112.9,278.63 L112.4,278.62 L111.9,278.62 L111.4,278.62 L110.9,278.62 L110.4,278.61 L109.9,278.61 L109.4,278.61 L108.9,278.6 L108.4,278.6 L107.9,278.6 L107.4,278.59 L106.9,278.59 L106.4,278.59 L105.9,278.58 L105.4,278.58 L104.9,278.57 L104.4,278.57 L103.9,278.56 L103.4,278.56 L102.9,278.55 L102.4,278.54 L101.9,278.53 L101.4,278.52 L100.9,278.51 L100.4,278.5 L99.9,278.49 L99.4,278.48 L98.9,278.46 L98.4,278.45 L97.9,278.43 L97.4,278.41 L96.9,278.39 L96.4,278.36 L95.9,278.33 L95.4,278.3 L94.9,278.27 L94.4,278.23 L93.9,278.19 L93.4,278.15 L92.9,278.1 L92.4,278.04 L91.9,277.98 L91.4,277.92 L90.9,277.85 L90.4,277.77 L89.9,277.69 L89.4,277.6 L88.9,277.5 L88.4,277.4 L87.9,277.28 L87.4,277.17 L86.9,277.04 L86.4,276.91 L85.9,276.77 L85.4,276.62 L84.9,276.47 L84.4,276.31 L83.9,276.15 L83.4,275.98 L82.9,275.81 L82.4,275.64 L81.9,275.47 L81.4,275.29 L80.9,275.12 L80.4,274.95 L79.9,274.79 L79.4,274.63 L78.9,274.47 L78.4,274.32 L77.9,274.18 L77.4,274.04 L76.9,273.91 L76.4,273.79 L75.9,273.67 L75.4,273.56 L74.9,273.46 L74.4,273.37 L73.9,273.28 L73.4,273.2 L72.9,273.12 L72.4,273.06 L71.9,272.99 L71.4,272.94 L70.9,272.89 L70.4,272.84 L69.9,272.79 L69.4,272.76 L68.9,272.72 L68.4,272.69 L67.9,272.66 L67.4,272.63 L66.9,272.61 L66.4,272.59 L65.9,272.57 L65.4,272.55 L64.9,272.54 L64.4,272.52 L63.9,272.51 L63.4,272.5 L62.9,272.49 L62.4,272.48 L61.9,272.47 L61.4,272.46 L60.9,272.46 L60.4,272.45 L59.9,272.45 L59.4,272.44 L58.9,272.44 L58.4,272.43 L57.9,272.43 L57.4,272.43 L56.9,272.42 L56.4,272.42 L55.9,272.42 L55.4,272.42 Z" fill="#d0b4ee"/>
<path d="M55.4,272.39 L55.9,272.38 L56.4,272.38 L56.9,272.37 L57.4,272.36 L57.9,272.34 L58.4,272.33 L58.9,272.31 L59.4,272.3 L59.9,272.3 L60.4,272.29 L60.9,272.29 L61.4,272.29 L61.9,272.29 L62.4,272.29 L62.9,272.29 L63.4,272.29 L63.9,272.29 L64.4,272.29 L64.9,272.29 L65.4,272.29 L65.9,272.3 L66.4,272.3 L66.9,272.3 L67.4,272.31 L67.9,272.31 L68.4,272.31 L68.9,272.32 L69.4,272.32 L69.9,272.32 L70.4,272.31 L70.9,272.3 L71.4,272.27 L71.9,272.23 L72.4,272.17 L72.9,272.07 L73.4,271.94 L73.9,271.75 L74.4,271.51 L74.9,271.19 L75.4,270.79 L75.9,270.29 L76.4,269.68 L76.9,269.02 L77.4,269.2 L77.9,269.41 L78.4,269.65 L78.9,269.92 L79.4,270.22 L79.9,270.55 L80.4,270.9 L80.9,271.27 L81.4,271.65 L81.9,272.04 L82.4,272.44 L82.9,272.84 L83.4,273.24 L83.9,273.63 L84.4,274.01 L84.9,274.38 L85.4,274.74 L85.9,275.08 L86.4,275.41 L86.9,275.71 L87.4,276 L87.9,276.26 L88.4,276.5 L88.9,276.73 L89.4,276.93 L89.9,277.12 L90.4,277.29 L90.9,277.44 L91.4,277.58 L91.9,277.7 L92.4,277.81 L92.9,277.9 L93.4,277.99 L93.9,278.06 L94.4,278.13 L94.9,278.18 L95.4,278.23 L95.9,278.28 L96.4,278.32 L96.9,278.35 L97.4,278.38 L97.9,278.41 L98.4,278.43 L98.9,278.45 L99.4,278.47 L99.9,278.48 L100.4,278.5 L100.9,278.51 L101.4,278.52 L101.9,278.53 L102.4,278.54 L102.9,278.55 L103.4,278.55 L103.9,278.56 L104.4,278.57 L104.9,278.57 L105.4,278.58 L105.9,278.58 L106.4,278.59 L106.9,278.59 L107.4,278.59 L107.9,278.6 L108.4,278.6 L108.9,278.6 L109.4,278.61 L109.9,278.61 L110.4,278.61 L110.9,278.62 L111.4,278.62 L111.9,278.62 L112.4,278.62 L112.9,278.63 L113.4,278.63 L113.9,278.63 L114.4,278.64 L114.9,278.64 L115.4,278.64 L115.9,278.65 L116.4,278.65 L116.9,278.66 L117.4,278.66 L117.9,278.67 L118.4,278.67 L118.9,278.68 L119.4,278.68 L119.9,278.69 L120.4,278.69 L120.9,278.7 L121.4,278.7 L121.9,278.71 L122.4,278.71 L122.9,278.72 L123.4,278.72 L123.9,278.72 L124.4,278.73 L124.9,278.74 L125.4,278.76 L125.9,278.77 L126.4,278.79 L126.9,278.81 L127.4,278.82 L127.9,278.84 L128.4,278.87 L128.9,278.89 L129.4,278.91 L129.9,278.94 L130.4,278.96 L130.9,278.99 L131.4,279.02 L131.9,279.05 L132.4,279.09 L132.9,279.12 L133.4,279.16 L133.9,279.19 L134.4,279.23 L134.9,279.27 L135.4,279.3 L135.9,279.33 L136.4,279.36 L136.9,279.37 L137.4,279.38 L137.9,279.37 L138.4,279.34 L138.9,279.28 L139.4,279.2 L139.9,279.07 L140.4,278.89 L140.9,278.65 L141.4,278.34 L141.9,277.95 L142.4,277.47 L142.9,276.88 L143.4,276.18 L143.9,275.36 L144.4,275.17 L144.9,275.43 L145.4,275.74 L145.9,276.09 L146.4,276.47 L146.9,276.88 L147.4,277.32 L147.9,277.78 L148.4,278.26 L148.9,278.75 L149.4,279.24 L149.9,279.73 L150.4,280.23 L150.9,280.72 L151.4,281.19 L151.9,281.66 L152.4,282.11 L152.9,282.55 L153.4,282.97 L153.9,283.37 L154.4,283.75 L154.9,284.12 L155.4,284.46 L155.9,284.79 L156.4,285.1 L156.9,285.4 L157.4,285.68 L157.9,285.94 L158.4,286.19 L158.9,286.43 L159.4,286.66 L159.9,286.87 L160.4,287.07 L160.9,287.27 L161.4,287.45 L161.9,287.62 L162.4,287.79 L162.9,287.95 L162.9,287.97 L162.4,287.82 L161.9,287.67 L161.4,287.51 L160.9,287.34 L160.4,287.17 L159.9,286.99 L159.4,286.81 L158.9,286.62 L158.4,286.43 L157.9,286.23 L157.4,286.03 L156.9,285.83 L156.4,285.62 L155.9,285.41 L155.4,285.2 L154.9,284.99 L154.4,284.77 L153.9,284.56 L153.4,284.34 L152.9,284.13 L152.4,283.92 L151.9,283.71 L151.4,283.5 L150.9,283.29 L150.4,283.09 L149.9,282.89 L149.4,282.7 L148.9,282.51 L148.4,282.32 L147.9,282.14 L147.4,281.96 L146.9,281.79 L146.4,281.63 L145.9,281.47 L145.4,281.32 L144.9,281.17 L144.4,281.03 L143.9,280.89 L143.4,280.76 L142.9,280.64 L142.4,280.52 L141.9,280.41 L141.4,280.3 L140.9,280.2 L140.4,280.1 L139.9,280.01 L139.4,279.93 L138.9,279.84 L138.4,279.77 L137.9,279.69 L137.4,279.62 L136.9,279.56 L136.4,279.5 L135.9,279.44 L135.4,279.39 L134.9,279.34 L134.4,279.29 L133.9,279.24 L133.4,279.2 L132.9,279.16 L132.4,279.12 L131.9,279.09 L131.4,279.06 L130.9,279.03 L130.4,279 L129.9,278.97 L129.4,278.95 L128.9,278.92 L128.4,278.9 L127.9,278.88 L127.4,278.86 L126.9,278.84 L126.4,278.83 L125.9,278.81 L125.4,278.8 L124.9,278.78 L124.4,278.77 L123.9,278.76 L123.4,278.75 L122.9,278.74 L122.4,278.73 L121.9,278.72 L121.4,278.71 L120.9,278.7 L120.4,278.7 L119.9,278.69 L119.4,278.68 L118.9,278.68 L118.4,278.67 L117.9,278.67 L117.4,278.66 L116.9,278.66 L116.4,278.65 L115.9,278.65 L115.4,278.64 L114.9,278.64 L114.4,278.64 L113.9,278.63 L113.4,278.63 L112.9,278.63 L112.4,278.62 L111.9,278.62 L111.4,278.62 L110.9,278.62 L110.4,278.61 L109.9,278.61 L109.4,278.61 L108.9,278.6 L108.4,278.6 L107.9,278.6 L107.4,278.59 L106.9,278.59 L106.4,278.59 L105.9,278.58 L105.4,278.58 L104.9,278.57 L104.4,278.57 L103.9,278.56 L103.4,278.56 L102.9,278.55 L102.4,278.54 L101.9,278.53 L101.4,278.52 L100.9,278.51 L100.4,278.5 L99.9,278.49 L99.4,278.48 L98.9,278.46 L98.4,278.45 L97.9,278.43 L97.4,278.41 L96.9,278.39 L96.4,278.36 L95.9,278.33 L95.4,278.3 L94.9,278.27 L94.4,278.23 L93.9,278.19 L93.4,278.15 L92.9,278.1 L92.4,278.04 L91.9,277.98 L91.4,277.92 L90.9,277.85 L90.4,277.77 L89.9,277.69 L89.4,277.6 L88.9,277.5 L88.4,277.4 L87.9,277.28 L87.4,277.17 L86.9,277.04 L86.4,276.91 L85.9,276.77 L85.4,276.62 L84.9,276.47 L84.4,276.31 L83.9,276.15 L83.4,275.98 L82.9,275.81 L82.4,275.64 L81.9,275.47 L81.4,275.29 L80.9,275.12 L80.4,274.95 L79.9,274.79 L79.4,274.63 L78.9,274.47 L78.4,274.32 L77.9,274.18 L77.4,274.04 L76.9,273.91 L76.4,273.79 L75.9,273.67 L75.4,273.56 L74.9,273.46 L74.4,273.37 L73.9,273.28 L73.4,273.2 L72.9,273.12 L72.4,273.06 L71.9,272.99 L71.4,272.94 L70.9,272.89 L70.4,272.84 L69.9,272.79 L69.4,272.76 L68.9,272.72 L68.4,272.69 L67.9,272.66 L67.4,272.63 L66.9,272.61 L66.4,272.59 L65.9,272.57 L65.4,272.55 L64.9,272.54 L64.4,272.52 L63.9,272.51 L63.4,272.5 L62.9,272.49 L62.4,272.48 L61.9,272.47 L61.4,272.46 L60.9,272.46 L60.4,272.45 L59.9,272.45 L59.4,272.44 L58.9,272.44 L58.4,272.43 L57.9,272.43 L57.4,272.43 L56.9,272.42 L56.4,272.42 L55.9,272.42 L55.4,272.42 Z" fill="#a09bd6"/>
<path d="M36.9,272.4 L39.53,272.4 L43.36,272.4 L47.67,272.4 L51.78,272.37 L55,272.3 L57.2,272.19 L58.83,272.04 L60.1,271.87 L61.19,271.68 L62.3,271.5 L63.38,271.35 L64.3,271.22 L65.13,271.07 L65.94,270.84 L66.8,270.5 L67.72,270.01 L68.64,269.4 L69.56,268.72 L70.48,268.01 L71.4,267.3 L72.32,266.59 L73.25,265.85 L74.17,265.1 L75.06,264.34 L75.9,263.6 L76.7,262.85 L77.47,262.07 L78.2,261.31 L78.88,260.61 L79.5,260 L80.05,259.48 L80.55,259.02 L80.99,258.63 L81.41,258.32 L81.8,258.1 L82.16,257.94 L82.47,257.83 L82.76,257.82 L83.06,257.96 L83.4,258.3 L83.79,258.88 L84.2,259.66 L84.63,260.59 L85.07,261.62 L85.5,262.7 L85.92,263.88 L86.34,265.21 L86.77,266.58 L87.22,267.91 L87.7,269.1 L88.21,270.15 L88.74,271.12 L89.29,272.01 L89.88,272.84 L90.5,273.6 L91.15,274.28 L91.84,274.89 L92.56,275.43 L93.31,275.93 L94.1,276.4 L94.91,276.85 L95.74,277.26 L96.62,277.63 L97.56,277.95 L98.6,278.2 L99.54,278.37 L100.37,278.47 L101.37,278.51 L102.82,278.55 L105,278.6 L108.34,278.68 L112.65,278.77 L117.3,278.84 L121.63,278.89 L125,278.9 L127.24,278.89 L128.78,278.87 L129.88,278.8 L130.8,278.66 L131.8,278.4 L132.86,278 L133.82,277.47 L134.69,276.87 L135.51,276.24 L136.3,275.6 L137.05,274.98 L137.74,274.34 L138.39,273.67 L139.04,272.96 L139.7,272.2 L140.38,271.38 L141.06,270.51 L141.74,269.6 L142.42,268.66 L143.1,267.7 L143.79,266.73 L144.49,265.73 L145.18,264.7 L145.86,263.66 L146.5,262.6 L147.11,261.51 L147.69,260.39 L148.24,259.26 L148.78,258.12 L149.3,257 L149.8,255.83 L150.28,254.61 L150.73,253.41 L151.17,252.35 L151.6,251.5 L152.01,250.86 L152.39,250.36 L152.76,250.03 L153.13,249.87 L153.5,249.9 L153.88,250.1 L154.26,250.46 L154.65,251.01 L155.03,251.78 L155.4,252.8 L155.77,254.15 L156.13,255.8 L156.49,257.66 L156.85,259.59 L157.2,261.5 L157.54,263.43 L157.86,265.46 L158.18,267.51 L158.52,269.52 L158.9,271.4 L159.31,273.17 L159.73,274.88 L160.18,276.52 L160.67,278.06 L161.2,279.5 L161.76,280.84 L162.33,282.09 L162.96,283.24 L163.67,284.28 L164.5,285.2 L165.47,285.96 L166.55,286.58 L167.73,287.1 L168.95,287.56 L170.2,288 L171.47,288.42 L172.78,288.8 L174.14,289.13 L175.55,289.43 L177,289.7 L178.57,289.94 L180.24,290.15 L181.94,290.32 L183.55,290.47 L185,290.6 L186.32,290.7 L187.57,290.78 L188.69,290.83 L189.62,290.87 L190.3,290.9" fill="none" stroke="#4a4a4a" stroke-width="1.8" stroke-linejoin="round"/>
</g>
<rect x="36.9" y="169.9" width="153.4" height="123.4" fill="none" stroke="#000" stroke-width="1.35"/>
<line x1="36.9" y1="231.4" x2="190.3" y2="231.4" stroke="#000" stroke-width="1.35" />
<line x1="49.22" y1="230.9" x2="49.22" y2="228.3" stroke="#000" stroke-width="1.1" />
<line x1="97.47" y1="230.9" x2="97.47" y2="228.3" stroke="#000" stroke-width="1.1" />
<line x1="145.72" y1="230.9" x2="145.72" y2="228.3" stroke="#000" stroke-width="1.1" />
<line x1="73.34" y1="230.9" x2="73.34" y2="229.1" stroke="#000" stroke-width="1.1" />
<line x1="121.59" y1="230.9" x2="121.59" y2="229.1" stroke="#000" stroke-width="1.1" />
<line x1="169.84" y1="230.9" x2="169.84" y2="229.1" stroke="#000" stroke-width="1.1" />
<line x1="65.3" y1="292.8" x2="65.3" y2="290.2" stroke="#000" stroke-width="1.1" />
<line x1="97.47" y1="292.8" x2="97.47" y2="290.2" stroke="#000" stroke-width="1.1" />
<line x1="129.63" y1="292.8" x2="129.63" y2="290.2" stroke="#000" stroke-width="1.1" />
<line x1="161.8" y1="292.8" x2="161.8" y2="290.2" stroke="#000" stroke-width="1.1" />
<line x1="49.22" y1="292.8" x2="49.22" y2="291" stroke="#000" stroke-width="1.1" />
<line x1="81.38" y1="292.8" x2="81.38" y2="291" stroke="#000" stroke-width="1.1" />
<line x1="113.55" y1="292.8" x2="113.55" y2="291" stroke="#000" stroke-width="1.1" />
<line x1="145.72" y1="292.8" x2="145.72" y2="291" stroke="#000" stroke-width="1.1" />
<line x1="177.88" y1="292.8" x2="177.88" y2="291" stroke="#000" stroke-width="1.1" />
<rect x="43.3" y="173.2" width="18.2" height="8.5" fill="#94dab4"/>
<rect x="43.3" y="184.3" width="18.2" height="8.6" fill="#d4b8f0"/>
<text x="63.6" y="180.5" font-size="8.6" font-weight="bold" fill="#000" text-anchor="start" >Ru<tspan font-size="5.5" dy="-3.6">4+</tspan></text>
<text x="63.6" y="191.4" font-size="8.6" font-weight="bold" fill="#000" text-anchor="start" >Ru<tspan font-size="5.5" dy="-3.6">3+</tspan></text>
<text x="79.6" y="196.6" font-size="8.6" font-weight="bold" fill="#000" text-anchor="start" >Ru 3p<tspan font-size="5.8" dy="1.8">1/2</tspan></text>
<text x="140.8" y="188.9" font-size="8.6" font-weight="bold" fill="#000" text-anchor="start" >Ru 3p<tspan font-size="5.8" dy="1.8">3/2</tspan></text>
<text x="166.1" y="180.2" font-size="8.6" font-weight="bold" fill="#000" text-anchor="start" >Ru 3p</text>
<text x="145.5" y="242.3" font-size="7.85" font-weight="bold" fill="#000" text-anchor="start" >RuO<tspan font-size="5.4" dy="1.6">2</tspan><tspan dy="-1.6">-PTFE</tspan></text>
<text x="65.3" y="304.8" font-size="10.2" font-weight="bold" fill="#000" text-anchor="middle" >490</text>
<text x="97.47" y="304.8" font-size="10.2" font-weight="bold" fill="#000" text-anchor="middle" >480</text>
<text x="129.63" y="304.8" font-size="10.2" font-weight="bold" fill="#000" text-anchor="middle" >470</text>
<text x="161.8" y="304.8" font-size="10.2" font-weight="bold" fill="#000" text-anchor="middle" >460</text>
<text x="114.2" y="315.2" font-size="10.5" font-weight="bold" fill="#000" text-anchor="middle" >Binding energy (eV)</text>
<text x="20.6" y="175.6" font-size="16.5" font-weight="bold" fill="#000" text-anchor="start" >d</text>
<text x="0" y="0" font-size="10.5" font-weight="bold" text-anchor="middle" transform="translate(30.6,241.1) rotate(-90)">Intensity (a.u.)</text>
<clipPath id="ce1"><rect x="211.5" y="170.0" width="153.60000000000002" height="61.30000000000001"/></clipPath>
<clipPath id="ce2"><rect x="211.5" y="231.3" width="153.60000000000002" height="62.099999999999966"/></clipPath>
<g clip-path="url(#ce1)">
<path d="M298,220.53 L298.5,220.53 L299,220.52 L299.5,220.52 L300,220.51 L300.5,220.5 L301,220.48 L301.5,220.45 L302,220.41 L302.5,220.36 L303,220.29 L303.5,220.21 L304,220.11 L304.5,219.98 L305,219.82 L305.5,219.63 L306,219.4 L306.5,219.13 L307,218.81 L307.5,218.43 L308,217.99 L308.5,217.48 L309,216.91 L309.5,216.25 L310,215.52 L310.5,214.7 L311,213.8 L311.5,212.82 L312,211.75 L312.5,210.6 L313,209.38 L313.5,208.09 L314,206.75 L314.5,205.36 L315,203.95 L315.5,202.51 L316,201.09 L316.5,199.68 L317,198.32 L317.5,197.03 L318,195.82 L318.5,194.71 L319,193.73 L319.5,192.89 L320,192.21 L320.5,191.7 L321,191.37 L321.5,191.23 L322,191.28 L322.5,191.52 L323,191.94 L323.5,192.55 L324,193.32 L324.5,194.24 L325,195.31 L325.5,196.49 L326,197.78 L326.5,199.14 L327,200.57 L327.5,202.03 L328,203.52 L328.5,205 L329,206.46 L329.5,207.89 L330,209.27 L330.5,210.59 L331,211.85 L331.5,213.02 L332,214.12 L332.5,215.13 L333,216.05 L333.5,216.89 L334,217.64 L334.5,218.32 L335,218.91 L335.5,219.44 L336,219.9 L336.5,220.29 L337,220.64 L337.5,220.93 L338,221.18 L338.5,221.39 L339,221.56 L339.5,221.71 L340,221.83 L340.5,221.93 L341,222.01 L341.5,222.08 L342,222.14 L342.5,222.18 L343,222.22 L343.5,222.24 L344,222.27 L344.5,222.29 L345,222.3 L345.5,222.31 L345.5,222.34 L345,222.33 L344.5,222.33 L344,222.33 L343.5,222.32 L343,222.32 L342.5,222.31 L342,222.31 L341.5,222.3 L341,222.29 L340.5,222.29 L340,222.28 L339.5,222.27 L339,222.26 L338.5,222.26 L338,222.25 L337.5,222.24 L337,222.23 L336.5,222.22 L336,222.21 L335.5,222.2 L335,222.19 L334.5,222.17 L334,222.16 L333.5,222.15 L333,222.13 L332.5,222.12 L332,222.1 L331.5,222.09 L331,222.07 L330.5,222.05 L330,222.04 L329.5,222.02 L329,222 L328.5,221.98 L328,221.95 L327.5,221.93 L327,221.91 L326.5,221.89 L326,221.86 L325.5,221.84 L325,221.81 L324.5,221.79 L324,221.76 L323.5,221.73 L323,221.7 L322.5,221.67 L322,221.64 L321.5,221.62 L321,221.59 L320.5,221.55 L320,221.52 L319.5,221.49 L319,221.46 L318.5,221.43 L318,221.4 L317.5,221.37 L317,221.34 L316.5,221.31 L316,221.28 L315.5,221.25 L315,221.21 L314.5,221.18 L314,221.16 L313.5,221.13 L313,221.1 L312.5,221.07 L312,221.04 L311.5,221.01 L311,220.99 L310.5,220.96 L310,220.94 L309.5,220.91 L309,220.89 L308.5,220.87 L308,220.85 L307.5,220.82 L307,220.8 L306.5,220.78 L306,220.76 L305.5,220.75 L305,220.73 L304.5,220.71 L304,220.7 L303.5,220.68 L303,220.67 L302.5,220.65 L302,220.64 L301.5,220.63 L301,220.61 L300.5,220.6 L300,220.59 L299.5,220.58 L299,220.57 L298.5,220.56 L298,220.55 Z" fill="#f87474"/>
<path d="M254.5,220.37 L255,220.37 L255.5,220.36 L256,220.36 L256.5,220.35 L257,220.34 L257.5,220.33 L258,220.32 L258.5,220.3 L259,220.29 L259.5,220.27 L260,220.25 L260.5,220.23 L261,220.2 L261.5,220.17 L262,220.14 L262.5,220.11 L263,220.07 L263.5,220.02 L264,219.98 L264.5,219.92 L265,219.86 L265.5,219.8 L266,219.72 L266.5,219.65 L267,219.56 L267.5,219.47 L268,219.36 L268.5,219.25 L269,219.13 L269.5,219.01 L270,218.87 L270.5,218.72 L271,218.56 L271.5,218.39 L272,218.21 L272.5,218.02 L273,217.81 L273.5,217.6 L274,217.37 L274.5,217.13 L275,216.88 L275.5,216.62 L276,216.35 L276.5,216.06 L277,215.77 L277.5,215.46 L278,215.14 L278.5,214.81 L279,214.48 L279.5,214.13 L280,213.78 L280.5,213.42 L281,213.05 L281.5,212.68 L282,212.3 L282.5,211.92 L283,211.54 L283.5,211.15 L284,210.76 L284.5,210.37 L285,209.99 L285.5,209.6 L286,209.22 L286.5,208.85 L287,208.48 L287.5,208.11 L288,207.76 L288.5,207.41 L289,207.07 L289.5,206.74 L290,206.42 L290.5,206.12 L291,205.83 L291.5,205.55 L292,205.28 L292.5,205.03 L293,204.79 L293.5,204.57 L294,204.36 L294.5,204.17 L295,204 L295.5,203.84 L296,203.69 L296.5,203.57 L297,203.45 L297.5,203.35 L298,203.27 L298.5,203.2 L299,203.14 L299.5,203.1 L300,203.07 L300.5,203.05 L301,203.04 L301.5,203.03 L302,203.04 L302.5,203.05 L303,203.07 L303.5,203.09 L304,203.12 L304.5,203.16 L305,203.21 L305.5,203.28 L306,203.36 L306.5,203.46 L307,203.58 L307.5,203.71 L308,203.86 L308.5,204.04 L309,204.23 L309.5,204.44 L310,204.67 L310.5,204.92 L311,205.19 L311.5,205.48 L312,205.79 L312.5,206.12 L313,206.46 L313.5,206.82 L314,207.2 L314.5,207.59 L315,208 L315.5,208.41 L316,208.84 L316.5,209.28 L317,209.73 L317.5,210.18 L318,210.64 L318.5,211.1 L319,211.57 L319.5,212.03 L320,212.5 L320.5,212.96 L321,213.42 L321.5,213.87 L322,214.32 L322.5,214.76 L323,215.19 L323.5,215.61 L324,216.02 L324.5,216.41 L325,216.8 L325.5,217.17 L326,217.52 L326.5,217.86 L327,218.19 L327.5,218.5 L328,218.8 L328.5,219.08 L329,219.35 L329.5,219.6 L330,219.83 L330.5,220.05 L331,220.26 L331.5,220.45 L332,220.63 L332.5,220.79 L333,220.94 L333.5,221.08 L334,221.21 L334.5,221.33 L335,221.44 L335.5,221.54 L336,221.63 L336.5,221.71 L337,221.78 L337.5,221.85 L338,221.91 L338.5,221.96 L339,222.01 L339.5,222.05 L340,222.09 L340.5,222.12 L341,222.15 L341.5,222.18 L342,222.2 L342.5,222.22 L343,222.24 L343.5,222.26 L344,222.27 L344.5,222.29 L345,222.3 L345.5,222.31 L346,222.32 L346,222.34 L345.5,222.34 L345,222.33 L344.5,222.33 L344,222.33 L343.5,222.32 L343,222.32 L342.5,222.31 L342,222.31 L341.5,222.3 L341,222.29 L340.5,222.29 L340,222.28 L339.5,222.27 L339,222.26 L338.5,222.26 L338,222.25 L337.5,222.24 L337,222.23 L336.5,222.22 L336,222.21 L335.5,222.2 L335,222.19 L334.5,222.17 L334,222.16 L333.5,222.15 L333,222.13 L332.5,222.12 L332,222.1 L331.5,222.09 L331,222.07 L330.5,222.05 L330,222.04 L329.5,222.02 L329,222 L328.5,221.98 L328,221.95 L327.5,221.93 L327,221.91 L326.5,221.89 L326,221.86 L325.5,221.84 L325,221.81 L324.5,221.79 L324,221.76 L323.5,221.73 L323,221.7 L322.5,221.67 L322,221.64 L321.5,221.62 L321,221.59 L320.5,221.55 L320,221.52 L319.5,221.49 L319,221.46 L318.5,221.43 L318,221.4 L317.5,221.37 L317,221.34 L316.5,221.31 L316,221.28 L315.5,221.25 L315,221.21 L314.5,221.18 L314,221.16 L313.5,221.13 L313,221.1 L312.5,221.07 L312,221.04 L311.5,221.01 L311,220.99 L310.5,220.96 L310,220.94 L309.5,220.91 L309,220.89 L308.5,220.87 L308,220.85 L307.5,220.82 L307,220.8 L306.5,220.78 L306,220.76 L305.5,220.75 L305,220.73 L304.5,220.71 L304,220.7 L303.5,220.68 L303,220.67 L302.5,220.65 L302,220.64 L301.5,220.63 L301,220.61 L300.5,220.6 L300,220.59 L299.5,220.58 L299,220.57 L298.5,220.56 L298,220.55 L297.5,220.54 L297,220.54 L296.5,220.53 L296,220.52 L295.5,220.51 L295,220.51 L294.5,220.5 L294,220.49 L293.5,220.49 L293,220.48 L292.5,220.48 L292,220.47 L291.5,220.47 L291,220.47 L290.5,220.46 L290,220.46 L289.5,220.46 L289,220.45 L288.5,220.45 L288,220.45 L287.5,220.44 L287,220.44 L286.5,220.44 L286,220.44 L285.5,220.43 L285,220.43 L284.5,220.43 L284,220.43 L283.5,220.43 L283,220.42 L282.5,220.42 L282,220.42 L281.5,220.42 L281,220.42 L280.5,220.42 L280,220.42 L279.5,220.42 L279,220.42 L278.5,220.41 L278,220.41 L277.5,220.41 L277,220.41 L276.5,220.41 L276,220.41 L275.5,220.41 L275,220.41 L274.5,220.41 L274,220.41 L273.5,220.41 L273,220.41 L272.5,220.41 L272,220.41 L271.5,220.41 L271,220.41 L270.5,220.41 L270,220.4 L269.5,220.4 L269,220.4 L268.5,220.4 L268,220.4 L267.5,220.4 L267,220.4 L266.5,220.4 L266,220.4 L265.5,220.4 L265,220.4 L264.5,220.4 L264,220.4 L263.5,220.4 L263,220.4 L262.5,220.4 L262,220.4 L261.5,220.4 L261,220.4 L260.5,220.4 L260,220.4 L259.5,220.4 L259,220.4 L258.5,220.4 L258,220.4 L257.5,220.4 L257,220.4 L256.5,220.4 L256,220.4 L255.5,220.4 L255,220.4 L254.5,220.4 Z" fill="#66d8dc"/>
<path d="M211.5,219.94 L212,219.92 L212.5,219.9 L213,219.88 L213.5,219.85 L214,219.83 L214.5,219.81 L215,219.78 L215.5,219.76 L216,219.73 L216.5,219.7 L217,219.68 L217.5,219.65 L218,219.62 L218.5,219.59 L219,219.56 L219.5,219.52 L220,219.49 L220.5,219.46 L221,219.42 L221.5,219.39 L222,219.35 L222.5,219.32 L223,219.28 L223.5,219.24 L224,219.2 L224.5,219.16 L225,219.12 L225.5,219.08 L226,219.04 L226.5,218.99 L227,218.95 L227.5,218.91 L228,218.86 L228.5,218.81 L229,218.77 L229.5,218.72 L230,218.67 L230.5,218.63 L231,218.58 L231.5,218.53 L232,218.48 L232.5,218.43 L233,218.38 L233.5,218.32 L234,218.27 L234.5,218.22 L235,218.17 L235.5,218.12 L236,218.06 L236.5,218.01 L237,217.96 L237.5,217.91 L238,217.85 L238.5,217.8 L239,217.75 L239.5,217.69 L240,217.64 L240.5,217.59 L241,217.54 L241.5,217.48 L242,217.43 L242.5,217.38 L243,217.33 L243.5,217.28 L244,217.23 L244.5,217.18 L245,217.13 L245.5,217.08 L246,217.04 L246.5,216.99 L247,216.95 L247.5,216.9 L248,216.86 L248.5,216.81 L249,216.77 L249.5,216.73 L250,216.69 L250.5,216.66 L251,216.62 L251.5,216.58 L252,216.55 L252.5,216.52 L253,216.49 L253.5,216.46 L254,216.43 L254.5,216.4 L255,216.38 L255.5,216.35 L256,216.33 L256.5,216.31 L257,216.29 L257.5,216.27 L258,216.26 L258.5,216.25 L259,216.23 L259.5,216.22 L260,216.22 L260.5,216.21 L261,216.21 L261.5,216.2 L262,216.2 L262.5,216.2 L263,216.21 L263.5,216.21 L264,216.22 L264.5,216.23 L265,216.24 L265.5,216.25 L266,216.26 L266.5,216.28 L267,216.29 L267.5,216.31 L268,216.33 L268.5,216.36 L269,216.38 L269.5,216.4 L270,216.43 L270.5,216.46 L271,216.49 L271.5,216.52 L272,216.56 L272.5,216.59 L273,216.63 L273.5,216.66 L274,216.7 L274.5,216.74 L275,216.78 L275.5,216.82 L276,216.87 L276.5,216.91 L277,216.96 L277.5,217 L278,217.05 L278.5,217.1 L279,217.15 L279.5,217.2 L280,217.25 L280.5,217.3 L281,217.35 L281.5,217.4 L282,217.45 L282.5,217.51 L283,217.56 L283.5,217.61 L284,217.67 L284.5,217.72 L285,217.78 L285.5,217.83 L286,217.89 L286.5,217.94 L287,218 L287.5,218.05 L288,218.11 L288.5,218.17 L289,218.22 L289.5,218.28 L290,218.33 L290.5,218.39 L291,218.44 L291.5,218.5 L292,218.55 L292.5,218.61 L293,218.66 L293.5,218.71 L294,218.77 L294.5,218.82 L295,218.87 L295.5,218.93 L296,218.98 L296.5,219.03 L297,219.08 L297.5,219.14 L298,219.19 L298.5,219.24 L299,219.29 L299.5,219.34 L300,219.39 L300.5,219.44 L301,219.49 L301.5,219.54 L302,219.59 L302.5,219.64 L303,219.69 L303.5,219.74 L304,219.79 L304.5,219.84 L305,219.89 L305.5,219.93 L306,219.98 L306.5,220.03 L307,220.08 L307.5,220.13 L308,220.18 L308.5,220.22 L309,220.27 L309.5,220.32 L310,220.37 L310.5,220.42 L311,220.47 L311.5,220.51 L312,220.56 L312.5,220.61 L313,220.66 L313.5,220.71 L314,220.75 L314.5,220.8 L315,220.85 L315.5,220.89 L316,220.94 L316.5,220.99 L317,221.03 L317.5,221.08 L318,221.12 L318.5,221.17 L319,221.21 L319.5,221.26 L320,221.3 L320.5,221.34 L321,221.38 L321.5,221.42 L322,221.46 L322.5,221.5 L323,221.54 L323.5,221.57 L324,221.61 L324.5,221.64 L325,221.68 L325.5,221.71 L326,221.74 L326.5,221.77 L327,221.8 L327.5,221.83 L328,221.86 L328.5,221.89 L329,221.91 L329.5,221.94 L330,221.96 L330.5,221.98 L331,222 L331.5,222.02 L332,222.04 L332.5,222.06 L333,222.08 L333.5,222.1 L334,222.11 L334.5,222.13 L335,222.15 L335.5,222.16 L336,222.17 L336.5,222.19 L337,222.2 L337.5,222.21 L337.5,222.24 L337,222.23 L336.5,222.22 L336,222.21 L335.5,222.2 L335,222.19 L334.5,222.17 L334,222.16 L333.5,222.15 L333,222.13 L332.5,222.12 L332,222.1 L331.5,222.09 L331,222.07 L330.5,222.05 L330,222.04 L329.5,222.02 L329,222 L328.5,221.98 L328,221.95 L327.5,221.93 L327,221.91 L326.5,221.89 L326,221.86 L325.5,221.84 L325,221.81 L324.5,221.79 L324,221.76 L323.5,221.73 L323,221.7 L322.5,221.67 L322,221.64 L321.5,221.62 L321,221.59 L320.5,221.55 L320,221.52 L319.5,221.49 L319,221.46 L318.5,221.43 L318,221.4 L317.5,221.37 L317,221.34 L316.5,221.31 L316,221.28 L315.5,221.25 L315,221.21 L314.5,221.18 L314,221.16 L313.5,221.13 L313,221.1 L312.5,221.07 L312,221.04 L311.5,221.01 L311,220.99 L310.5,220.96 L310,220.94 L309.5,220.91 L309,220.89 L308.5,220.87 L308,220.85 L307.5,220.82 L307,220.8 L306.5,220.78 L306,220.76 L305.5,220.75 L305,220.73 L304.5,220.71 L304,220.7 L303.5,220.68 L303,220.67 L302.5,220.65 L302,220.64 L301.5,220.63 L301,220.61 L300.5,220.6 L300,220.59 L299.5,220.58 L299,220.57 L298.5,220.56 L298,220.55 L297.5,220.54 L297,220.54 L296.5,220.53 L296,220.52 L295.5,220.51 L295,220.51 L294.5,220.5 L294,220.49 L293.5,220.49 L293,220.48 L292.5,220.48 L292,220.47 L291.5,220.47 L291,220.47 L290.5,220.46 L290,220.46 L289.5,220.46 L289,220.45 L288.5,220.45 L288,220.45 L287.5,220.44 L287,220.44 L286.5,220.44 L286,220.44 L285.5,220.43 L285,220.43 L284.5,220.43 L284,220.43 L283.5,220.43 L283,220.42 L282.5,220.42 L282,220.42 L281.5,220.42 L281,220.42 L280.5,220.42 L280,220.42 L279.5,220.42 L279,220.42 L278.5,220.41 L278,220.41 L277.5,220.41 L277,220.41 L276.5,220.41 L276,220.41 L275.5,220.41 L275,220.41 L274.5,220.41 L274,220.41 L273.5,220.41 L273,220.41 L272.5,220.41 L272,220.41 L271.5,220.41 L271,220.41 L270.5,220.41 L270,220.4 L269.5,220.4 L269,220.4 L268.5,220.4 L268,220.4 L267.5,220.4 L267,220.4 L266.5,220.4 L266,220.4 L265.5,220.4 L265,220.4 L264.5,220.4 L264,220.4 L263.5,220.4 L263,220.4 L262.5,220.4 L262,220.4 L261.5,220.4 L261,220.4 L260.5,220.4 L260,220.4 L259.5,220.4 L259,220.4 L258.5,220.4 L258,220.4 L257.5,220.4 L257,220.4 L256.5,220.4 L256,220.4 L255.5,220.4 L255,220.4 L254.5,220.4 L254,220.4 L253.5,220.4 L253,220.4 L252.5,220.4 L252,220.4 L251.5,220.4 L251,220.4 L250.5,220.4 L250,220.4 L249.5,220.4 L249,220.4 L248.5,220.4 L248,220.4 L247.5,220.4 L247,220.4 L246.5,220.4 L246,220.4 L245.5,220.4 L245,220.4 L244.5,220.4 L244,220.4 L243.5,220.4 L243,220.4 L242.5,220.4 L242,220.4 L241.5,220.4 L241,220.4 L240.5,220.4 L240,220.4 L239.5,220.4 L239,220.4 L238.5,220.4 L238,220.4 L237.5,220.4 L237,220.4 L236.5,220.4 L236,220.4 L235.5,220.4 L235,220.4 L234.5,220.4 L234,220.4 L233.5,220.4 L233,220.4 L232.5,220.4 L232,220.4 L231.5,220.4 L231,220.4 L230.5,220.4 L230,220.4 L229.5,220.4 L229,220.4 L228.5,220.4 L228,220.4 L227.5,220.4 L227,220.4 L226.5,220.4 L226,220.4 L225.5,220.4 L225,220.4 L224.5,220.4 L224,220.4 L223.5,220.4 L223,220.4 L222.5,220.4 L222,220.4 L221.5,220.4 L221,220.4 L220.5,220.4 L220,220.4 L219.5,220.4 L219,220.4 L218.5,220.4 L218,220.4 L217.5,220.4 L217,220.4 L216.5,220.4 L216,220.4 L215.5,220.4 L215,220.4 L214.5,220.4 L214,220.4 L213.5,220.4 L213,220.4 L212.5,220.4 L212,220.4 L211.5,220.4 Z" fill="#8ccba4"/>
<path d="M298,220.53 L298.5,220.53 L299,220.52 L299.5,220.52 L300,220.51 L300.5,220.5 L301,220.48 L301.5,220.45 L302,220.41 L302.5,220.36 L303,220.29 L303.5,220.21 L304,220.11 L304.5,219.98 L305,219.82 L305.5,219.63 L306,219.4 L306.5,219.13 L307,218.81 L307.5,218.43 L308,217.99 L308.5,217.48 L309,216.91 L309.5,216.25 L310,215.52 L310.5,214.7 L311,213.8 L311.5,212.82 L312,211.75 L312.5,210.6 L313,209.38 L313.5,208.09 L314,207.2 L314.5,207.59 L315,208 L315.5,208.41 L316,208.84 L316.5,209.28 L317,209.73 L317.5,210.18 L318,210.64 L318.5,211.1 L319,211.57 L319.5,212.03 L320,212.5 L320.5,212.96 L321,213.42 L321.5,213.87 L322,214.32 L322.5,214.76 L323,215.19 L323.5,215.61 L324,216.02 L324.5,216.41 L325,216.8 L325.5,217.17 L326,217.52 L326.5,217.86 L327,218.19 L327.5,218.5 L328,218.8 L328.5,219.08 L329,219.35 L329.5,219.6 L330,219.83 L330.5,220.05 L331,220.26 L331.5,220.45 L332,220.63 L332.5,220.79 L333,220.94 L333.5,221.08 L334,221.21 L334.5,221.33 L335,221.44 L335.5,221.54 L336,221.63 L336.5,221.71 L337,221.78 L337.5,221.85 L338,221.91 L338.5,221.96 L339,222.01 L339.5,222.05 L340,222.09 L340.5,222.12 L341,222.15 L341.5,222.18 L342,222.2 L342.5,222.22 L343,222.24 L343.5,222.26 L344,222.27 L344.5,222.29 L345,222.3 L345.5,222.31 L345.5,222.34 L345,222.33 L344.5,222.33 L344,222.33 L343.5,222.32 L343,222.32 L342.5,222.31 L342,222.31 L341.5,222.3 L341,222.29 L340.5,222.29 L340,222.28 L339.5,222.27 L339,222.26 L338.5,222.26 L338,222.25 L337.5,222.24 L337,222.23 L336.5,222.22 L336,222.21 L335.5,222.2 L335,222.19 L334.5,222.17 L334,222.16 L333.5,222.15 L333,222.13 L332.5,222.12 L332,222.1 L331.5,222.09 L331,222.07 L330.5,222.05 L330,222.04 L329.5,222.02 L329,222 L328.5,221.98 L328,221.95 L327.5,221.93 L327,221.91 L326.5,221.89 L326,221.86 L325.5,221.84 L325,221.81 L324.5,221.79 L324,221.76 L323.5,221.73 L323,221.7 L322.5,221.67 L322,221.64 L321.5,221.62 L321,221.59 L320.5,221.55 L320,221.52 L319.5,221.49 L319,221.46 L318.5,221.43 L318,221.4 L317.5,221.37 L317,221.34 L316.5,221.31 L316,221.28 L315.5,221.25 L315,221.21 L314.5,221.18 L314,221.16 L313.5,221.13 L313,221.1 L312.5,221.07 L312,221.04 L311.5,221.01 L311,220.99 L310.5,220.96 L310,220.94 L309.5,220.91 L309,220.89 L308.5,220.87 L308,220.85 L307.5,220.82 L307,220.8 L306.5,220.78 L306,220.76 L305.5,220.75 L305,220.73 L304.5,220.71 L304,220.7 L303.5,220.68 L303,220.67 L302.5,220.65 L302,220.64 L301.5,220.63 L301,220.61 L300.5,220.6 L300,220.59 L299.5,220.58 L299,220.57 L298.5,220.56 L298,220.55 Z" fill="#7a9c9c"/>
<path d="M254.5,220.37 L255,220.37 L255.5,220.36 L256,220.36 L256.5,220.35 L257,220.34 L257.5,220.33 L258,220.32 L258.5,220.3 L259,220.29 L259.5,220.27 L260,220.25 L260.5,220.23 L261,220.2 L261.5,220.17 L262,220.14 L262.5,220.11 L263,220.07 L263.5,220.02 L264,219.98 L264.5,219.92 L265,219.86 L265.5,219.8 L266,219.72 L266.5,219.65 L267,219.56 L267.5,219.47 L268,219.36 L268.5,219.25 L269,219.13 L269.5,219.01 L270,218.87 L270.5,218.72 L271,218.56 L271.5,218.39 L272,218.21 L272.5,218.02 L273,217.81 L273.5,217.6 L274,217.37 L274.5,217.13 L275,216.88 L275.5,216.82 L276,216.87 L276.5,216.91 L277,216.96 L277.5,217 L278,217.05 L278.5,217.1 L279,217.15 L279.5,217.2 L280,217.25 L280.5,217.3 L281,217.35 L281.5,217.4 L282,217.45 L282.5,217.51 L283,217.56 L283.5,217.61 L284,217.67 L284.5,217.72 L285,217.78 L285.5,217.83 L286,217.89 L286.5,217.94 L287,218 L287.5,218.05 L288,218.11 L288.5,218.17 L289,218.22 L289.5,218.28 L290,218.33 L290.5,218.39 L291,218.44 L291.5,218.5 L292,218.55 L292.5,218.61 L293,218.66 L293.5,218.71 L294,218.77 L294.5,218.82 L295,218.87 L295.5,218.93 L296,218.98 L296.5,219.03 L297,219.08 L297.5,219.14 L298,219.19 L298.5,219.24 L299,219.29 L299.5,219.34 L300,219.39 L300.5,219.44 L301,219.49 L301.5,219.54 L302,219.59 L302.5,219.64 L303,219.69 L303.5,219.74 L304,219.79 L304.5,219.84 L305,219.89 L305.5,219.93 L306,219.98 L306.5,220.03 L307,220.08 L307.5,220.13 L308,220.18 L308.5,220.22 L309,220.27 L309.5,220.32 L310,220.37 L310.5,220.42 L311,220.47 L311.5,220.51 L312,220.56 L312.5,220.61 L313,220.66 L313.5,220.71 L314,220.75 L314.5,220.8 L315,220.85 L315.5,220.89 L316,220.94 L316.5,220.99 L317,221.03 L317.5,221.08 L318,221.12 L318.5,221.17 L319,221.21 L319.5,221.26 L320,221.3 L320.5,221.34 L321,221.38 L321.5,221.42 L322,221.46 L322.5,221.5 L323,221.54 L323.5,221.57 L324,221.61 L324.5,221.64 L325,221.68 L325.5,221.71 L326,221.74 L326.5,221.77 L327,221.8 L327.5,221.83 L328,221.86 L328.5,221.89 L329,221.91 L329.5,221.94 L330,221.96 L330.5,221.98 L331,222 L331.5,222.02 L332,222.04 L332.5,222.06 L333,222.08 L333.5,222.1 L334,222.11 L334.5,222.13 L335,222.15 L335.5,222.16 L336,222.17 L336.5,222.19 L337,222.2 L337.5,222.21 L337.5,222.24 L337,222.23 L336.5,222.22 L336,222.21 L335.5,222.2 L335,222.19 L334.5,222.17 L334,222.16 L333.5,222.15 L333,222.13 L332.5,222.12 L332,222.1 L331.5,222.09 L331,222.07 L330.5,222.05 L330,222.04 L329.5,222.02 L329,222 L328.5,221.98 L328,221.95 L327.5,221.93 L327,221.91 L326.5,221.89 L326,221.86 L325.5,221.84 L325,221.81 L324.5,221.79 L324,221.76 L323.5,221.73 L323,221.7 L322.5,221.67 L322,221.64 L321.5,221.62 L321,221.59 L320.5,221.55 L320,221.52 L319.5,221.49 L319,221.46 L318.5,221.43 L318,221.4 L317.5,221.37 L317,221.34 L316.5,221.31 L316,221.28 L315.5,221.25 L315,221.21 L314.5,221.18 L314,221.16 L313.5,221.13 L313,221.1 L312.5,221.07 L312,221.04 L311.5,221.01 L311,220.99 L310.5,220.96 L310,220.94 L309.5,220.91 L309,220.89 L308.5,220.87 L308,220.85 L307.5,220.82 L307,220.8 L306.5,220.78 L306,220.76 L305.5,220.75 L305,220.73 L304.5,220.71 L304,220.7 L303.5,220.68 L303,220.67 L302.5,220.65 L302,220.64 L301.5,220.63 L301,220.61 L300.5,220.6 L300,220.59 L299.5,220.58 L299,220.57 L298.5,220.56 L298,220.55 L297.5,220.54 L297,220.54 L296.5,220.53 L296,220.52 L295.5,220.51 L295,220.51 L294.5,220.5 L294,220.49 L293.5,220.49 L293,220.48 L292.5,220.48 L292,220.47 L291.5,220.47 L291,220.47 L290.5,220.46 L290,220.46 L289.5,220.46 L289,220.45 L288.5,220.45 L288,220.45 L287.5,220.44 L287,220.44 L286.5,220.44 L286,220.44 L285.5,220.43 L285,220.43 L284.5,220.43 L284,220.43 L283.5,220.43 L283,220.42 L282.5,220.42 L282,220.42 L281.5,220.42 L281,220.42 L280.5,220.42 L280,220.42 L279.5,220.42 L279,220.42 L278.5,220.41 L278,220.41 L277.5,220.41 L277,220.41 L276.5,220.41 L276,220.41 L275.5,220.41 L275,220.41 L274.5,220.41 L274,220.41 L273.5,220.41 L273,220.41 L272.5,220.41 L272,220.41 L271.5,220.41 L271,220.41 L270.5,220.41 L270,220.4 L269.5,220.4 L269,220.4 L268.5,220.4 L268,220.4 L267.5,220.4 L267,220.4 L266.5,220.4 L266,220.4 L265.5,220.4 L265,220.4 L264.5,220.4 L264,220.4 L263.5,220.4 L263,220.4 L262.5,220.4 L262,220.4 L261.5,220.4 L261,220.4 L260.5,220.4 L260,220.4 L259.5,220.4 L259,220.4 L258.5,220.4 L258,220.4 L257.5,220.4 L257,220.4 L256.5,220.4 L256,220.4 L255.5,220.4 L255,220.4 L254.5,220.4 Z" fill="#5cc4b0"/>
<path d="M298,220.53 L298.5,220.53 L299,220.52 L299.5,220.52 L300,220.51 L300.5,220.5 L301,220.48 L301.5,220.45 L302,220.41 L302.5,220.36 L303,220.29 L303.5,220.21 L304,220.11 L304.5,219.98 L305,219.89 L305.5,219.93 L306,219.98 L306.5,220.03 L307,220.08 L307.5,220.13 L308,220.18 L308.5,220.22 L309,220.27 L309.5,220.32 L310,220.37 L310.5,220.42 L311,220.47 L311.5,220.51 L312,220.56 L312.5,220.61 L313,220.66 L313.5,220.71 L314,220.75 L314.5,220.8 L315,220.85 L315.5,220.89 L316,220.94 L316.5,220.99 L317,221.03 L317.5,221.08 L318,221.12 L318.5,221.17 L319,221.21 L319.5,221.26 L320,221.3 L320.5,221.34 L321,221.38 L321.5,221.42 L322,221.46 L322.5,221.5 L323,221.54 L323.5,221.57 L324,221.61 L324.5,221.64 L325,221.68 L325.5,221.71 L326,221.74 L326.5,221.77 L327,221.8 L327.5,221.83 L328,221.86 L328.5,221.89 L329,221.91 L329.5,221.94 L330,221.96 L330.5,221.98 L331,222 L331.5,222.02 L332,222.04 L332.5,222.06 L333,222.08 L333.5,222.1 L334,222.11 L334.5,222.13 L335,222.15 L335.5,222.16 L336,222.17 L336.5,222.19 L337,222.2 L337.5,222.21 L337.5,222.24 L337,222.23 L336.5,222.22 L336,222.21 L335.5,222.2 L335,222.19 L334.5,222.17 L334,222.16 L333.5,222.15 L333,222.13 L332.5,222.12 L332,222.1 L331.5,222.09 L331,222.07 L330.5,222.05 L330,222.04 L329.5,222.02 L329,222 L328.5,221.98 L328,221.95 L327.5,221.93 L327,221.91 L326.5,221.89 L326,221.86 L325.5,221.84 L325,221.81 L324.5,221.79 L324,221.76 L323.5,221.73 L323,221.7 L322.5,221.67 L322,221.64 L321.5,221.62 L321,221.59 L320.5,221.55 L320,221.52 L319.5,221.49 L319,221.46 L318.5,221.43 L318,221.4 L317.5,221.37 L317,221.34 L316.5,221.31 L316,221.28 L315.5,221.25 L315,221.21 L314.5,221.18 L314,221.16 L313.5,221.13 L313,221.1 L312.5,221.07 L312,221.04 L311.5,221.01 L311,220.99 L310.5,220.96 L310,220.94 L309.5,220.91 L309,220.89 L308.5,220.87 L308,220.85 L307.5,220.82 L307,220.8 L306.5,220.78 L306,220.76 L305.5,220.75 L305,220.73 L304.5,220.71 L304,220.7 L303.5,220.68 L303,220.67 L302.5,220.65 L302,220.64 L301.5,220.63 L301,220.61 L300.5,220.6 L300,220.59 L299.5,220.58 L299,220.57 L298.5,220.56 L298,220.55 Z" fill="#7a9c9c"/>
<path d="M211.5,220.4 L212,220.4 L212.5,220.4 L213,220.4 L213.5,220.4 L214,220.4 L214.5,220.4 L215,220.4 L215.5,220.4 L216,220.4 L216.5,220.4 L217,220.4 L217.5,220.4 L218,220.4 L218.5,220.4 L219,220.4 L219.5,220.4 L220,220.4 L220.5,220.4 L221,220.4 L221.5,220.4 L222,220.4 L222.5,220.4 L223,220.4 L223.5,220.4 L224,220.4 L224.5,220.4 L225,220.4 L225.5,220.4 L226,220.4 L226.5,220.4 L227,220.4 L227.5,220.4 L228,220.4 L228.5,220.4 L229,220.4 L229.5,220.4 L230,220.4 L230.5,220.4 L231,220.4 L231.5,220.4 L232,220.4 L232.5,220.4 L233,220.4 L233.5,220.4 L234,220.4 L234.5,220.4 L235,220.4 L235.5,220.4 L236,220.4 L236.5,220.4 L237,220.4 L237.5,220.4 L238,220.4 L238.5,220.4 L239,220.4 L239.5,220.4 L240,220.4 L240.5,220.4 L241,220.4 L241.5,220.4 L242,220.4 L242.5,220.4 L243,220.4 L243.5,220.4 L244,220.4 L244.5,220.4 L245,220.4 L245.5,220.4 L246,220.4 L246.5,220.4 L247,220.4 L247.5,220.4 L248,220.4 L248.5,220.4 L249,220.4 L249.5,220.4 L250,220.4 L250.5,220.4 L251,220.4 L251.5,220.4 L252,220.4 L252.5,220.4 L253,220.4 L253.5,220.4 L254,220.4 L254.5,220.4 L255,220.4 L255.5,220.4 L256,220.4 L256.5,220.4 L257,220.4 L257.5,220.4 L258,220.4 L258.5,220.4 L259,220.4 L259.5,220.4 L260,220.4 L260.5,220.4 L261,220.4 L261.5,220.4 L262,220.4 L262.5,220.4 L263,220.4 L263.5,220.4 L264,220.4 L264.5,220.4 L265,220.4 L265.5,220.4 L266,220.4 L266.5,220.4 L267,220.4 L267.5,220.4 L268,220.4 L268.5,220.4 L269,220.4 L269.5,220.4 L270,220.4 L270.5,220.41 L271,220.41 L271.5,220.41 L272,220.41 L272.5,220.41 L273,220.41 L273.5,220.41 L274,220.41 L274.5,220.41 L275,220.41 L275.5,220.41 L276,220.41 L276.5,220.41 L277,220.41 L277.5,220.41 L278,220.41 L278.5,220.41 L279,220.42 L279.5,220.42 L280,220.42 L280.5,220.42 L281,220.42 L281.5,220.42 L282,220.42 L282.5,220.42 L283,220.42 L283.5,220.43 L284,220.43 L284.5,220.43 L285,220.43 L285.5,220.43 L286,220.44 L286.5,220.44 L287,220.44 L287.5,220.44 L288,220.45 L288.5,220.45 L289,220.45 L289.5,220.46 L290,220.46 L290.5,220.46 L291,220.47 L291.5,220.47 L292,220.47 L292.5,220.48 L293,220.48 L293.5,220.49 L294,220.49 L294.5,220.5 L295,220.51 L295.5,220.51 L296,220.52 L296.5,220.53 L297,220.54 L297.5,220.54 L298,220.55 L298.5,220.56 L299,220.57 L299.5,220.58 L300,220.59 L300.5,220.6 L301,220.61 L301.5,220.63 L302,220.64 L302.5,220.65 L303,220.67 L303.5,220.68 L304,220.7 L304.5,220.71 L305,220.73 L305.5,220.75 L306,220.76 L306.5,220.78 L307,220.8 L307.5,220.82 L308,220.85 L308.5,220.87 L309,220.89 L309.5,220.91 L310,220.94 L310.5,220.96 L311,220.99 L311.5,221.01 L312,221.04 L312.5,221.07 L313,221.1 L313.5,221.13 L314,221.16 L314.5,221.18 L315,221.21 L315.5,221.25 L316,221.28 L316.5,221.31 L317,221.34 L317.5,221.37 L318,221.4 L318.5,221.43 L319,221.46 L319.5,221.49 L320,221.52 L320.5,221.55 L321,221.59 L321.5,221.62 L322,221.64 L322.5,221.67 L323,221.7 L323.5,221.73 L324,221.76 L324.5,221.79 L325,221.81 L325.5,221.84 L326,221.86 L326.5,221.89 L327,221.91 L327.5,221.93 L328,221.95 L328.5,221.98 L329,222 L329.5,222.02 L330,222.04 L330.5,222.05 L331,222.07 L331.5,222.09 L332,222.1 L332.5,222.12 L333,222.13 L333.5,222.15 L334,222.16 L334.5,222.17 L335,222.19 L335.5,222.2 L336,222.21 L336.5,222.22 L337,222.23 L337.5,222.24 L338,222.25 L338.5,222.26 L339,222.26 L339.5,222.27 L340,222.28 L340.5,222.29 L341,222.29 L341.5,222.3 L342,222.31 L342.5,222.31 L343,222.32 L343.5,222.32 L344,222.33 L344.5,222.33 L345,222.33 L345.5,222.34 L346,222.34 L346.5,222.34 L347,222.35 L347.5,222.35 L348,222.35 L348.5,222.36 L349,222.36 L349.5,222.36 L350,222.36 L350.5,222.37 L351,222.37 L351.5,222.37 L352,222.37 L352.5,222.37 L353,222.38 L353.5,222.38 L354,222.38 L354.5,222.38 L355,222.38 L355.5,222.38 L356,222.38 L356.5,222.38 L357,222.38 L357.5,222.39 L358,222.39 L358.5,222.39 L359,222.39 L359.5,222.39 L360,222.39 L360.5,222.39 L361,222.39 L361.5,222.39 L362,222.39 L362.5,222.39 L363,222.39 L363.5,222.39 L364,222.39 L364.5,222.39 L365,222.39" fill="none" stroke="#000" stroke-width="1.7"/>
<path d="M211.5,220.2 L214.89,219.91 L219.74,219.51 L225.3,219.03 L230.8,218.51 L235.5,218 L239.27,217.49 L242.61,216.97 L245.7,216.42 L248.74,215.83 L251.9,215.2 L255.23,214.51 L258.62,213.78 L261.98,213.01 L265.23,212.21 L268.3,211.4 L271.16,210.56 L273.86,209.7 L276.44,208.82 L278.94,207.92 L281.4,207 L283.83,206.02 L286.22,204.98 L288.52,203.95 L290.73,203 L292.8,202.2 L294.74,201.6 L296.55,201.16 L298.26,200.79 L299.87,200.43 L301.4,200 L302.85,199.51 L304.21,199.01 L305.47,198.49 L306.64,197.92 L307.7,197.3 L308.62,196.65 L309.4,195.99 L310.09,195.26 L310.77,194.42 L311.5,193.4 L312.29,192.12 L313.09,190.62 L313.89,189.02 L314.67,187.47 L315.4,186.1 L316.09,184.88 L316.75,183.72 L317.38,182.66 L317.96,181.74 L318.5,181 L318.97,180.45 L319.36,180.06 L319.73,179.82 L320.1,179.71 L320.5,179.7 L320.93,179.76 L321.38,179.9 L321.84,180.19 L322.31,180.67 L322.8,181.4 L323.32,182.42 L323.86,183.7 L324.41,185.18 L324.96,186.8 L325.5,188.5 L326.03,190.34 L326.55,192.37 L327.07,194.49 L327.59,196.62 L328.1,198.7 L328.58,200.73 L329.04,202.77 L329.5,204.79 L330.01,206.77 L330.6,208.7 L331.27,210.63 L332.01,212.58 L332.79,214.45 L333.63,216.16 L334.5,217.6 L335.34,218.75 L336.16,219.67 L337.05,220.41 L338.13,221 L339.5,221.5 L341.17,221.85 L343.08,222.03 L345.2,222.11 L347.52,222.14 L350,222.2 L352.97,222.28 L356.43,222.33 L359.93,222.36 L362.97,222.38 L365.1,222.4" fill="none" stroke="#555" stroke-width="1.8" stroke-linejoin="round"/>
</g>
<g clip-path="url(#ce2)">
<path d="M297,283.73 L297.5,283.73 L298,283.73 L298.5,283.73 L299,283.72 L299.5,283.72 L300,283.71 L300.5,283.69 L301,283.67 L301.5,283.64 L302,283.61 L302.5,283.56 L303,283.5 L303.5,283.43 L304,283.34 L304.5,283.24 L305,283.11 L305.5,282.95 L306,282.77 L306.5,282.56 L307,282.31 L307.5,282.02 L308,281.68 L308.5,281.31 L309,280.88 L309.5,280.39 L310,279.85 L310.5,279.25 L311,278.58 L311.5,277.85 L312,277.06 L312.5,276.21 L313,275.28 L313.5,274.3 L314,273.27 L314.5,272.17 L315,271.04 L315.5,269.86 L316,268.66 L316.5,267.43 L317,266.2 L317.5,264.97 L318,263.76 L318.5,262.58 L319,261.45 L319.5,260.37 L320,259.36 L320.5,258.45 L321,257.63 L321.5,256.92 L322,256.33 L322.5,255.87 L323,255.55 L323.5,255.38 L324,255.34 L324.5,255.48 L325,255.82 L325.5,256.35 L326,257.06 L326.5,257.94 L327,258.98 L327.5,260.14 L328,261.42 L328.5,262.8 L329,264.24 L329.5,265.73 L330,267.24 L330.5,268.75 L331,270.25 L331.5,271.72 L332,273.14 L332.5,274.5 L333,275.78 L333.5,276.99 L334,278.11 L334.5,279.14 L335,280.08 L335.5,280.93 L336,281.69 L336.5,282.37 L337,282.97 L337.5,283.49 L338,283.95 L338.5,284.34 L339,284.68 L339.5,284.97 L340,285.21 L340.5,285.41 L341,285.58 L341.5,285.72 L342,285.84 L342.5,285.93 L343,286.01 L343.5,286.07 L344,286.12 L344.5,286.17 L345,286.2 L345.5,286.23 L346,286.25 L346.5,286.27 L347,286.28 L347,286.31 L346.5,286.3 L346,286.3 L345.5,286.29 L345,286.28 L344.5,286.27 L344,286.27 L343.5,286.26 L343,286.25 L342.5,286.24 L342,286.23 L341.5,286.22 L341,286.21 L340.5,286.2 L340,286.19 L339.5,286.17 L339,286.16 L338.5,286.15 L338,286.13 L337.5,286.12 L337,286.1 L336.5,286.08 L336,286.07 L335.5,286.05 L335,286.03 L334.5,286.01 L334,285.99 L333.5,285.96 L333,285.94 L332.5,285.91 L332,285.89 L331.5,285.86 L331,285.83 L330.5,285.81 L330,285.78 L329.5,285.75 L329,285.71 L328.5,285.68 L328,285.65 L327.5,285.61 L327,285.58 L326.5,285.54 L326,285.5 L325.5,285.46 L325,285.42 L324.5,285.38 L324,285.34 L323.5,285.3 L323,285.26 L322.5,285.22 L322,285.17 L321.5,285.13 L321,285.09 L320.5,285.04 L320,285 L319.5,284.96 L319,284.91 L318.5,284.87 L318,284.83 L317.5,284.78 L317,284.74 L316.5,284.7 L316,284.66 L315.5,284.62 L315,284.58 L314.5,284.54 L314,284.5 L313.5,284.46 L313,284.42 L312.5,284.39 L312,284.35 L311.5,284.32 L311,284.29 L310.5,284.25 L310,284.22 L309.5,284.19 L309,284.17 L308.5,284.14 L308,284.11 L307.5,284.09 L307,284.06 L306.5,284.04 L306,284.01 L305.5,283.99 L305,283.97 L304.5,283.95 L304,283.93 L303.5,283.92 L303,283.9 L302.5,283.88 L302,283.87 L301.5,283.85 L301,283.84 L300.5,283.83 L300,283.81 L299.5,283.8 L299,283.79 L298.5,283.78 L298,283.77 L297.5,283.76 L297,283.75 Z" fill="#f87474"/>
<path d="M262.5,283.57 L263,283.57 L263.5,283.56 L264,283.55 L264.5,283.55 L265,283.53 L265.5,283.52 L266,283.51 L266.5,283.49 L267,283.47 L267.5,283.45 L268,283.42 L268.5,283.39 L269,283.36 L269.5,283.32 L270,283.28 L270.5,283.23 L271,283.18 L271.5,283.12 L272,283.06 L272.5,282.98 L273,282.9 L273.5,282.81 L274,282.72 L274.5,282.61 L275,282.5 L275.5,282.37 L276,282.24 L276.5,282.1 L277,281.94 L277.5,281.78 L278,281.6 L278.5,281.42 L279,281.22 L279.5,281.01 L280,280.8 L280.5,280.57 L281,280.34 L281.5,280.09 L282,279.84 L282.5,279.58 L283,279.31 L283.5,279.04 L284,278.76 L284.5,278.47 L285,278.19 L285.5,277.9 L286,277.61 L286.5,277.32 L287,277.03 L287.5,276.74 L288,276.46 L288.5,276.18 L289,275.9 L289.5,275.64 L290,275.38 L290.5,275.13 L291,274.89 L291.5,274.66 L292,274.44 L292.5,274.23 L293,274.04 L293.5,273.86 L294,273.69 L294.5,273.53 L295,273.39 L295.5,273.27 L296,273.16 L296.5,273.06 L297,272.98 L297.5,272.91 L298,272.85 L298.5,272.8 L299,272.77 L299.5,272.75 L300,272.74 L300.5,272.74 L301,272.74 L301.5,272.75 L302,272.77 L302.5,272.79 L303,272.81 L303.5,272.84 L304,272.88 L304.5,272.92 L305,272.98 L305.5,273.04 L306,273.12 L306.5,273.21 L307,273.31 L307.5,273.42 L308,273.54 L308.5,273.67 L309,273.82 L309.5,273.98 L310,274.15 L310.5,274.33 L311,274.53 L311.5,274.73 L312,274.95 L312.5,275.18 L313,275.42 L313.5,275.67 L314,275.93 L314.5,276.2 L315,276.48 L315.5,276.76 L316,277.05 L316.5,277.34 L317,277.64 L317.5,277.95 L318,278.25 L318.5,278.56 L319,278.87 L319.5,279.18 L320,279.49 L320.5,279.79 L321,280.09 L321.5,280.4 L322,280.69 L322.5,280.98 L323,281.27 L323.5,281.54 L324,281.82 L324.5,282.08 L325,282.34 L325.5,282.58 L326,282.82 L326.5,283.05 L327,283.27 L327.5,283.48 L328,283.68 L328.5,283.87 L329,284.06 L329.5,284.23 L330,284.39 L330.5,284.54 L331,284.69 L331.5,284.82 L332,284.95 L332.5,285.07 L333,285.18 L333.5,285.28 L334,285.37 L334.5,285.46 L335,285.54 L335.5,285.61 L336,285.68 L336.5,285.75 L337,285.8 L337.5,285.86 L338,285.9 L338.5,285.95 L339,285.99 L339.5,286.02 L340,286.06 L340.5,286.09 L341,286.11 L341.5,286.14 L342,286.16 L342.5,286.18 L343,286.2 L343.5,286.21 L344,286.23 L344.5,286.24 L345,286.26 L345,286.28 L344.5,286.27 L344,286.27 L343.5,286.26 L343,286.25 L342.5,286.24 L342,286.23 L341.5,286.22 L341,286.21 L340.5,286.2 L340,286.19 L339.5,286.17 L339,286.16 L338.5,286.15 L338,286.13 L337.5,286.12 L337,286.1 L336.5,286.08 L336,286.07 L335.5,286.05 L335,286.03 L334.5,286.01 L334,285.99 L333.5,285.96 L333,285.94 L332.5,285.91 L332,285.89 L331.5,285.86 L331,285.83 L330.5,285.81 L330,285.78 L329.5,285.75 L329,285.71 L328.5,285.68 L328,285.65 L327.5,285.61 L327,285.58 L326.5,285.54 L326,285.5 L325.5,285.46 L325,285.42 L324.5,285.38 L324,285.34 L323.5,285.3 L323,285.26 L322.5,285.22 L322,285.17 L321.5,285.13 L321,285.09 L320.5,285.04 L320,285 L319.5,284.96 L319,284.91 L318.5,284.87 L318,284.83 L317.5,284.78 L317,284.74 L316.5,284.7 L316,284.66 L315.5,284.62 L315,284.58 L314.5,284.54 L314,284.5 L313.5,284.46 L313,284.42 L312.5,284.39 L312,284.35 L311.5,284.32 L311,284.29 L310.5,284.25 L310,284.22 L309.5,284.19 L309,284.17 L308.5,284.14 L308,284.11 L307.5,284.09 L307,284.06 L306.5,284.04 L306,284.01 L305.5,283.99 L305,283.97 L304.5,283.95 L304,283.93 L303.5,283.92 L303,283.9 L302.5,283.88 L302,283.87 L301.5,283.85 L301,283.84 L300.5,283.83 L300,283.81 L299.5,283.8 L299,283.79 L298.5,283.78 L298,283.77 L297.5,283.76 L297,283.75 L296.5,283.74 L296,283.73 L295.5,283.73 L295,283.72 L294.5,283.71 L294,283.7 L293.5,283.7 L293,283.69 L292.5,283.69 L292,283.68 L291.5,283.68 L291,283.67 L290.5,283.67 L290,283.66 L289.5,283.66 L289,283.66 L288.5,283.65 L288,283.65 L287.5,283.65 L287,283.64 L286.5,283.64 L286,283.64 L285.5,283.64 L285,283.63 L284.5,283.63 L284,283.63 L283.5,283.63 L283,283.63 L282.5,283.63 L282,283.62 L281.5,283.62 L281,283.62 L280.5,283.62 L280,283.62 L279.5,283.62 L279,283.62 L278.5,283.62 L278,283.61 L277.5,283.61 L277,283.61 L276.5,283.61 L276,283.61 L275.5,283.61 L275,283.61 L274.5,283.61 L274,283.61 L273.5,283.61 L273,283.61 L272.5,283.61 L272,283.61 L271.5,283.61 L271,283.61 L270.5,283.61 L270,283.61 L269.5,283.61 L269,283.6 L268.5,283.6 L268,283.6 L267.5,283.6 L267,283.6 L266.5,283.6 L266,283.6 L265.5,283.6 L265,283.6 L264.5,283.6 L264,283.6 L263.5,283.6 L263,283.6 L262.5,283.6 Z" fill="#66d8dc"/>
<path d="M211.5,283.03 L212,283 L212.5,282.97 L213,282.94 L213.5,282.9 L214,282.87 L214.5,282.84 L215,282.8 L215.5,282.76 L216,282.73 L216.5,282.69 L217,282.65 L217.5,282.6 L218,282.56 L218.5,282.52 L219,282.47 L219.5,282.42 L220,282.37 L220.5,282.32 L221,282.27 L221.5,282.22 L222,282.17 L222.5,282.11 L223,282.05 L223.5,282 L224,281.94 L224.5,281.87 L225,281.81 L225.5,281.75 L226,281.68 L226.5,281.62 L227,281.55 L227.5,281.48 L228,281.41 L228.5,281.34 L229,281.27 L229.5,281.2 L230,281.13 L230.5,281.05 L231,280.98 L231.5,280.9 L232,280.82 L232.5,280.74 L233,280.67 L233.5,280.59 L234,280.51 L234.5,280.43 L235,280.35 L235.5,280.27 L236,280.18 L236.5,280.1 L237,280.02 L237.5,279.94 L238,279.86 L238.5,279.78 L239,279.7 L239.5,279.62 L240,279.54 L240.5,279.46 L241,279.38 L241.5,279.3 L242,279.22 L242.5,279.15 L243,279.07 L243.5,279 L244,278.92 L244.5,278.85 L245,278.78 L245.5,278.71 L246,278.65 L246.5,278.58 L247,278.52 L247.5,278.45 L248,278.39 L248.5,278.34 L249,278.28 L249.5,278.23 L250,278.17 L250.5,278.12 L251,278.08 L251.5,278.03 L252,277.99 L252.5,277.95 L253,277.92 L253.5,277.88 L254,277.85 L254.5,277.82 L255,277.8 L255.5,277.78 L256,277.76 L256.5,277.74 L257,277.73 L257.5,277.71 L258,277.71 L258.5,277.7 L259,277.7 L259.5,277.7 L260,277.71 L260.5,277.72 L261,277.73 L261.5,277.74 L262,277.76 L262.5,277.78 L263,277.8 L263.5,277.82 L264,277.85 L264.5,277.88 L265,277.92 L265.5,277.96 L266,277.99 L266.5,278.04 L267,278.08 L267.5,278.13 L268,278.18 L268.5,278.23 L269,278.28 L269.5,278.34 L270,278.4 L270.5,278.46 L271,278.52 L271.5,278.59 L272,278.65 L272.5,278.72 L273,278.79 L273.5,278.86 L274,278.93 L274.5,279.01 L275,279.08 L275.5,279.16 L276,279.23 L276.5,279.31 L277,279.39 L277.5,279.47 L278,279.55 L278.5,279.63 L279,279.71 L279.5,279.8 L280,279.88 L280.5,279.96 L281,280.04 L281.5,280.13 L282,280.21 L282.5,280.29 L283,280.37 L283.5,280.46 L284,280.54 L284.5,280.62 L285,280.7 L285.5,280.78 L286,280.86 L286.5,280.94 L287,281.02 L287.5,281.1 L288,281.18 L288.5,281.25 L289,281.33 L289.5,281.4 L290,281.48 L290.5,281.55 L291,281.62 L291.5,281.7 L292,281.77 L292.5,281.84 L293,281.91 L293.5,281.97 L294,282.04 L294.5,282.11 L295,282.17 L295.5,282.24 L296,282.3 L296.5,282.36 L297,282.42 L297.5,282.48 L298,282.54 L298.5,282.6 L299,282.66 L299.5,282.72 L300,282.77 L300.5,282.83 L301,282.88 L301.5,282.94 L302,282.99 L302.5,283.05 L303,283.1 L303.5,283.15 L304,283.21 L304.5,283.26 L305,283.31 L305.5,283.36 L306,283.41 L306.5,283.46 L307,283.51 L307.5,283.57 L308,283.62 L308.5,283.67 L309,283.72 L309.5,283.77 L310,283.82 L310.5,283.87 L311,283.93 L311.5,283.98 L312,284.03 L312.5,284.08 L313,284.13 L313.5,284.19 L314,284.24 L314.5,284.29 L315,284.35 L315.5,284.4 L316,284.45 L316.5,284.5 L317,284.56 L317.5,284.61 L318,284.66 L318.5,284.72 L319,284.77 L319.5,284.82 L320,284.87 L320.5,284.93 L321,284.98 L321.5,285.03 L322,285.08 L322.5,285.13 L323,285.17 L323.5,285.22 L324,285.27 L324.5,285.31 L325,285.36 L325.5,285.4 L326,285.44 L326.5,285.49 L327,285.53 L327.5,285.57 L328,285.6 L328.5,285.64 L329,285.68 L329.5,285.71 L330,285.74 L330.5,285.78 L331,285.81 L331,285.83 L330.5,285.81 L330,285.78 L329.5,285.75 L329,285.71 L328.5,285.68 L328,285.65 L327.5,285.61 L327,285.58 L326.5,285.54 L326,285.5 L325.5,285.46 L325,285.42 L324.5,285.38 L324,285.34 L323.5,285.3 L323,285.26 L322.5,285.22 L322,285.17 L321.5,285.13 L321,285.09 L320.5,285.04 L320,285 L319.5,284.96 L319,284.91 L318.5,284.87 L318,284.83 L317.5,284.78 L317,284.74 L316.5,284.7 L316,284.66 L315.5,284.62 L315,284.58 L314.5,284.54 L314,284.5 L313.5,284.46 L313,284.42 L312.5,284.39 L312,284.35 L311.5,284.32 L311,284.29 L310.5,284.25 L310,284.22 L309.5,284.19 L309,284.17 L308.5,284.14 L308,284.11 L307.5,284.09 L307,284.06 L306.5,284.04 L306,284.01 L305.5,283.99 L305,283.97 L304.5,283.95 L304,283.93 L303.5,283.92 L303,283.9 L302.5,283.88 L302,283.87 L301.5,283.85 L301,283.84 L300.5,283.83 L300,283.81 L299.5,283.8 L299,283.79 L298.5,283.78 L298,283.77 L297.5,283.76 L297,283.75 L296.5,283.74 L296,283.73 L295.5,283.73 L295,283.72 L294.5,283.71 L294,283.7 L293.5,283.7 L293,283.69 L292.5,283.69 L292,283.68 L291.5,283.68 L291,283.67 L290.5,283.67 L290,283.66 L289.5,283.66 L289,283.66 L288.5,283.65 L288,283.65 L287.5,283.65 L287,283.64 L286.5,283.64 L286,283.64 L285.5,283.64 L285,283.63 L284.5,283.63 L284,283.63 L283.5,283.63 L283,283.63 L282.5,283.63 L282,283.62 L281.5,283.62 L281,283.62 L280.5,283.62 L280,283.62 L279.5,283.62 L279,283.62 L278.5,283.62 L278,283.61 L277.5,283.61 L277,283.61 L276.5,283.61 L276,283.61 L275.5,283.61 L275,283.61 L274.5,283.61 L274,283.61 L273.5,283.61 L273,283.61 L272.5,283.61 L272,283.61 L271.5,283.61 L271,283.61 L270.5,283.61 L270,283.61 L269.5,283.61 L269,283.6 L268.5,283.6 L268,283.6 L267.5,283.6 L267,283.6 L266.5,283.6 L266,283.6 L265.5,283.6 L265,283.6 L264.5,283.6 L264,283.6 L263.5,283.6 L263,283.6 L262.5,283.6 L262,283.6 L261.5,283.6 L261,283.6 L260.5,283.6 L260,283.6 L259.5,283.6 L259,283.6 L258.5,283.6 L258,283.6 L257.5,283.6 L257,283.6 L256.5,283.6 L256,283.6 L255.5,283.6 L255,283.6 L254.5,283.6 L254,283.6 L253.5,283.6 L253,283.6 L252.5,283.6 L252,283.6 L251.5,283.6 L251,283.6 L250.5,283.6 L250,283.6 L249.5,283.6 L249,283.6 L248.5,283.6 L248,283.6 L247.5,283.6 L247,283.6 L246.5,283.6 L246,283.6 L245.5,283.6 L245,283.6 L244.5,283.6 L244,283.6 L243.5,283.6 L243,283.6 L242.5,283.6 L242,283.6 L241.5,283.6 L241,283.6 L240.5,283.6 L240,283.6 L239.5,283.6 L239,283.6 L238.5,283.6 L238,283.6 L237.5,283.6 L237,283.6 L236.5,283.6 L236,283.6 L235.5,283.6 L235,283.6 L234.5,283.6 L234,283.6 L233.5,283.6 L233,283.6 L232.5,283.6 L232,283.6 L231.5,283.6 L231,283.6 L230.5,283.6 L230,283.6 L229.5,283.6 L229,283.6 L228.5,283.6 L228,283.6 L227.5,283.6 L227,283.6 L226.5,283.6 L226,283.6 L225.5,283.6 L225,283.6 L224.5,283.6 L224,283.6 L223.5,283.6 L223,283.6 L222.5,283.6 L222,283.6 L221.5,283.6 L221,283.6 L220.5,283.6 L220,283.6 L219.5,283.6 L219,283.6 L218.5,283.6 L218,283.6 L217.5,283.6 L217,283.6 L216.5,283.6 L216,283.6 L215.5,283.6 L215,283.6 L214.5,283.6 L214,283.6 L213.5,283.6 L213,283.6 L212.5,283.6 L212,283.6 L211.5,283.6 Z" fill="#8ccba4"/>
<path d="M297,283.73 L297.5,283.73 L298,283.73 L298.5,283.73 L299,283.72 L299.5,283.72 L300,283.71 L300.5,283.69 L301,283.67 L301.5,283.64 L302,283.61 L302.5,283.56 L303,283.5 L303.5,283.43 L304,283.34 L304.5,283.24 L305,283.11 L305.5,282.95 L306,282.77 L306.5,282.56 L307,282.31 L307.5,282.02 L308,281.68 L308.5,281.31 L309,280.88 L309.5,280.39 L310,279.85 L310.5,279.25 L311,278.58 L311.5,277.85 L312,277.06 L312.5,276.21 L313,275.42 L313.5,275.67 L314,275.93 L314.5,276.2 L315,276.48 L315.5,276.76 L316,277.05 L316.5,277.34 L317,277.64 L317.5,277.95 L318,278.25 L318.5,278.56 L319,278.87 L319.5,279.18 L320,279.49 L320.5,279.79 L321,280.09 L321.5,280.4 L322,280.69 L322.5,280.98 L323,281.27 L323.5,281.54 L324,281.82 L324.5,282.08 L325,282.34 L325.5,282.58 L326,282.82 L326.5,283.05 L327,283.27 L327.5,283.48 L328,283.68 L328.5,283.87 L329,284.06 L329.5,284.23 L330,284.39 L330.5,284.54 L331,284.69 L331.5,284.82 L332,284.95 L332.5,285.07 L333,285.18 L333.5,285.28 L334,285.37 L334.5,285.46 L335,285.54 L335.5,285.61 L336,285.68 L336.5,285.75 L337,285.8 L337.5,285.86 L338,285.9 L338.5,285.95 L339,285.99 L339.5,286.02 L340,286.06 L340.5,286.09 L341,286.11 L341.5,286.14 L342,286.16 L342.5,286.18 L343,286.2 L343.5,286.21 L344,286.23 L344.5,286.24 L345,286.26 L345,286.28 L344.5,286.27 L344,286.27 L343.5,286.26 L343,286.25 L342.5,286.24 L342,286.23 L341.5,286.22 L341,286.21 L340.5,286.2 L340,286.19 L339.5,286.17 L339,286.16 L338.5,286.15 L338,286.13 L337.5,286.12 L337,286.1 L336.5,286.08 L336,286.07 L335.5,286.05 L335,286.03 L334.5,286.01 L334,285.99 L333.5,285.96 L333,285.94 L332.5,285.91 L332,285.89 L331.5,285.86 L331,285.83 L330.5,285.81 L330,285.78 L329.5,285.75 L329,285.71 L328.5,285.68 L328,285.65 L327.5,285.61 L327,285.58 L326.5,285.54 L326,285.5 L325.5,285.46 L325,285.42 L324.5,285.38 L324,285.34 L323.5,285.3 L323,285.26 L322.5,285.22 L322,285.17 L321.5,285.13 L321,285.09 L320.5,285.04 L320,285 L319.5,284.96 L319,284.91 L318.5,284.87 L318,284.83 L317.5,284.78 L317,284.74 L316.5,284.7 L316,284.66 L315.5,284.62 L315,284.58 L314.5,284.54 L314,284.5 L313.5,284.46 L313,284.42 L312.5,284.39 L312,284.35 L311.5,284.32 L311,284.29 L310.5,284.25 L310,284.22 L309.5,284.19 L309,284.17 L308.5,284.14 L308,284.11 L307.5,284.09 L307,284.06 L306.5,284.04 L306,284.01 L305.5,283.99 L305,283.97 L304.5,283.95 L304,283.93 L303.5,283.92 L303,283.9 L302.5,283.88 L302,283.87 L301.5,283.85 L301,283.84 L300.5,283.83 L300,283.81 L299.5,283.8 L299,283.79 L298.5,283.78 L298,283.77 L297.5,283.76 L297,283.75 Z" fill="#7a9c9c"/>
<path d="M262.5,283.57 L263,283.57 L263.5,283.56 L264,283.55 L264.5,283.55 L265,283.53 L265.5,283.52 L266,283.51 L266.5,283.49 L267,283.47 L267.5,283.45 L268,283.42 L268.5,283.39 L269,283.36 L269.5,283.32 L270,283.28 L270.5,283.23 L271,283.18 L271.5,283.12 L272,283.06 L272.5,282.98 L273,282.9 L273.5,282.81 L274,282.72 L274.5,282.61 L275,282.5 L275.5,282.37 L276,282.24 L276.5,282.1 L277,281.94 L277.5,281.78 L278,281.6 L278.5,281.42 L279,281.22 L279.5,281.01 L280,280.8 L280.5,280.57 L281,280.34 L281.5,280.13 L282,280.21 L282.5,280.29 L283,280.37 L283.5,280.46 L284,280.54 L284.5,280.62 L285,280.7 L285.5,280.78 L286,280.86 L286.5,280.94 L287,281.02 L287.5,281.1 L288,281.18 L288.5,281.25 L289,281.33 L289.5,281.4 L290,281.48 L290.5,281.55 L291,281.62 L291.5,281.7 L292,281.77 L292.5,281.84 L293,281.91 L293.5,281.97 L294,282.04 L294.5,282.11 L295,282.17 L295.5,282.24 L296,282.3 L296.5,282.36 L297,282.42 L297.5,282.48 L298,282.54 L298.5,282.6 L299,282.66 L299.5,282.72 L300,282.77 L300.5,282.83 L301,282.88 L301.5,282.94 L302,282.99 L302.5,283.05 L303,283.1 L303.5,283.15 L304,283.21 L304.5,283.26 L305,283.31 L305.5,283.36 L306,283.41 L306.5,283.46 L307,283.51 L307.5,283.57 L308,283.62 L308.5,283.67 L309,283.72 L309.5,283.77 L310,283.82 L310.5,283.87 L311,283.93 L311.5,283.98 L312,284.03 L312.5,284.08 L313,284.13 L313.5,284.19 L314,284.24 L314.5,284.29 L315,284.35 L315.5,284.4 L316,284.45 L316.5,284.5 L317,284.56 L317.5,284.61 L318,284.66 L318.5,284.72 L319,284.77 L319.5,284.82 L320,284.87 L320.5,284.93 L321,284.98 L321.5,285.03 L322,285.08 L322.5,285.13 L323,285.17 L323.5,285.22 L324,285.27 L324.5,285.31 L325,285.36 L325.5,285.4 L326,285.44 L326.5,285.49 L327,285.53 L327.5,285.57 L328,285.6 L328.5,285.64 L329,285.68 L329.5,285.71 L330,285.74 L330.5,285.78 L331,285.81 L331,285.83 L330.5,285.81 L330,285.78 L329.5,285.75 L329,285.71 L328.5,285.68 L328,285.65 L327.5,285.61 L327,285.58 L326.5,285.54 L326,285.5 L325.5,285.46 L325,285.42 L324.5,285.38 L324,285.34 L323.5,285.3 L323,285.26 L322.5,285.22 L322,285.17 L321.5,285.13 L321,285.09 L320.5,285.04 L320,285 L319.5,284.96 L319,284.91 L318.5,284.87 L318,284.83 L317.5,284.78 L317,284.74 L316.5,284.7 L316,284.66 L315.5,284.62 L315,284.58 L314.5,284.54 L314,284.5 L313.5,284.46 L313,284.42 L312.5,284.39 L312,284.35 L311.5,284.32 L311,284.29 L310.5,284.25 L310,284.22 L309.5,284.19 L309,284.17 L308.5,284.14 L308,284.11 L307.5,284.09 L307,284.06 L306.5,284.04 L306,284.01 L305.5,283.99 L305,283.97 L304.5,283.95 L304,283.93 L303.5,283.92 L303,283.9 L302.5,283.88 L302,283.87 L301.5,283.85 L301,283.84 L300.5,283.83 L300,283.81 L299.5,283.8 L299,283.79 L298.5,283.78 L298,283.77 L297.5,283.76 L297,283.75 L296.5,283.74 L296,283.73 L295.5,283.73 L295,283.72 L294.5,283.71 L294,283.7 L293.5,283.7 L293,283.69 L292.5,283.69 L292,283.68 L291.5,283.68 L291,283.67 L290.5,283.67 L290,283.66 L289.5,283.66 L289,283.66 L288.5,283.65 L288,283.65 L287.5,283.65 L287,283.64 L286.5,283.64 L286,283.64 L285.5,283.64 L285,283.63 L284.5,283.63 L284,283.63 L283.5,283.63 L283,283.63 L282.5,283.63 L282,283.62 L281.5,283.62 L281,283.62 L280.5,283.62 L280,283.62 L279.5,283.62 L279,283.62 L278.5,283.62 L278,283.61 L277.5,283.61 L277,283.61 L276.5,283.61 L276,283.61 L275.5,283.61 L275,283.61 L274.5,283.61 L274,283.61 L273.5,283.61 L273,283.61 L272.5,283.61 L272,283.61 L271.5,283.61 L271,283.61 L270.5,283.61 L270,283.61 L269.5,283.61 L269,283.6 L268.5,283.6 L268,283.6 L267.5,283.6 L267,283.6 L266.5,283.6 L266,283.6 L265.5,283.6 L265,283.6 L264.5,283.6 L264,283.6 L263.5,283.6 L263,283.6 L262.5,283.6 Z" fill="#5cc4b0"/>
<path d="M297,283.73 L297.5,283.73 L298,283.73 L298.5,283.73 L299,283.72 L299.5,283.72 L300,283.71 L300.5,283.69 L301,283.67 L301.5,283.64 L302,283.61 L302.5,283.56 L303,283.5 L303.5,283.43 L304,283.34 L304.5,283.26 L305,283.31 L305.5,283.36 L306,283.41 L306.5,283.46 L307,283.51 L307.5,283.57 L308,283.62 L308.5,283.67 L309,283.72 L309.5,283.77 L310,283.82 L310.5,283.87 L311,283.93 L311.5,283.98 L312,284.03 L312.5,284.08 L313,284.13 L313.5,284.19 L314,284.24 L314.5,284.29 L315,284.35 L315.5,284.4 L316,284.45 L316.5,284.5 L317,284.56 L317.5,284.61 L318,284.66 L318.5,284.72 L319,284.77 L319.5,284.82 L320,284.87 L320.5,284.93 L321,284.98 L321.5,285.03 L322,285.08 L322.5,285.13 L323,285.17 L323.5,285.22 L324,285.27 L324.5,285.31 L325,285.36 L325.5,285.4 L326,285.44 L326.5,285.49 L327,285.53 L327.5,285.57 L328,285.6 L328.5,285.64 L329,285.68 L329.5,285.71 L330,285.74 L330.5,285.78 L331,285.81 L331,285.83 L330.5,285.81 L330,285.78 L329.5,285.75 L329,285.71 L328.5,285.68 L328,285.65 L327.5,285.61 L327,285.58 L326.5,285.54 L326,285.5 L325.5,285.46 L325,285.42 L324.5,285.38 L324,285.34 L323.5,285.3 L323,285.26 L322.5,285.22 L322,285.17 L321.5,285.13 L321,285.09 L320.5,285.04 L320,285 L319.5,284.96 L319,284.91 L318.5,284.87 L318,284.83 L317.5,284.78 L317,284.74 L316.5,284.7 L316,284.66 L315.5,284.62 L315,284.58 L314.5,284.54 L314,284.5 L313.5,284.46 L313,284.42 L312.5,284.39 L312,284.35 L311.5,284.32 L311,284.29 L310.5,284.25 L310,284.22 L309.5,284.19 L309,284.17 L308.5,284.14 L308,284.11 L307.5,284.09 L307,284.06 L306.5,284.04 L306,284.01 L305.5,283.99 L305,283.97 L304.5,283.95 L304,283.93 L303.5,283.92 L303,283.9 L302.5,283.88 L302,283.87 L301.5,283.85 L301,283.84 L300.5,283.83 L300,283.81 L299.5,283.8 L299,283.79 L298.5,283.78 L298,283.77 L297.5,283.76 L297,283.75 Z" fill="#7a9c9c"/>
<path d="M211.5,283.6 L212,283.6 L212.5,283.6 L213,283.6 L213.5,283.6 L214,283.6 L214.5,283.6 L215,283.6 L215.5,283.6 L216,283.6 L216.5,283.6 L217,283.6 L217.5,283.6 L218,283.6 L218.5,283.6 L219,283.6 L219.5,283.6 L220,283.6 L220.5,283.6 L221,283.6 L221.5,283.6 L222,283.6 L222.5,283.6 L223,283.6 L223.5,283.6 L224,283.6 L224.5,283.6 L225,283.6 L225.5,283.6 L226,283.6 L226.5,283.6 L227,283.6 L227.5,283.6 L228,283.6 L228.5,283.6 L229,283.6 L229.5,283.6 L230,283.6 L230.5,283.6 L231,283.6 L231.5,283.6 L232,283.6 L232.5,283.6 L233,283.6 L233.5,283.6 L234,283.6 L234.5,283.6 L235,283.6 L235.5,283.6 L236,283.6 L236.5,283.6 L237,283.6 L237.5,283.6 L238,283.6 L238.5,283.6 L239,283.6 L239.5,283.6 L240,283.6 L240.5,283.6 L241,283.6 L241.5,283.6 L242,283.6 L242.5,283.6 L243,283.6 L243.5,283.6 L244,283.6 L244.5,283.6 L245,283.6 L245.5,283.6 L246,283.6 L246.5,283.6 L247,283.6 L247.5,283.6 L248,283.6 L248.5,283.6 L249,283.6 L249.5,283.6 L250,283.6 L250.5,283.6 L251,283.6 L251.5,283.6 L252,283.6 L252.5,283.6 L253,283.6 L253.5,283.6 L254,283.6 L254.5,283.6 L255,283.6 L255.5,283.6 L256,283.6 L256.5,283.6 L257,283.6 L257.5,283.6 L258,283.6 L258.5,283.6 L259,283.6 L259.5,283.6 L260,283.6 L260.5,283.6 L261,283.6 L261.5,283.6 L262,283.6 L262.5,283.6 L263,283.6 L263.5,283.6 L264,283.6 L264.5,283.6 L265,283.6 L265.5,283.6 L266,283.6 L266.5,283.6 L267,283.6 L267.5,283.6 L268,283.6 L268.5,283.6 L269,283.6 L269.5,283.61 L270,283.61 L270.5,283.61 L271,283.61 L271.5,283.61 L272,283.61 L272.5,283.61 L273,283.61 L273.5,283.61 L274,283.61 L274.5,283.61 L275,283.61 L275.5,283.61 L276,283.61 L276.5,283.61 L277,283.61 L277.5,283.61 L278,283.61 L278.5,283.62 L279,283.62 L279.5,283.62 L280,283.62 L280.5,283.62 L281,283.62 L281.5,283.62 L282,283.62 L282.5,283.63 L283,283.63 L283.5,283.63 L284,283.63 L284.5,283.63 L285,283.63 L285.5,283.64 L286,283.64 L286.5,283.64 L287,283.64 L287.5,283.65 L288,283.65 L288.5,283.65 L289,283.66 L289.5,283.66 L290,283.66 L290.5,283.67 L291,283.67 L291.5,283.68 L292,283.68 L292.5,283.69 L293,283.69 L293.5,283.7 L294,283.7 L294.5,283.71 L295,283.72 L295.5,283.73 L296,283.73 L296.5,283.74 L297,283.75 L297.5,283.76 L298,283.77 L298.5,283.78 L299,283.79 L299.5,283.8 L300,283.81 L300.5,283.83 L301,283.84 L301.5,283.85 L302,283.87 L302.5,283.88 L303,283.9 L303.5,283.92 L304,283.93 L304.5,283.95 L305,283.97 L305.5,283.99 L306,284.01 L306.5,284.04 L307,284.06 L307.5,284.09 L308,284.11 L308.5,284.14 L309,284.17 L309.5,284.19 L310,284.22 L310.5,284.25 L311,284.29 L311.5,284.32 L312,284.35 L312.5,284.39 L313,284.42 L313.5,284.46 L314,284.5 L314.5,284.54 L315,284.58 L315.5,284.62 L316,284.66 L316.5,284.7 L317,284.74 L317.5,284.78 L318,284.83 L318.5,284.87 L319,284.91 L319.5,284.96 L320,285 L320.5,285.04 L321,285.09 L321.5,285.13 L322,285.17 L322.5,285.22 L323,285.26 L323.5,285.3 L324,285.34 L324.5,285.38 L325,285.42 L325.5,285.46 L326,285.5 L326.5,285.54 L327,285.58 L327.5,285.61 L328,285.65 L328.5,285.68 L329,285.71 L329.5,285.75 L330,285.78 L330.5,285.81 L331,285.83 L331.5,285.86 L332,285.89 L332.5,285.91 L333,285.94 L333.5,285.96 L334,285.99 L334.5,286.01 L335,286.03 L335.5,286.05 L336,286.07 L336.5,286.08 L337,286.1 L337.5,286.12 L338,286.13 L338.5,286.15 L339,286.16 L339.5,286.17 L340,286.19 L340.5,286.2 L341,286.21 L341.5,286.22 L342,286.23 L342.5,286.24 L343,286.25 L343.5,286.26 L344,286.27 L344.5,286.27 L345,286.28 L345.5,286.29 L346,286.3 L346.5,286.3 L347,286.31 L347.5,286.31 L348,286.32 L348.5,286.32 L349,286.33 L349.5,286.33 L350,286.34 L350.5,286.34 L351,286.34 L351.5,286.35 L352,286.35 L352.5,286.35 L353,286.36 L353.5,286.36 L354,286.36 L354.5,286.36 L355,286.37 L355.5,286.37 L356,286.37 L356.5,286.37 L357,286.37 L357.5,286.37 L358,286.38 L358.5,286.38 L359,286.38 L359.5,286.38 L360,286.38 L360.5,286.38 L361,286.38 L361.5,286.38 L362,286.39 L362.5,286.39 L363,286.39 L363.5,286.39 L364,286.39 L364.5,286.39 L365,286.39" fill="none" stroke="#000" stroke-width="1.7"/>
<path d="M211.5,283.6 L213.39,283.32 L216.06,282.93 L219.18,282.47 L222.44,281.98 L225.5,281.5 L228.38,281.03 L231.3,280.53 L234.24,280.03 L237.18,279.51 L240.1,279 L243,278.48 L245.9,277.96 L248.8,277.43 L251.7,276.91 L254.6,276.4 L257.56,275.91 L260.58,275.44 L263.57,274.96 L266.47,274.49 L269.2,274 L271.81,273.48 L274.34,272.93 L276.73,272.38 L278.91,271.86 L280.8,271.4 L282.29,271.02 L283.43,270.71 L284.4,270.42 L285.36,270.13 L286.5,269.8 L287.82,269.43 L289.2,269.04 L290.63,268.64 L292.13,268.23 L293.7,267.8 L295.41,267.36 L297.25,266.9 L299.12,266.43 L300.91,265.96 L302.5,265.5 L303.85,265.09 L305.04,264.74 L306.12,264.36 L307.19,263.88 L308.3,263.2 L309.46,262.31 L310.62,261.27 L311.78,260.09 L312.94,258.83 L314.1,257.5 L315.3,255.97 L316.54,254.22 L317.75,252.45 L318.89,250.88 L319.9,249.7 L320.73,248.96 L321.42,248.51 L322.03,248.3 L322.64,248.28 L323.3,248.4 L324.01,248.56 L324.72,248.81 L325.45,249.27 L326.2,250.08 L327,251.4 L327.85,253.37 L328.75,255.91 L329.67,258.78 L330.59,261.72 L331.5,264.5 L332.36,267.22 L333.2,270.05 L334.04,272.82 L334.93,275.39 L335.9,277.6 L336.9,279.43 L337.9,280.98 L338.99,282.29 L340.23,283.38 L341.7,284.3 L343.43,284.98 L345.36,285.41 L347.46,285.66 L349.69,285.83 L352,286 L354.65,286.15 L357.67,286.24 L360.67,286.27 L363.27,286.28 L365.1,286.3" fill="none" stroke="#555" stroke-width="1.8" stroke-linejoin="round"/>
</g>
<rect x="211.5" y="170" width="153.6" height="123.4" fill="none" stroke="#000" stroke-width="1.35"/>
<line x1="211.5" y1="231.3" x2="365.1" y2="231.3" stroke="#000" stroke-width="1.35" />
<line x1="230.2" y1="230.8" x2="230.2" y2="228.2" stroke="#000" stroke-width="1.1" />
<line x1="268.7" y1="230.8" x2="268.7" y2="228.2" stroke="#000" stroke-width="1.1" />
<line x1="307.2" y1="230.8" x2="307.2" y2="228.2" stroke="#000" stroke-width="1.1" />
<line x1="345.7" y1="230.8" x2="345.7" y2="228.2" stroke="#000" stroke-width="1.1" />
<line x1="210.95" y1="230.8" x2="210.95" y2="229" stroke="#000" stroke-width="1.1" />
<line x1="249.45" y1="230.8" x2="249.45" y2="229" stroke="#000" stroke-width="1.1" />
<line x1="287.95" y1="230.8" x2="287.95" y2="229" stroke="#000" stroke-width="1.1" />
<line x1="326.45" y1="230.8" x2="326.45" y2="229" stroke="#000" stroke-width="1.1" />
<line x1="364.95" y1="230.8" x2="364.95" y2="229" stroke="#000" stroke-width="1.1" />
<line x1="230.2" y1="292.9" x2="230.2" y2="290.3" stroke="#000" stroke-width="1.1" />
<line x1="268.7" y1="292.9" x2="268.7" y2="290.3" stroke="#000" stroke-width="1.1" />
<line x1="307.2" y1="292.9" x2="307.2" y2="290.3" stroke="#000" stroke-width="1.1" />
<line x1="345.7" y1="292.9" x2="345.7" y2="290.3" stroke="#000" stroke-width="1.1" />
<line x1="210.95" y1="292.9" x2="210.95" y2="291.1" stroke="#000" stroke-width="1.1" />
<line x1="249.45" y1="292.9" x2="249.45" y2="291.1" stroke="#000" stroke-width="1.1" />
<line x1="287.95" y1="292.9" x2="287.95" y2="291.1" stroke="#000" stroke-width="1.1" />
<line x1="326.45" y1="292.9" x2="326.45" y2="291.1" stroke="#000" stroke-width="1.1" />
<line x1="364.95" y1="292.9" x2="364.95" y2="291.1" stroke="#000" stroke-width="1.1" />
<rect x="215.9" y="173" width="18.4" height="8.7" fill="#f87474"/>
<rect x="215.9" y="183.4" width="18.4" height="8.4" fill="#66d8dc"/>
<rect x="215.9" y="193.4" width="18.4" height="8.4" fill="#8ccba4"/>
<text x="236.4" y="180.6" font-size="8.6" font-weight="bold" fill="#000" text-anchor="start" >O1</text>
<text x="236.4" y="190.8" font-size="8.6" font-weight="bold" fill="#000" text-anchor="start" >O2</text>
<text x="236.4" y="200.8" font-size="8.6" font-weight="bold" fill="#000" text-anchor="start" >O3</text>
<text x="341.5" y="180.7" font-size="8.3" font-weight="bold" fill="#000" text-anchor="start" >O 1s</text>
<text x="319.4" y="241.9" font-size="7.8" font-weight="bold" fill="#000" text-anchor="start" >RuO<tspan font-size="5.4" dy="1.6">2</tspan><tspan dy="-1.6">-PTFE</tspan></text>
<text x="230.2" y="304.8" font-size="10.2" font-weight="bold" fill="#000" text-anchor="middle" >534</text>
<text x="268.7" y="304.8" font-size="10.2" font-weight="bold" fill="#000" text-anchor="middle" >532</text>
<text x="307.2" y="304.8" font-size="10.2" font-weight="bold" fill="#000" text-anchor="middle" >530</text>
<text x="345.7" y="304.8" font-size="10.2" font-weight="bold" fill="#000" text-anchor="middle" >528</text>
<text x="288.8" y="315.2" font-size="10.5" font-weight="bold" fill="#000" text-anchor="middle" >Binding energy (eV)</text>
<text x="195.6" y="176" font-size="16.5" font-weight="bold" fill="#000" text-anchor="start" >e</text>
<text x="0" y="0" font-size="10.5" font-weight="bold" text-anchor="middle" transform="translate(205.4,241) rotate(-90)">Intensity (a.u.)</text>
<path d="M384.9,227.7 L385.4,227.7 L385.9,227.7 L386.4,227.7 L386.9,227.7 L387.4,227.7 L387.9,227.7 L388.4,227.7 L388.9,227.7 L389.4,227.7 L389.9,227.7 L390.4,227.7 L390.9,227.7 L391.4,227.7 L391.9,227.7 L392.4,227.7 L392.9,227.7 L393.4,227.7 L393.9,227.7 L394.4,227.7 L394.9,227.69 L395.4,227.69 L395.9,227.69 L396.4,227.69 L396.9,227.69 L397.4,227.69 L397.9,227.68 L398.4,227.68 L398.9,227.68 L399.4,227.67 L399.9,227.67 L400.4,227.66 L400.9,227.66 L401.4,227.65 L401.9,227.64 L402.4,227.63 L402.9,227.62 L403.4,227.61 L403.9,227.59 L404.4,227.57 L404.9,227.56 L405.4,227.53 L405.9,227.51 L406.4,227.48 L406.9,227.45 L407.4,227.41 L407.9,227.37 L408.4,227.32 L408.9,227.27 L409.4,227.21 L409.9,227.15 L410.4,227.08 L410.9,227 L411.4,226.9 L411.9,226.8 L412.4,226.69 L412.9,226.57 L413.4,226.43 L413.9,226.28 L414.4,226.12 L414.9,225.94 L415.4,225.74 L415.9,225.53 L416.4,225.29 L416.9,225.03 L417.4,224.75 L417.9,224.45 L418.4,224.13 L418.9,223.77 L419.4,223.39 L419.9,222.99 L420.4,222.55 L420.9,222.08 L421.4,221.58 L421.9,221.05 L422.4,220.48 L422.9,219.88 L423.4,219.24 L423.9,218.57 L424.4,217.86 L424.9,217.12 L425.4,216.34 L425.9,215.52 L426.4,214.67 L426.9,213.78 L427.4,212.86 L427.9,211.91 L428.4,210.92 L428.9,209.9 L429.4,208.86 L429.9,207.79 L430.4,206.69 L430.9,205.58 L431.4,204.45 L431.9,203.3 L432.4,202.14 L432.9,200.97 L433.4,199.8 L433.9,198.63 L434.4,197.46 L434.9,196.3 L435.4,195.16 L435.9,194.03 L436.4,192.92 L436.9,191.84 L437.4,190.8 L437.9,189.79 L438.4,188.82 L438.9,187.89 L439.4,187.02 L439.9,186.2 L440.4,185.44 L440.9,184.74 L441.4,184.11 L441.9,183.54 L442.4,183.05 L442.9,182.63 L443.4,182.28 L443.9,182.02 L444.4,181.83 L444.9,181.73 L445.4,181.7 L445.9,181.76 L446.4,181.9 L446.9,182.11 L447.4,182.41 L447.9,182.78 L448.4,183.23 L448.9,183.76 L449.4,184.35 L449.9,185.01 L450.4,185.74 L450.9,186.52 L451.4,187.36 L451.9,188.26 L452.4,189.2 L452.9,190.19 L453.4,191.21 L453.9,192.27 L454.4,193.36 L454.9,194.48 L455.4,195.61 L455.9,196.76 L456.4,197.93 L456.9,199.1 L457.4,200.27 L457.9,201.44 L458.4,202.6 L458.9,203.76 L459.4,204.9 L459.9,206.03 L460.4,207.14 L460.9,208.22 L461.4,209.28 L461.9,210.31 L462.4,211.32 L462.9,212.29 L463.4,213.23 L463.9,214.14 L464.4,215.01 L464.9,215.85 L465.4,216.65 L465.9,217.42 L466.4,218.15 L466.9,218.84 L467.4,219.5 L467.9,220.12 L468.4,220.71 L468.9,221.26 L469.4,221.78 L469.9,222.27 L470.4,222.73 L470.9,223.15 L471.4,223.55 L471.9,223.92 L472.4,224.26 L472.9,224.58 L473.4,224.87 L473.9,225.14 L474.4,225.39 L474.9,225.61 L475.4,225.82 L475.9,226.01 L476.4,226.19 L476.9,226.35 L477.4,226.49 L477.9,226.62 L478.4,226.74 L478.9,226.85 L479.4,226.94 L479.9,227.03 L480.4,227.11 L480.9,227.18 L481.4,227.24 L481.9,227.29 L482.4,227.34 L482.9,227.39 L483.4,227.43 L483.9,227.46 L484.4,227.49 L484.9,227.52 L485.4,227.54 L485.9,227.56 L486.4,227.58 L486.9,227.6 L487.4,227.61 L487.9,227.62 L488.4,227.63 L488.9,227.64 L489.4,227.65 L489.9,227.66 L490.4,227.67 L490.9,227.67 L491.4,227.67 L491.9,227.68 L492.4,227.68 L492.9,227.68 L493.4,227.69 L493.9,227.69 L494.4,227.69 L494.9,227.69 L495.4,227.69 L495.9,227.69 L496.4,227.7 L496.9,227.7 L497.4,227.7 L497.9,227.7 L498.4,227.7 L498.9,227.7 L499.4,227.7 L499.9,227.7 L500.4,227.7 L500.9,227.7 L501.4,227.7 L501.9,227.7 L502.4,227.7 L502.9,227.7 L503.4,227.7 L503.9,227.7 L504.4,227.7 L504.9,227.7 L505.4,227.7 L505.9,227.7 L506.4,227.7 L506.9,227.7 L507.4,227.7 L507.9,227.7 L508.4,227.7 L508.9,227.7 L509.4,227.7 L509.9,227.7 L510.4,227.7 L510.9,227.7 L511.4,227.7 L511.9,227.7 L512.4,227.7 L512.9,227.7 L513.4,227.7 L513.9,227.7 L514.4,227.7 L514.9,227.7 L515.4,227.7 L515.9,227.7 L516.4,227.7 L516.9,227.7 L517.4,227.7 L517.9,227.7 L518.4,227.7 L518.9,227.7 L519.4,227.7 L519.9,227.7 L520.4,227.7 L520.9,227.7 L521.4,227.7 L521.9,227.7 L522.4,227.7 L522.9,227.7 L523.4,227.7 L523.9,227.7 L524.4,227.7 L524.9,227.7 L525.4,227.7 L525.9,227.7 L526.4,227.7 L526.9,227.7 L527.4,227.7 L527.9,227.7 L528.4,227.7 L528.9,227.7 L529.4,227.7 L529.9,227.7 L530.4,227.7 L530.9,227.7 L531.4,227.7 L531.9,227.7 L532.4,227.7 L532.9,227.7 L533.4,227.7 L533.9,227.7 L534.4,227.7 L534.9,227.7 L535.4,227.7 L535.9,227.7 L536.4,227.7 L536.9,227.7 L537.4,227.7 L537.9,227.7 L538.4,227.7 L538.4,227.7 L537.9,227.7 L537.4,227.7 L536.9,227.7 L536.4,227.7 L535.9,227.7 L535.4,227.7 L534.9,227.7 L534.4,227.7 L533.9,227.7 L533.4,227.7 L532.9,227.7 L532.4,227.7 L531.9,227.7 L531.4,227.7 L530.9,227.7 L530.4,227.7 L529.9,227.7 L529.4,227.7 L528.9,227.7 L528.4,227.7 L527.9,227.7 L527.4,227.7 L526.9,227.7 L526.4,227.7 L525.9,227.7 L525.4,227.7 L524.9,227.7 L524.4,227.7 L523.9,227.7 L523.4,227.7 L522.9,227.7 L522.4,227.7 L521.9,227.7 L521.4,227.7 L520.9,227.7 L520.4,227.7 L519.9,227.7 L519.4,227.7 L518.9,227.7 L518.4,227.7 L517.9,227.7 L517.4,227.7 L516.9,227.7 L516.4,227.7 L515.9,227.7 L515.4,227.7 L514.9,227.7 L514.4,227.7 L513.9,227.7 L513.4,227.7 L512.9,227.7 L512.4,227.7 L511.9,227.7 L511.4,227.7 L510.9,227.7 L510.4,227.7 L509.9,227.7 L509.4,227.7 L508.9,227.7 L508.4,227.7 L507.9,227.7 L507.4,227.7 L506.9,227.7 L506.4,227.7 L505.9,227.7 L505.4,227.7 L504.9,227.7 L504.4,227.7 L503.9,227.7 L503.4,227.7 L502.9,227.7 L502.4,227.7 L501.9,227.7 L501.4,227.7 L500.9,227.7 L500.4,227.7 L499.9,227.7 L499.4,227.7 L498.9,227.7 L498.4,227.7 L497.9,227.7 L497.4,227.7 L496.9,227.7 L496.4,227.7 L495.9,227.7 L495.4,227.7 L494.9,227.7 L494.4,227.7 L493.9,227.7 L493.4,227.7 L492.9,227.7 L492.4,227.7 L491.9,227.7 L491.4,227.7 L490.9,227.7 L490.4,227.7 L489.9,227.7 L489.4,227.7 L488.9,227.7 L488.4,227.7 L487.9,227.7 L487.4,227.7 L486.9,227.7 L486.4,227.7 L485.9,227.7 L485.4,227.7 L484.9,227.7 L484.4,227.7 L483.9,227.7 L483.4,227.7 L482.9,227.7 L482.4,227.7 L481.9,227.7 L481.4,227.7 L480.9,227.7 L480.4,227.7 L479.9,227.7 L479.4,227.7 L478.9,227.7 L478.4,227.7 L477.9,227.7 L477.4,227.7 L476.9,227.7 L476.4,227.7 L475.9,227.7 L475.4,227.7 L474.9,227.7 L474.4,227.7 L473.9,227.7 L473.4,227.7 L472.9,227.7 L472.4,227.7 L471.9,227.7 L471.4,227.7 L470.9,227.7 L470.4,227.7 L469.9,227.7 L469.4,227.7 L468.9,227.7 L468.4,227.7 L467.9,227.7 L467.4,227.7 L466.9,227.7 L466.4,227.7 L465.9,227.7 L465.4,227.7 L464.9,227.7 L464.4,227.7 L463.9,227.7 L463.4,227.7 L462.9,227.7 L462.4,227.7 L461.9,227.7 L461.4,227.7 L460.9,227.7 L460.4,227.7 L459.9,227.7 L459.4,227.7 L458.9,227.7 L458.4,227.7 L457.9,227.7 L457.4,227.7 L456.9,227.7 L456.4,227.7 L455.9,227.7 L455.4,227.7 L454.9,227.7 L454.4,227.7 L453.9,227.7 L453.4,227.7 L452.9,227.7 L452.4,227.7 L451.9,227.7 L451.4,227.7 L450.9,227.7 L450.4,227.7 L449.9,227.7 L449.4,227.7 L448.9,227.7 L448.4,227.7 L447.9,227.7 L447.4,227.7 L446.9,227.7 L446.4,227.7 L445.9,227.7 L445.4,227.7 L444.9,227.7 L444.4,227.7 L443.9,227.7 L443.4,227.7 L442.9,227.7 L442.4,227.7 L441.9,227.7 L441.4,227.7 L440.9,227.7 L440.4,227.7 L439.9,227.7 L439.4,227.7 L438.9,227.7 L438.4,227.7 L437.9,227.7 L437.4,227.7 L436.9,227.7 L436.4,227.7 L435.9,227.7 L435.4,227.7 L434.9,227.7 L434.4,227.7 L433.9,227.7 L433.4,227.7 L432.9,227.7 L432.4,227.7 L431.9,227.7 L431.4,227.7 L430.9,227.7 L430.4,227.7 L429.9,227.7 L429.4,227.7 L428.9,227.7 L428.4,227.7 L427.9,227.7 L427.4,227.7 L426.9,227.7 L426.4,227.7 L425.9,227.7 L425.4,227.7 L424.9,227.7 L424.4,227.7 L423.9,227.7 L423.4,227.7 L422.9,227.7 L422.4,227.7 L421.9,227.7 L421.4,227.7 L420.9,227.7 L420.4,227.7 L419.9,227.7 L419.4,227.7 L418.9,227.7 L418.4,227.7 L417.9,227.7 L417.4,227.7 L416.9,227.7 L416.4,227.7 L415.9,227.7 L415.4,227.7 L414.9,227.7 L414.4,227.7 L413.9,227.7 L413.4,227.7 L412.9,227.7 L412.4,227.7 L411.9,227.7 L411.4,227.7 L410.9,227.7 L410.4,227.7 L409.9,227.7 L409.4,227.7 L408.9,227.7 L408.4,227.7 L407.9,227.7 L407.4,227.7 L406.9,227.7 L406.4,227.7 L405.9,227.7 L405.4,227.7 L404.9,227.7 L404.4,227.7 L403.9,227.7 L403.4,227.7 L402.9,227.7 L402.4,227.7 L401.9,227.7 L401.4,227.7 L400.9,227.7 L400.4,227.7 L399.9,227.7 L399.4,227.7 L398.9,227.7 L398.4,227.7 L397.9,227.7 L397.4,227.7 L396.9,227.7 L396.4,227.7 L395.9,227.7 L395.4,227.7 L394.9,227.7 L394.4,227.7 L393.9,227.7 L393.4,227.7 L392.9,227.7 L392.4,227.7 L391.9,227.7 L391.4,227.7 L390.9,227.7 L390.4,227.7 L389.9,227.7 L389.4,227.7 L388.9,227.7 L388.4,227.7 L387.9,227.7 L387.4,227.7 L386.9,227.7 L386.4,227.7 L385.9,227.7 L385.4,227.7 L384.9,227.7 Z" fill="#6ec495"/>
<path d="M384.9,227.7 L385.4,227.7 L385.9,227.7 L386.4,227.7 L386.9,227.7 L387.4,227.7 L387.9,227.7 L388.4,227.7 L388.9,227.7 L389.4,227.7 L389.9,227.7 L390.4,227.7 L390.9,227.7 L391.4,227.7 L391.9,227.7 L392.4,227.7 L392.9,227.7 L393.4,227.7 L393.9,227.7 L394.4,227.7 L394.9,227.69 L395.4,227.69 L395.9,227.69 L396.4,227.69 L396.9,227.69 L397.4,227.69 L397.9,227.68 L398.4,227.68 L398.9,227.68 L399.4,227.67 L399.9,227.67 L400.4,227.66 L400.9,227.66 L401.4,227.65 L401.9,227.64 L402.4,227.63 L402.9,227.62 L403.4,227.61 L403.9,227.59 L404.4,227.57 L404.9,227.56 L405.4,227.53 L405.9,227.51 L406.4,227.48 L406.9,227.45 L407.4,227.41 L407.9,227.37 L408.4,227.32 L408.9,227.27 L409.4,227.21 L409.9,227.15 L410.4,227.08 L410.9,227 L411.4,226.9 L411.9,226.8 L412.4,226.69 L412.9,226.57 L413.4,226.43 L413.9,226.28 L414.4,226.12 L414.9,225.94 L415.4,225.74 L415.9,225.53 L416.4,225.29 L416.9,225.03 L417.4,224.75 L417.9,224.45 L418.4,224.13 L418.9,223.77 L419.4,223.39 L419.9,222.99 L420.4,222.55 L420.9,222.08 L421.4,221.58 L421.9,221.05 L422.4,220.48 L422.9,219.88 L423.4,219.24 L423.9,218.57 L424.4,217.86 L424.9,217.12 L425.4,216.34 L425.9,215.52 L426.4,214.67 L426.9,213.78 L427.4,212.86 L427.9,211.91 L428.4,210.92 L428.9,209.9 L429.4,208.86 L429.9,207.79 L430.4,206.69 L430.9,205.58 L431.4,204.45 L431.9,203.3 L432.4,202.14 L432.9,200.97 L433.4,199.8 L433.9,198.63 L434.4,197.46 L434.9,196.3 L435.4,195.16 L435.9,194.03 L436.4,192.92 L436.9,191.84 L437.4,190.8 L437.9,189.79 L438.4,188.82 L438.9,187.89 L439.4,187.02 L439.9,186.2 L440.4,185.44 L440.9,184.74 L441.4,184.11 L441.9,183.54 L442.4,183.05 L442.9,182.63 L443.4,182.28 L443.9,182.02 L444.4,181.83 L444.9,181.73 L445.4,181.7 L445.9,181.76 L446.4,181.9 L446.9,182.11 L447.4,182.41 L447.9,182.78 L448.4,183.23 L448.9,183.76 L449.4,184.35 L449.9,185.01 L450.4,185.74 L450.9,186.52 L451.4,187.36 L451.9,188.26 L452.4,189.2 L452.9,190.19 L453.4,191.21 L453.9,192.27 L454.4,193.36 L454.9,194.48 L455.4,195.61 L455.9,196.76 L456.4,197.93 L456.9,199.1 L457.4,200.27 L457.9,201.44 L458.4,202.6 L458.9,203.76 L459.4,204.9 L459.9,206.03 L460.4,207.14 L460.9,208.22 L461.4,209.28 L461.9,210.31 L462.4,211.32 L462.9,212.29 L463.4,213.23 L463.9,214.14 L464.4,215.01 L464.9,215.85 L465.4,216.65 L465.9,217.42 L466.4,218.15 L466.9,218.84 L467.4,219.5 L467.9,220.12 L468.4,220.71 L468.9,221.26 L469.4,221.78 L469.9,222.27 L470.4,222.73 L470.9,223.15 L471.4,223.55 L471.9,223.92 L472.4,224.26 L472.9,224.58 L473.4,224.87 L473.9,225.14 L474.4,225.39 L474.9,225.61 L475.4,225.82 L475.9,226.01 L476.4,226.19 L476.9,226.35 L477.4,226.49 L477.9,226.62 L478.4,226.74 L478.9,226.85 L479.4,226.94 L479.9,227.03 L480.4,227.11 L480.9,227.18 L481.4,227.24 L481.9,227.29 L482.4,227.34 L482.9,227.39 L483.4,227.43 L483.9,227.46 L484.4,227.49 L484.9,227.52 L485.4,227.54 L485.9,227.56 L486.4,227.58 L486.9,227.6 L487.4,227.61 L487.9,227.62 L488.4,227.63 L488.9,227.64 L489.4,227.65 L489.9,227.66 L490.4,227.67 L490.9,227.67 L491.4,227.67 L491.9,227.68 L492.4,227.68 L492.9,227.68 L493.4,227.69 L493.9,227.69 L494.4,227.69 L494.9,227.69 L495.4,227.69 L495.9,227.69 L496.4,227.7 L496.9,227.7 L497.4,227.7 L497.9,227.7 L498.4,227.7 L498.9,227.7 L499.4,227.7 L499.9,227.7 L500.4,227.7 L500.9,227.7 L501.4,227.7 L501.9,227.7 L502.4,227.7 L502.9,227.7 L503.4,227.7 L503.9,227.7 L504.4,227.7 L504.9,227.7 L505.4,227.7 L505.9,227.7 L506.4,227.7 L506.9,227.7 L507.4,227.7 L507.9,227.7 L508.4,227.7 L508.9,227.7 L509.4,227.7 L509.9,227.7 L510.4,227.7 L510.9,227.7 L511.4,227.7 L511.9,227.7 L512.4,227.7 L512.9,227.7 L513.4,227.7 L513.9,227.7 L514.4,227.7 L514.9,227.7 L515.4,227.7 L515.9,227.7 L516.4,227.7 L516.9,227.7 L517.4,227.7 L517.9,227.7 L518.4,227.7 L518.9,227.7 L519.4,227.7 L519.9,227.7 L520.4,227.7 L520.9,227.7 L521.4,227.7 L521.9,227.7 L522.4,227.7 L522.9,227.7 L523.4,227.7 L523.9,227.7 L524.4,227.7 L524.9,227.7 L525.4,227.7 L525.9,227.7 L526.4,227.7 L526.9,227.7 L527.4,227.7 L527.9,227.7 L528.4,227.7 L528.9,227.7 L529.4,227.7 L529.9,227.7 L530.4,227.7 L530.9,227.7 L531.4,227.7 L531.9,227.7 L532.4,227.7 L532.9,227.7 L533.4,227.7 L533.9,227.7 L534.4,227.7 L534.9,227.7 L535.4,227.7 L535.9,227.7 L536.4,227.7 L536.9,227.7 L537.4,227.7 L537.9,227.7 L538.4,227.7" fill="none" stroke="#3f5f4c" stroke-width="1.2"/>
<path d="M384.9,288.2 L385.4,288.2 L385.9,288.2 L386.4,288.2 L386.9,288.2 L387.4,288.2 L387.9,288.2 L388.4,288.2 L388.9,288.2 L389.4,288.2 L389.9,288.2 L390.4,288.2 L390.9,288.2 L391.4,288.2 L391.9,288.2 L392.4,288.2 L392.9,288.2 L393.4,288.2 L393.9,288.2 L394.4,288.2 L394.9,288.2 L395.4,288.2 L395.9,288.2 L396.4,288.2 L396.9,288.2 L397.4,288.2 L397.9,288.2 L398.4,288.2 L398.9,288.2 L399.4,288.2 L399.9,288.2 L400.4,288.2 L400.9,288.2 L401.4,288.2 L401.9,288.2 L402.4,288.19 L402.9,288.19 L403.4,288.19 L403.9,288.19 L404.4,288.19 L404.9,288.19 L405.4,288.18 L405.9,288.18 L406.4,288.18 L406.9,288.17 L407.4,288.17 L407.9,288.16 L408.4,288.16 L408.9,288.15 L409.4,288.14 L409.9,288.13 L410.4,288.12 L410.9,288.11 L411.4,288.09 L411.9,288.08 L412.4,288.06 L412.9,288.04 L413.4,288.01 L413.9,287.98 L414.4,287.95 L414.9,287.92 L415.4,287.88 L415.9,287.83 L416.4,287.78 L416.9,287.72 L417.4,287.66 L417.9,287.59 L418.4,287.51 L418.9,287.42 L419.4,287.32 L419.9,287.22 L420.4,287.09 L420.9,286.96 L421.4,286.82 L421.9,286.65 L422.4,286.48 L422.9,286.28 L423.4,286.07 L423.9,285.84 L424.4,285.59 L424.9,285.32 L425.4,285.02 L425.9,284.7 L426.4,284.36 L426.9,283.99 L427.4,283.59 L427.9,283.16 L428.4,282.7 L428.9,282.21 L429.4,281.69 L429.9,281.14 L430.4,280.55 L430.9,279.92 L431.4,279.27 L431.9,278.58 L432.4,277.85 L432.9,277.08 L433.4,276.28 L433.9,275.45 L434.4,274.58 L434.9,273.68 L435.4,272.75 L435.9,271.78 L436.4,270.79 L436.9,269.77 L437.4,268.72 L437.9,267.65 L438.4,266.56 L438.9,265.45 L439.4,264.33 L439.9,263.19 L440.4,262.05 L440.9,260.91 L441.4,259.76 L441.9,258.62 L442.4,257.48 L442.9,256.36 L443.4,255.26 L443.9,254.18 L444.4,253.12 L444.9,252.1 L445.4,251.11 L445.9,250.16 L446.4,249.26 L446.9,248.4 L447.4,247.6 L447.9,246.86 L448.4,246.17 L448.9,245.55 L449.4,245 L449.9,244.52 L450.4,244.11 L450.9,243.77 L451.4,243.51 L451.9,243.33 L452.4,243.23 L452.9,243.2 L453.4,243.26 L453.9,243.39 L454.4,243.6 L454.9,243.9 L455.4,244.26 L455.9,244.7 L456.4,245.21 L456.9,245.79 L457.4,246.44 L457.9,247.15 L458.4,247.92 L458.9,248.74 L459.4,249.62 L459.9,250.54 L460.4,251.5 L460.9,252.51 L461.4,253.54 L461.9,254.61 L462.4,255.7 L462.9,256.81 L463.4,257.94 L463.9,259.07 L464.4,260.22 L464.9,261.36 L465.4,262.51 L465.9,263.65 L466.4,264.78 L466.9,265.9 L467.4,267 L467.9,268.08 L468.4,269.14 L468.9,270.18 L469.4,271.19 L469.9,272.17 L470.4,273.13 L470.9,274.05 L471.4,274.93 L471.9,275.79 L472.4,276.61 L472.9,277.39 L473.4,278.14 L473.9,278.86 L474.4,279.53 L474.9,280.18 L475.4,280.79 L475.9,281.36 L476.4,281.9 L476.9,282.41 L477.4,282.89 L477.9,283.33 L478.4,283.75 L478.9,284.14 L479.4,284.5 L479.9,284.83 L480.4,285.14 L480.9,285.43 L481.4,285.69 L481.9,285.94 L482.4,286.16 L482.9,286.36 L483.4,286.55 L483.9,286.72 L484.4,286.88 L484.9,287.02 L485.4,287.14 L485.9,287.26 L486.4,287.36 L486.9,287.46 L487.4,287.54 L487.9,287.62 L488.4,287.69 L488.9,287.75 L489.4,287.8 L489.9,287.85 L490.4,287.89 L490.9,287.93 L491.4,287.97 L491.9,288 L492.4,288.02 L492.9,288.05 L493.4,288.07 L493.9,288.08 L494.4,288.1 L494.9,288.11 L495.4,288.13 L495.9,288.14 L496.4,288.15 L496.9,288.15 L497.4,288.16 L497.9,288.17 L498.4,288.17 L498.9,288.18 L499.4,288.18 L499.9,288.18 L500.4,288.18 L500.9,288.19 L501.4,288.19 L501.9,288.19 L502.4,288.19 L502.9,288.19 L503.4,288.19 L503.9,288.2 L504.4,288.2 L504.9,288.2 L505.4,288.2 L505.9,288.2 L506.4,288.2 L506.9,288.2 L507.4,288.2 L507.9,288.2 L508.4,288.2 L508.9,288.2 L509.4,288.2 L509.9,288.2 L510.4,288.2 L510.9,288.2 L511.4,288.2 L511.9,288.2 L512.4,288.2 L512.9,288.2 L513.4,288.2 L513.9,288.2 L514.4,288.2 L514.9,288.2 L515.4,288.2 L515.9,288.2 L516.4,288.2 L516.9,288.2 L517.4,288.2 L517.9,288.2 L518.4,288.2 L518.9,288.2 L519.4,288.2 L519.9,288.2 L520.4,288.2 L520.9,288.2 L521.4,288.2 L521.9,288.2 L522.4,288.2 L522.9,288.2 L523.4,288.2 L523.9,288.2 L524.4,288.2 L524.9,288.2 L525.4,288.2 L525.9,288.2 L526.4,288.2 L526.9,288.2 L527.4,288.2 L527.9,288.2 L528.4,288.2 L528.9,288.2 L529.4,288.2 L529.9,288.2 L530.4,288.2 L530.9,288.2 L531.4,288.2 L531.9,288.2 L532.4,288.2 L532.9,288.2 L533.4,288.2 L533.9,288.2 L534.4,288.2 L534.9,288.2 L535.4,288.2 L535.9,288.2 L536.4,288.2 L536.9,288.2 L537.4,288.2 L537.9,288.2 L538.4,288.2 L538.4,288.2 L537.9,288.2 L537.4,288.2 L536.9,288.2 L536.4,288.2 L535.9,288.2 L535.4,288.2 L534.9,288.2 L534.4,288.2 L533.9,288.2 L533.4,288.2 L532.9,288.2 L532.4,288.2 L531.9,288.2 L531.4,288.2 L530.9,288.2 L530.4,288.2 L529.9,288.2 L529.4,288.2 L528.9,288.2 L528.4,288.2 L527.9,288.2 L527.4,288.2 L526.9,288.2 L526.4,288.2 L525.9,288.2 L525.4,288.2 L524.9,288.2 L524.4,288.2 L523.9,288.2 L523.4,288.2 L522.9,288.2 L522.4,288.2 L521.9,288.2 L521.4,288.2 L520.9,288.2 L520.4,288.2 L519.9,288.2 L519.4,288.2 L518.9,288.2 L518.4,288.2 L517.9,288.2 L517.4,288.2 L516.9,288.2 L516.4,288.2 L515.9,288.2 L515.4,288.2 L514.9,288.2 L514.4,288.2 L513.9,288.2 L513.4,288.2 L512.9,288.2 L512.4,288.2 L511.9,288.2 L511.4,288.2 L510.9,288.2 L510.4,288.2 L509.9,288.2 L509.4,288.2 L508.9,288.2 L508.4,288.2 L507.9,288.2 L507.4,288.2 L506.9,288.2 L506.4,288.2 L505.9,288.2 L505.4,288.2 L504.9,288.2 L504.4,288.2 L503.9,288.2 L503.4,288.2 L502.9,288.2 L502.4,288.2 L501.9,288.2 L501.4,288.2 L500.9,288.2 L500.4,288.2 L499.9,288.2 L499.4,288.2 L498.9,288.2 L498.4,288.2 L497.9,288.2 L497.4,288.2 L496.9,288.2 L496.4,288.2 L495.9,288.2 L495.4,288.2 L494.9,288.2 L494.4,288.2 L493.9,288.2 L493.4,288.2 L492.9,288.2 L492.4,288.2 L491.9,288.2 L491.4,288.2 L490.9,288.2 L490.4,288.2 L489.9,288.2 L489.4,288.2 L488.9,288.2 L488.4,288.2 L487.9,288.2 L487.4,288.2 L486.9,288.2 L486.4,288.2 L485.9,288.2 L485.4,288.2 L484.9,288.2 L484.4,288.2 L483.9,288.2 L483.4,288.2 L482.9,288.2 L482.4,288.2 L481.9,288.2 L481.4,288.2 L480.9,288.2 L480.4,288.2 L479.9,288.2 L479.4,288.2 L478.9,288.2 L478.4,288.2 L477.9,288.2 L477.4,288.2 L476.9,288.2 L476.4,288.2 L475.9,288.2 L475.4,288.2 L474.9,288.2 L474.4,288.2 L473.9,288.2 L473.4,288.2 L472.9,288.2 L472.4,288.2 L471.9,288.2 L471.4,288.2 L470.9,288.2 L470.4,288.2 L469.9,288.2 L469.4,288.2 L468.9,288.2 L468.4,288.2 L467.9,288.2 L467.4,288.2 L466.9,288.2 L466.4,288.2 L465.9,288.2 L465.4,288.2 L464.9,288.2 L464.4,288.2 L463.9,288.2 L463.4,288.2 L462.9,288.2 L462.4,288.2 L461.9,288.2 L461.4,288.2 L460.9,288.2 L460.4,288.2 L459.9,288.2 L459.4,288.2 L458.9,288.2 L458.4,288.2 L457.9,288.2 L457.4,288.2 L456.9,288.2 L456.4,288.2 L455.9,288.2 L455.4,288.2 L454.9,288.2 L454.4,288.2 L453.9,288.2 L453.4,288.2 L452.9,288.2 L452.4,288.2 L451.9,288.2 L451.4,288.2 L450.9,288.2 L450.4,288.2 L449.9,288.2 L449.4,288.2 L448.9,288.2 L448.4,288.2 L447.9,288.2 L447.4,288.2 L446.9,288.2 L446.4,288.2 L445.9,288.2 L445.4,288.2 L444.9,288.2 L444.4,288.2 L443.9,288.2 L443.4,288.2 L442.9,288.2 L442.4,288.2 L441.9,288.2 L441.4,288.2 L440.9,288.2 L440.4,288.2 L439.9,288.2 L439.4,288.2 L438.9,288.2 L438.4,288.2 L437.9,288.2 L437.4,288.2 L436.9,288.2 L436.4,288.2 L435.9,288.2 L435.4,288.2 L434.9,288.2 L434.4,288.2 L433.9,288.2 L433.4,288.2 L432.9,288.2 L432.4,288.2 L431.9,288.2 L431.4,288.2 L430.9,288.2 L430.4,288.2 L429.9,288.2 L429.4,288.2 L428.9,288.2 L428.4,288.2 L427.9,288.2 L427.4,288.2 L426.9,288.2 L426.4,288.2 L425.9,288.2 L425.4,288.2 L424.9,288.2 L424.4,288.2 L423.9,288.2 L423.4,288.2 L422.9,288.2 L422.4,288.2 L421.9,288.2 L421.4,288.2 L420.9,288.2 L420.4,288.2 L419.9,288.2 L419.4,288.2 L418.9,288.2 L418.4,288.2 L417.9,288.2 L417.4,288.2 L416.9,288.2 L416.4,288.2 L415.9,288.2 L415.4,288.2 L414.9,288.2 L414.4,288.2 L413.9,288.2 L413.4,288.2 L412.9,288.2 L412.4,288.2 L411.9,288.2 L411.4,288.2 L410.9,288.2 L410.4,288.2 L409.9,288.2 L409.4,288.2 L408.9,288.2 L408.4,288.2 L407.9,288.2 L407.4,288.2 L406.9,288.2 L406.4,288.2 L405.9,288.2 L405.4,288.2 L404.9,288.2 L404.4,288.2 L403.9,288.2 L403.4,288.2 L402.9,288.2 L402.4,288.2 L401.9,288.2 L401.4,288.2 L400.9,288.2 L400.4,288.2 L399.9,288.2 L399.4,288.2 L398.9,288.2 L398.4,288.2 L397.9,288.2 L397.4,288.2 L396.9,288.2 L396.4,288.2 L395.9,288.2 L395.4,288.2 L394.9,288.2 L394.4,288.2 L393.9,288.2 L393.4,288.2 L392.9,288.2 L392.4,288.2 L391.9,288.2 L391.4,288.2 L390.9,288.2 L390.4,288.2 L389.9,288.2 L389.4,288.2 L388.9,288.2 L388.4,288.2 L387.9,288.2 L387.4,288.2 L386.9,288.2 L386.4,288.2 L385.9,288.2 L385.4,288.2 L384.9,288.2 Z" fill="#6ec495"/>
<path d="M384.9,288.2 L385.4,288.2 L385.9,288.2 L386.4,288.2 L386.9,288.2 L387.4,288.2 L387.9,288.2 L388.4,288.2 L388.9,288.2 L389.4,288.2 L389.9,288.2 L390.4,288.2 L390.9,288.2 L391.4,288.2 L391.9,288.2 L392.4,288.2 L392.9,288.2 L393.4,288.2 L393.9,288.2 L394.4,288.2 L394.9,288.2 L395.4,288.2 L395.9,288.2 L396.4,288.2 L396.9,288.2 L397.4,288.2 L397.9,288.2 L398.4,288.2 L398.9,288.2 L399.4,288.2 L399.9,288.2 L400.4,288.2 L400.9,288.2 L401.4,288.2 L401.9,288.2 L402.4,288.19 L402.9,288.19 L403.4,288.19 L403.9,288.19 L404.4,288.19 L404.9,288.19 L405.4,288.18 L405.9,288.18 L406.4,288.18 L406.9,288.17 L407.4,288.17 L407.9,288.16 L408.4,288.16 L408.9,288.15 L409.4,288.14 L409.9,288.13 L410.4,288.12 L410.9,288.11 L411.4,288.09 L411.9,288.08 L412.4,288.06 L412.9,288.04 L413.4,288.01 L413.9,287.98 L414.4,287.95 L414.9,287.92 L415.4,287.88 L415.9,287.83 L416.4,287.78 L416.9,287.72 L417.4,287.66 L417.9,287.59 L418.4,287.51 L418.9,287.42 L419.4,287.32 L419.9,287.22 L420.4,287.09 L420.9,286.96 L421.4,286.82 L421.9,286.65 L422.4,286.48 L422.9,286.28 L423.4,286.07 L423.9,285.84 L424.4,285.59 L424.9,285.32 L425.4,285.02 L425.9,284.7 L426.4,284.36 L426.9,283.99 L427.4,283.59 L427.9,283.16 L428.4,282.7 L428.9,282.21 L429.4,281.69 L429.9,281.14 L430.4,280.55 L430.9,279.92 L431.4,279.27 L431.9,278.58 L432.4,277.85 L432.9,277.08 L433.4,276.28 L433.9,275.45 L434.4,274.58 L434.9,273.68 L435.4,272.75 L435.9,271.78 L436.4,270.79 L436.9,269.77 L437.4,268.72 L437.9,267.65 L438.4,266.56 L438.9,265.45 L439.4,264.33 L439.9,263.19 L440.4,262.05 L440.9,260.91 L441.4,259.76 L441.9,258.62 L442.4,257.48 L442.9,256.36 L443.4,255.26 L443.9,254.18 L444.4,253.12 L444.9,252.1 L445.4,251.11 L445.9,250.16 L446.4,249.26 L446.9,248.4 L447.4,247.6 L447.9,246.86 L448.4,246.17 L448.9,245.55 L449.4,245 L449.9,244.52 L450.4,244.11 L450.9,243.77 L451.4,243.51 L451.9,243.33 L452.4,243.23 L452.9,243.2 L453.4,243.26 L453.9,243.39 L454.4,243.6 L454.9,243.9 L455.4,244.26 L455.9,244.7 L456.4,245.21 L456.9,245.79 L457.4,246.44 L457.9,247.15 L458.4,247.92 L458.9,248.74 L459.4,249.62 L459.9,250.54 L460.4,251.5 L460.9,252.51 L461.4,253.54 L461.9,254.61 L462.4,255.7 L462.9,256.81 L463.4,257.94 L463.9,259.07 L464.4,260.22 L464.9,261.36 L465.4,262.51 L465.9,263.65 L466.4,264.78 L466.9,265.9 L467.4,267 L467.9,268.08 L468.4,269.14 L468.9,270.18 L469.4,271.19 L469.9,272.17 L470.4,273.13 L470.9,274.05 L471.4,274.93 L471.9,275.79 L472.4,276.61 L472.9,277.39 L473.4,278.14 L473.9,278.86 L474.4,279.53 L474.9,280.18 L475.4,280.79 L475.9,281.36 L476.4,281.9 L476.9,282.41 L477.4,282.89 L477.9,283.33 L478.4,283.75 L478.9,284.14 L479.4,284.5 L479.9,284.83 L480.4,285.14 L480.9,285.43 L481.4,285.69 L481.9,285.94 L482.4,286.16 L482.9,286.36 L483.4,286.55 L483.9,286.72 L484.4,286.88 L484.9,287.02 L485.4,287.14 L485.9,287.26 L486.4,287.36 L486.9,287.46 L487.4,287.54 L487.9,287.62 L488.4,287.69 L488.9,287.75 L489.4,287.8 L489.9,287.85 L490.4,287.89 L490.9,287.93 L491.4,287.97 L491.9,288 L492.4,288.02 L492.9,288.05 L493.4,288.07 L493.9,288.08 L494.4,288.1 L494.9,288.11 L495.4,288.13 L495.9,288.14 L496.4,288.15 L496.9,288.15 L497.4,288.16 L497.9,288.17 L498.4,288.17 L498.9,288.18 L499.4,288.18 L499.9,288.18 L500.4,288.18 L500.9,288.19 L501.4,288.19 L501.9,288.19 L502.4,288.19 L502.9,288.19 L503.4,288.19 L503.9,288.2 L504.4,288.2 L504.9,288.2 L505.4,288.2 L505.9,288.2 L506.4,288.2 L506.9,288.2 L507.4,288.2 L507.9,288.2 L508.4,288.2 L508.9,288.2 L509.4,288.2 L509.9,288.2 L510.4,288.2 L510.9,288.2 L511.4,288.2 L511.9,288.2 L512.4,288.2 L512.9,288.2 L513.4,288.2 L513.9,288.2 L514.4,288.2 L514.9,288.2 L515.4,288.2 L515.9,288.2 L516.4,288.2 L516.9,288.2 L517.4,288.2 L517.9,288.2 L518.4,288.2 L518.9,288.2 L519.4,288.2 L519.9,288.2 L520.4,288.2 L520.9,288.2 L521.4,288.2 L521.9,288.2 L522.4,288.2 L522.9,288.2 L523.4,288.2 L523.9,288.2 L524.4,288.2 L524.9,288.2 L525.4,288.2 L525.9,288.2 L526.4,288.2 L526.9,288.2 L527.4,288.2 L527.9,288.2 L528.4,288.2 L528.9,288.2 L529.4,288.2 L529.9,288.2 L530.4,288.2 L530.9,288.2 L531.4,288.2 L531.9,288.2 L532.4,288.2 L532.9,288.2 L533.4,288.2 L533.9,288.2 L534.4,288.2 L534.9,288.2 L535.4,288.2 L535.9,288.2 L536.4,288.2 L536.9,288.2 L537.4,288.2 L537.9,288.2 L538.4,288.2" fill="none" stroke="#3f5f4c" stroke-width="1.2"/>
<line x1="445.9" y1="176.7" x2="445.9" y2="237.5" stroke="rgba(50,80,60,0.32)" stroke-width="1" />
<line x1="453.6" y1="237.7" x2="453.6" y2="288.2" stroke="rgba(40,70,50,0.45)" stroke-width="1" />
<rect x="384.9" y="169.9" width="153.6" height="123.6" fill="none" stroke="#000" stroke-width="1.35"/>
<line x1="384.9" y1="231.5" x2="538.5" y2="231.5" stroke="#000" stroke-width="1.35" />
<line x1="431.2" y1="231" x2="431.2" y2="228.4" stroke="#000" stroke-width="1.1" />
<line x1="477.4" y1="231" x2="477.4" y2="228.4" stroke="#000" stroke-width="1.1" />
<line x1="523.6" y1="231" x2="523.6" y2="228.4" stroke="#000" stroke-width="1.1" />
<line x1="408.1" y1="231" x2="408.1" y2="229.2" stroke="#000" stroke-width="1.1" />
<line x1="454.3" y1="231" x2="454.3" y2="229.2" stroke="#000" stroke-width="1.1" />
<line x1="500.5" y1="231" x2="500.5" y2="229.2" stroke="#000" stroke-width="1.1" />
<line x1="431.2" y1="293" x2="431.2" y2="290.4" stroke="#000" stroke-width="1.1" />
<line x1="477.4" y1="293" x2="477.4" y2="290.4" stroke="#000" stroke-width="1.1" />
<line x1="523.6" y1="293" x2="523.6" y2="290.4" stroke="#000" stroke-width="1.1" />
<line x1="408.1" y1="293" x2="408.1" y2="291.2" stroke="#000" stroke-width="1.1" />
<line x1="454.3" y1="293" x2="454.3" y2="291.2" stroke="#000" stroke-width="1.1" />
<line x1="500.5" y1="293" x2="500.5" y2="291.2" stroke="#000" stroke-width="1.1" />
<text x="518" y="184.5" font-size="8.3" font-weight="bold" fill="#000" text-anchor="start" >F 1s</text>
<text x="491.7" y="240.8" font-size="7.9" font-weight="bold" fill="#000" text-anchor="start" >RuO<tspan font-size="5.4" dy="1.6">2</tspan><tspan dy="-1.6">-PTFE</tspan></text>
<text x="385" y="304.9" font-size="10" font-weight="bold" fill="#000" text-anchor="middle" >693</text>
<text x="431.2" y="304.9" font-size="10" font-weight="bold" fill="#000" text-anchor="middle" >690</text>
<text x="477.4" y="304.9" font-size="10" font-weight="bold" fill="#000" text-anchor="middle" >687</text>
<text x="523.6" y="304.9" font-size="10" font-weight="bold" fill="#000" text-anchor="middle" >684</text>
<text x="461.8" y="315.2" font-size="10.5" font-weight="bold" fill="#000" text-anchor="middle" >Binding energy (eV)</text>
<text x="375.5" y="174.7" font-size="16.5" font-weight="bold" fill="#000" text-anchor="start" >f</text>
<text x="0" y="0" font-size="10.5" font-weight="bold" text-anchor="middle" transform="translate(379.5,241) rotate(-90)">Intensity (a.u.)</text>
<path d="M51.3,436.4 L51.65,436.1 L52.12,435.66 L52.7,435.16 L53.33,434.68 L54,434.3 L54.59,434.03 L55.12,433.82 L55.76,433.64 L56.67,433.48 L58,433.3 L59.76,433.11 L61.84,432.93 L64.24,432.75 L66.96,432.57 L70,432.4 L73.57,432.24 L77.66,432.08 L81.98,431.92 L86.19,431.76 L90,431.6 L93.42,431.43 L96.65,431.26 L99.67,431.08 L102.46,430.89 L105,430.7 L107.23,430.5 L109.18,430.29 L110.9,430.07 L112.49,429.84 L114,429.6 L115.41,429.35 L116.66,429.1 L117.82,428.84 L118.91,428.54 L120,428.2 L121.06,427.83 L122.07,427.43 L123.05,426.99 L124.02,426.49 L125,425.9 L125.98,425.23 L126.95,424.48 L127.93,423.66 L128.94,422.77 L130,421.8 L131.14,420.74 L132.33,419.6 L133.55,418.38 L134.78,417.11 L136,415.8 L137.2,414.44 L138.4,413.03 L139.6,411.57 L140.8,410.06 L142,408.5 L143.2,406.91 L144.4,405.29 L145.6,403.61 L146.8,401.85 L148,400 L149.2,398.04 L150.4,395.97 L151.6,393.83 L152.8,391.64 L154,389.4 L155.2,387.1 L156.4,384.73 L157.6,382.32 L158.8,379.89 L160,377.5 L161.21,375.12 L162.42,372.74 L163.64,370.36 L164.83,368.01 L166,365.7 L167.15,363.43 L168.28,361.19 L169.4,358.97 L170.47,356.78 L171.5,354.6 L172.47,352.44 L173.4,350.29 L174.28,348.16 L175.15,346.06 L176,344 L176.9,341.83 L177.83,339.55 L178.71,337.38 L179.46,335.52 L180,334.2 L179.78,335.1 L179.47,336.35 L179.1,337.83 L178.71,339.42 L178.3,341 L177.89,342.59 L177.46,344.28 L177,346.02 L176.51,347.77 L176,349.5 L175.45,351.18 L174.87,352.85 L174.27,354.53 L173.64,356.24 L173,358 L172.36,359.8 L171.73,361.61 L171.07,363.47 L170.34,365.42 L169.5,367.5 L168.52,369.78 L167.43,372.23 L166.27,374.74 L165.11,377.2 L164,379.5 L162.94,381.62 L161.88,383.64 L160.84,385.58 L159.82,387.46 L158.8,389.3 L157.82,391.09 L156.87,392.82 L155.92,394.5 L154.94,396.15 L153.9,397.8 L152.79,399.45 L151.62,401.08 L150.42,402.7 L149.2,404.27 L148,405.8 L146.81,407.27 L145.61,408.7 L144.4,410.09 L143.2,411.45 L142,412.8 L140.8,414.13 L139.6,415.44 L138.4,416.73 L137.2,417.98 L136,419.2 L134.8,420.39 L133.6,421.56 L132.4,422.68 L131.2,423.77 L130,424.8 L128.82,425.78 L127.65,426.7 L126.47,427.58 L125.26,428.42 L124,429.2 L122.73,429.94 L121.46,430.63 L120.14,431.28 L118.67,431.87 L117,432.4 L115.06,432.86 L112.89,433.26 L110.59,433.61 L108.26,433.92 L106,434.2 L103.86,434.44 L101.79,434.62 L99.69,434.78 L97.46,434.93 L95,435.1 L92.26,435.28 L89.29,435.46 L86.19,435.64 L83.06,435.82 L80,436 L76.89,436.19 L73.66,436.38 L70.5,436.57 L67.55,436.75 L65,436.9 L62.89,437.04 L61.1,437.16 L59.58,437.26 L58.23,437.34 L57,437.4 L55.91,437.43 L55,437.44 L54.24,437.43 L53.59,437.38 L53,437.3 L52.49,437.16 L52.07,436.95 L51.75,436.73 L51.49,436.54 L51.3,436.4" fill="none" stroke="#139b3c" stroke-width="1.6" stroke-linejoin="round"/>
<rect x="38.3" y="323" width="153.8" height="123.1" fill="none" stroke="#000" stroke-width="1.35"/>
<line x1="38.8" y1="434.8" x2="41.4" y2="434.8" stroke="#000" stroke-width="1.1" />
<line x1="38.8" y1="405.45" x2="41.4" y2="405.45" stroke="#000" stroke-width="1.1" />
<line x1="38.8" y1="376.1" x2="41.4" y2="376.1" stroke="#000" stroke-width="1.1" />
<line x1="38.8" y1="346.75" x2="41.4" y2="346.75" stroke="#000" stroke-width="1.1" />
<line x1="38.8" y1="420.12" x2="40.6" y2="420.12" stroke="#000" stroke-width="1.1" />
<line x1="38.8" y1="390.77" x2="40.6" y2="390.77" stroke="#000" stroke-width="1.1" />
<line x1="38.8" y1="361.43" x2="40.6" y2="361.43" stroke="#000" stroke-width="1.1" />
<line x1="38.8" y1="332.07" x2="40.6" y2="332.07" stroke="#000" stroke-width="1.1" />
<line x1="63.9" y1="445.6" x2="63.9" y2="443" stroke="#000" stroke-width="1.1" />
<line x1="114.9" y1="445.6" x2="114.9" y2="443" stroke="#000" stroke-width="1.1" />
<line x1="165.9" y1="445.6" x2="165.9" y2="443" stroke="#000" stroke-width="1.1" />
<line x1="89.4" y1="445.6" x2="89.4" y2="443.8" stroke="#000" stroke-width="1.1" />
<line x1="140.4" y1="445.6" x2="140.4" y2="443.8" stroke="#000" stroke-width="1.1" />
<text x="35.2" y="438.3" font-size="10" font-weight="bold" fill="#000" text-anchor="end" >0</text>
<text x="35.2" y="408.95" font-size="10" font-weight="bold" fill="#000" text-anchor="end" >5</text>
<text x="35.2" y="379.6" font-size="10" font-weight="bold" fill="#000" text-anchor="end" >10</text>
<text x="35.2" y="350.25" font-size="10" font-weight="bold" fill="#000" text-anchor="end" >15</text>
<text x="63.9" y="457.6" font-size="10" font-weight="bold" fill="#000" text-anchor="middle" >1.2</text>
<text x="114.9" y="457.6" font-size="10" font-weight="bold" fill="#000" text-anchor="middle" >1.4</text>
<text x="165.9" y="457.6" font-size="10" font-weight="bold" fill="#000" text-anchor="middle" >1.6</text>
<text x="115.5" y="468.7" font-size="10.5" font-weight="bold" fill="#000" text-anchor="middle" >Potential (V <tspan font-style="italic">vs.</tspan> RHE)</text>
<text x="0" y="0" font-size="10.5" font-weight="bold" text-anchor="middle" transform="translate(20.6,385) rotate(-90)">Current (mA cm<tspan font-size="7" dy="-4">−2</tspan><tspan dy="4">)</tspan></text>
<text x="20.2" y="329.3" font-size="16.5" font-weight="bold" fill="#000" text-anchor="start" >g</text>
<path d="M211.4,429.4 L212.77,430.16 L214.7,431.26 L216.95,432.51 L219.3,433.75 L221.5,434.8 L223.67,435.7 L225.96,436.56 L228.2,437.33 L230.24,437.96 L231.9,438.4 L233.09,438.67 L233.9,438.81 L234.51,438.78 L235.06,438.52 L235.7,438 L236.44,437.25 L237.18,436.31 L237.91,435.11 L238.62,433.59 L239.3,431.7 L239.95,429.36 L240.57,426.62 L241.18,423.58 L241.78,420.34 L242.4,417 L243.04,413.47 L243.68,409.68 L244.32,405.77 L244.96,401.9 L245.6,398.2 L246.21,394.66 L246.79,391.18 L247.39,387.79 L248.01,384.52 L248.7,381.4 L249.47,378.36 L250.3,375.38 L251.17,372.56 L252.04,370 L252.9,367.8 L253.74,365.99 L254.58,364.5 L255.42,363.29 L256.26,362.3 L257.1,361.5 L257.94,360.91 L258.78,360.57 L259.63,360.42 L260.47,360.42 L261.3,360.5 L262.12,360.66 L262.94,360.92 L263.76,361.32 L264.58,361.87 L265.4,362.6 L266.23,363.56 L267.07,364.73 L267.92,366.04 L268.76,367.42 L269.6,368.8 L270.41,370.1 L271.18,371.38 L271.97,372.74 L272.83,374.3 L273.8,376.2 L274.93,378.57 L276.17,381.34 L277.48,384.29 L278.81,387.18 L280.1,389.8 L281.39,392.16 L282.71,394.4 L284.01,396.51 L285.26,398.48 L286.4,400.3 L287.39,401.89 L288.26,403.26 L289.09,404.53 L289.94,405.8 L290.9,407.2 L291.97,408.77 L293.09,410.42 L294.27,412.1 L295.51,413.75 L296.8,415.3 L298.17,416.74 L299.61,418.12 L301.11,419.44 L302.61,420.73 L304.1,422 L305.55,423.26 L306.99,424.49 L308.43,425.69 L309.93,426.83 L311.5,427.9 L313.17,428.88 L314.91,429.77 L316.71,430.61 L318.51,431.44 L320.3,432.3 L322.05,433.2 L323.79,434.13 L325.53,435.05 L327.33,435.92 L329.2,436.7 L331.19,437.39 L333.29,438 L335.42,438.56 L337.51,439.08 L339.5,439.6 L341.32,440.1 L343.02,440.58 L344.69,441.04 L346.42,441.48 L348.3,441.9 L350.55,442.34 L353.11,442.78 L355.65,443.2 L357.85,443.55 L359.4,443.8" fill="none" stroke="#e80000" stroke-width="1.9" stroke-linejoin="round"/>
<path d="M211.4,434.8 L212.77,435.32 L214.7,436.08 L216.95,436.93 L219.3,437.75 L221.5,438.4 L223.66,438.88 L225.94,439.28 L228.17,439.6 L230.21,439.84 L231.9,440 L233.14,440.13 L234.03,440.24 L234.72,440.24 L235.36,440.06 L236.1,439.6 L236.94,438.86 L237.78,437.89 L238.62,436.72 L239.46,435.35 L240.3,433.8 L241.12,432 L241.93,429.94 L242.75,427.73 L243.6,425.48 L244.5,423.3 L245.47,421.14 L246.5,418.92 L247.56,416.73 L248.64,414.66 L249.7,412.8 L250.72,411.15 L251.72,409.65 L252.73,408.31 L253.81,407.12 L255,406.1 L256.37,405.22 L257.88,404.47 L259.44,403.9 L260.94,403.53 L262.3,403.4 L263.46,403.55 L264.48,403.95 L265.44,404.54 L266.42,405.28 L267.5,406.1 L268.66,407.02 L269.84,408.09 L271.08,409.26 L272.39,410.51 L273.8,411.8 L275.32,413.14 L276.92,414.56 L278.61,416.03 L280.37,417.55 L282.2,419.1 L284.17,420.76 L286.29,422.55 L288.44,424.33 L290.52,425.99 L292.4,427.4 L294.02,428.5 L295.45,429.36 L296.8,430.09 L298.18,430.77 L299.7,431.5 L301.36,432.27 L303.08,433.02 L304.86,433.76 L306.7,434.49 L308.6,435.2 L310.57,435.92 L312.62,436.64 L314.71,437.34 L316.82,438 L318.9,438.6 L320.89,439.12 L322.81,439.59 L324.76,440.01 L326.86,440.4 L329.2,440.8 L331.85,441.2 L334.72,441.58 L337.75,441.94 L340.84,442.28 L343.9,442.6 L347.2,442.9 L350.79,443.18 L354.28,443.44 L357.28,443.65 L359.4,443.8" fill="none" stroke="#1a78c8" stroke-width="1.9" stroke-linejoin="round"/>
<path d="M211.4,441.7 L212.77,441.82 L214.7,442 L216.95,442.2 L219.3,442.41 L221.5,442.6 L223.63,442.78 L225.84,442.98 L228.02,443.16 L230.08,443.31 L231.9,443.4 L233.39,443.48 L234.61,443.56 L235.73,443.57 L236.87,443.47 L238.2,443.2 L239.75,442.69 L241.41,441.99 L243.14,441.18 L244.89,440.36 L246.6,439.6 L248.28,438.89 L249.96,438.17 L251.64,437.48 L253.32,436.84 L255,436.3 L256.68,435.84 L258.36,435.45 L260.05,435.13 L261.73,434.9 L263.4,434.8 L265.03,434.84 L266.62,435 L268.23,435.26 L269.9,435.57 L271.7,435.9 L273.55,436.23 L275.41,436.6 L277.39,437 L279.62,437.47 L282.2,438 L285.3,438.66 L288.83,439.44 L292.56,440.25 L296.26,441 L299.7,441.6 L302.72,442.03 L305.47,442.35 L308.19,442.59 L311.12,442.79 L314.5,443 L318.42,443.21 L322.74,443.39 L327.29,443.55 L331.93,443.69 L336.5,443.8 L341.39,443.88 L346.69,443.93 L351.85,443.96 L356.27,443.98 L359.4,444" fill="none" stroke="#1cb84e" stroke-width="1.9" stroke-linejoin="round"/>
<rect x="211.4" y="323" width="153.2" height="123.2" fill="none" stroke="#000" stroke-width="1.35"/>
<line x1="256" y1="445.7" x2="256" y2="443.1" stroke="#000" stroke-width="1.1" />
<line x1="305.3" y1="445.7" x2="305.3" y2="443.1" stroke="#000" stroke-width="1.1" />
<line x1="354.6" y1="445.7" x2="354.6" y2="443.1" stroke="#000" stroke-width="1.1" />
<line x1="231.35" y1="445.7" x2="231.35" y2="443.9" stroke="#000" stroke-width="1.1" />
<line x1="280.65" y1="445.7" x2="280.65" y2="443.9" stroke="#000" stroke-width="1.1" />
<line x1="329.95" y1="445.7" x2="329.95" y2="443.9" stroke="#000" stroke-width="1.1" />
<text x="256" y="457.8" font-size="10" font-weight="bold" fill="#000" text-anchor="middle" >300</text>
<text x="305.3" y="457.8" font-size="10" font-weight="bold" fill="#000" text-anchor="middle" >400</text>
<text x="354.6" y="457.8" font-size="10" font-weight="bold" fill="#000" text-anchor="middle" >500</text>
<text x="288.8" y="469.5" font-size="10.5" font-weight="bold" fill="#000" text-anchor="middle" >Time (s)</text>
<line x1="323.4" y1="332.8" x2="341.8" y2="332.8" stroke="#e80000" stroke-width="2" />
<text x="344.2" y="335.8" font-size="8.2" font-weight="bold" fill="#000" text-anchor="start" >O32</text>
<line x1="323.4" y1="343" x2="341.8" y2="343" stroke="#1a78c8" stroke-width="2" />
<text x="344.2" y="346" font-size="8.2" font-weight="bold" fill="#000" text-anchor="start" >O34</text>
<line x1="323.4" y1="353.2" x2="341.8" y2="353.2" stroke="#1cb84e" stroke-width="2" />
<text x="344.2" y="356.2" font-size="8.2" font-weight="bold" fill="#000" text-anchor="start" >O36</text>
<text x="195.8" y="329.4" font-size="16.5" font-weight="bold" fill="#000" text-anchor="start" >h</text>
<path d="M385.1,426.2 L385.87,426.85 L386.95,427.79 L388.22,428.85 L389.58,429.91 L390.9,430.8 L392.23,431.54 L393.64,432.24 L395.07,432.86 L396.48,433.39 L397.8,433.8 L399.03,434.12 L400.22,434.37 L401.36,434.51 L402.45,434.5 L403.5,434.3 L404.51,434 L405.47,433.62 L406.39,433.05 L407.27,432.15 L408.1,430.8 L408.87,428.99 L409.58,426.8 L410.26,424.26 L410.92,421.38 L411.6,418.2 L412.28,414.58 L412.96,410.5 L413.64,406.17 L414.32,401.77 L415,397.5 L415.7,393.25 L416.4,388.89 L417.1,384.58 L417.8,380.5 L418.5,376.8 L419.17,373.52 L419.81,370.56 L420.46,367.86 L421.14,365.36 L421.9,363 L422.74,360.76 L423.65,358.66 L424.6,356.76 L425.56,355.12 L426.5,353.8 L427.42,352.82 L428.34,352.16 L429.26,351.76 L430.18,351.56 L431.1,351.5 L432.02,351.57 L432.94,351.82 L433.86,352.25 L434.78,352.9 L435.7,353.8 L436.62,354.98 L437.54,356.42 L438.46,358.07 L439.38,359.88 L440.3,361.8 L441.2,363.86 L442.08,366.09 L442.97,368.45 L443.9,370.87 L444.9,373.3 L445.97,375.76 L447.08,378.3 L448.24,380.87 L449.45,383.45 L450.7,386 L452.02,388.57 L453.4,391.18 L454.82,393.76 L456.23,396.25 L457.6,398.6 L458.84,400.71 L459.98,402.63 L461.15,404.48 L462.45,406.4 L464,408.5 L465.92,410.91 L468.13,413.55 L470.46,416.24 L472.74,418.78 L474.8,421 L476.57,422.85 L478.17,424.44 L479.69,425.86 L481.27,427.19 L483,428.5 L484.9,429.79 L486.9,431.02 L488.98,432.18 L491.12,433.27 L493.3,434.3 L495.53,435.26 L497.82,436.15 L500.17,436.98 L502.56,437.76 L505,438.5 L507.55,439.19 L510.21,439.83 L512.88,440.42 L515.48,440.98 L517.9,441.5 L520.1,441.99 L522.15,442.44 L524.1,442.85 L526.03,443.24 L528,443.6 L530.17,443.95 L532.49,444.28 L534.72,444.57 L536.64,444.82 L538,445" fill="none" stroke="#e80000" stroke-width="1.9" stroke-linejoin="round"/>
<path d="M385.1,440.7 L386.15,440.91 L387.59,441.21 L389.33,441.54 L391.23,441.86 L393.2,442.1 L395.36,442.29 L397.78,442.47 L400.27,442.6 L402.64,442.62 L404.7,442.5 L406.37,442.26 L407.79,441.92 L409.06,441.46 L410.29,440.83 L411.6,440 L412.98,438.86 L414.36,437.45 L415.74,435.91 L417.12,434.4 L418.5,433.1 L419.88,432 L421.26,430.98 L422.64,430.06 L424.02,429.24 L425.4,428.5 L426.78,427.82 L428.16,427.19 L429.54,426.68 L430.92,426.33 L432.3,426.2 L433.64,426.33 L434.95,426.68 L436.27,427.19 L437.67,427.82 L439.2,428.5 L440.89,429.29 L442.71,430.23 L444.61,431.23 L446.52,432.21 L448.4,433.1 L450.28,433.9 L452.21,434.67 L454.12,435.38 L455.94,436.03 L457.6,436.6 L458.99,437.05 L460.14,437.39 L461.24,437.67 L462.47,437.96 L464,438.3 L465.82,438.71 L467.82,439.14 L470,439.59 L472.39,440.05 L475,440.5 L477.87,440.97 L480.98,441.46 L484.28,441.94 L487.71,442.4 L491.2,442.8 L494.65,443.15 L498.09,443.45 L501.69,443.73 L505.61,443.97 L510,444.2 L515.46,444.41 L521.88,444.6 L528.37,444.77 L534.04,444.9 L538,445" fill="none" stroke="#2f5fa2" stroke-width="1.9" stroke-linejoin="round"/>
<path d="M385.1,445.3 L388.22,445.32 L392.71,445.35 L397.83,445.38 L402.84,445.37 L407,445.3 L410.22,445.14 L412.98,444.92 L415.44,444.66 L417.73,444.41 L420,444.2 L422.19,444.02 L424.22,443.84 L426.14,443.69 L428.05,443.57 L430,443.5 L431.95,443.49 L433.86,443.52 L435.78,443.6 L437.81,443.69 L440,443.8 L442.34,443.93 L444.79,444.09 L447.37,444.27 L450.1,444.44 L453,444.6 L455.33,444.74 L457.06,444.87 L459.34,445 L463.27,445.11 L470,445.2 L481.42,445.27 L496.79,445.32 L513.25,445.35 L527.94,445.38 L538,445.4" fill="none" stroke="#1cc050" stroke-width="1.9" stroke-linejoin="round"/>
<rect x="384.9" y="323.1" width="153.6" height="122.9" fill="none" stroke="#000" stroke-width="1.35"/>
<line x1="430.3" y1="445.5" x2="430.3" y2="442.9" stroke="#000" stroke-width="1.1" />
<line x1="479.6" y1="445.5" x2="479.6" y2="442.9" stroke="#000" stroke-width="1.1" />
<line x1="528.9" y1="445.5" x2="528.9" y2="442.9" stroke="#000" stroke-width="1.1" />
<line x1="405.65" y1="445.5" x2="405.65" y2="443.7" stroke="#000" stroke-width="1.1" />
<line x1="454.95" y1="445.5" x2="454.95" y2="443.7" stroke="#000" stroke-width="1.1" />
<line x1="504.25" y1="445.5" x2="504.25" y2="443.7" stroke="#000" stroke-width="1.1" />
<text x="430.3" y="457.8" font-size="10" font-weight="bold" fill="#000" text-anchor="middle" >300</text>
<text x="479.6" y="457.8" font-size="10" font-weight="bold" fill="#000" text-anchor="middle" >400</text>
<text x="528.9" y="457.8" font-size="10" font-weight="bold" fill="#000" text-anchor="middle" >500</text>
<text x="462.5" y="469.5" font-size="10.5" font-weight="bold" fill="#000" text-anchor="middle" >Time (s)</text>
<line x1="497.3" y1="332.8" x2="515.7" y2="332.8" stroke="#e80000" stroke-width="2" />
<text x="518.1" y="335.8" font-size="8.2" font-weight="bold" fill="#000" text-anchor="start" >O32</text>
<line x1="497.3" y1="343" x2="515.7" y2="343" stroke="#2f5fa2" stroke-width="2" />
<text x="518.1" y="346" font-size="8.2" font-weight="bold" fill="#000" text-anchor="start" >O34</text>
<line x1="497.3" y1="353.2" x2="515.7" y2="353.2" stroke="#1cc050" stroke-width="2" />
<text x="518.1" y="356.2" font-size="8.2" font-weight="bold" fill="#000" text-anchor="start" >O36</text>
<text x="374.6" y="329.4" font-size="16.5" font-weight="bold" fill="#000" text-anchor="start" >i</text>
</svg></body></html>
